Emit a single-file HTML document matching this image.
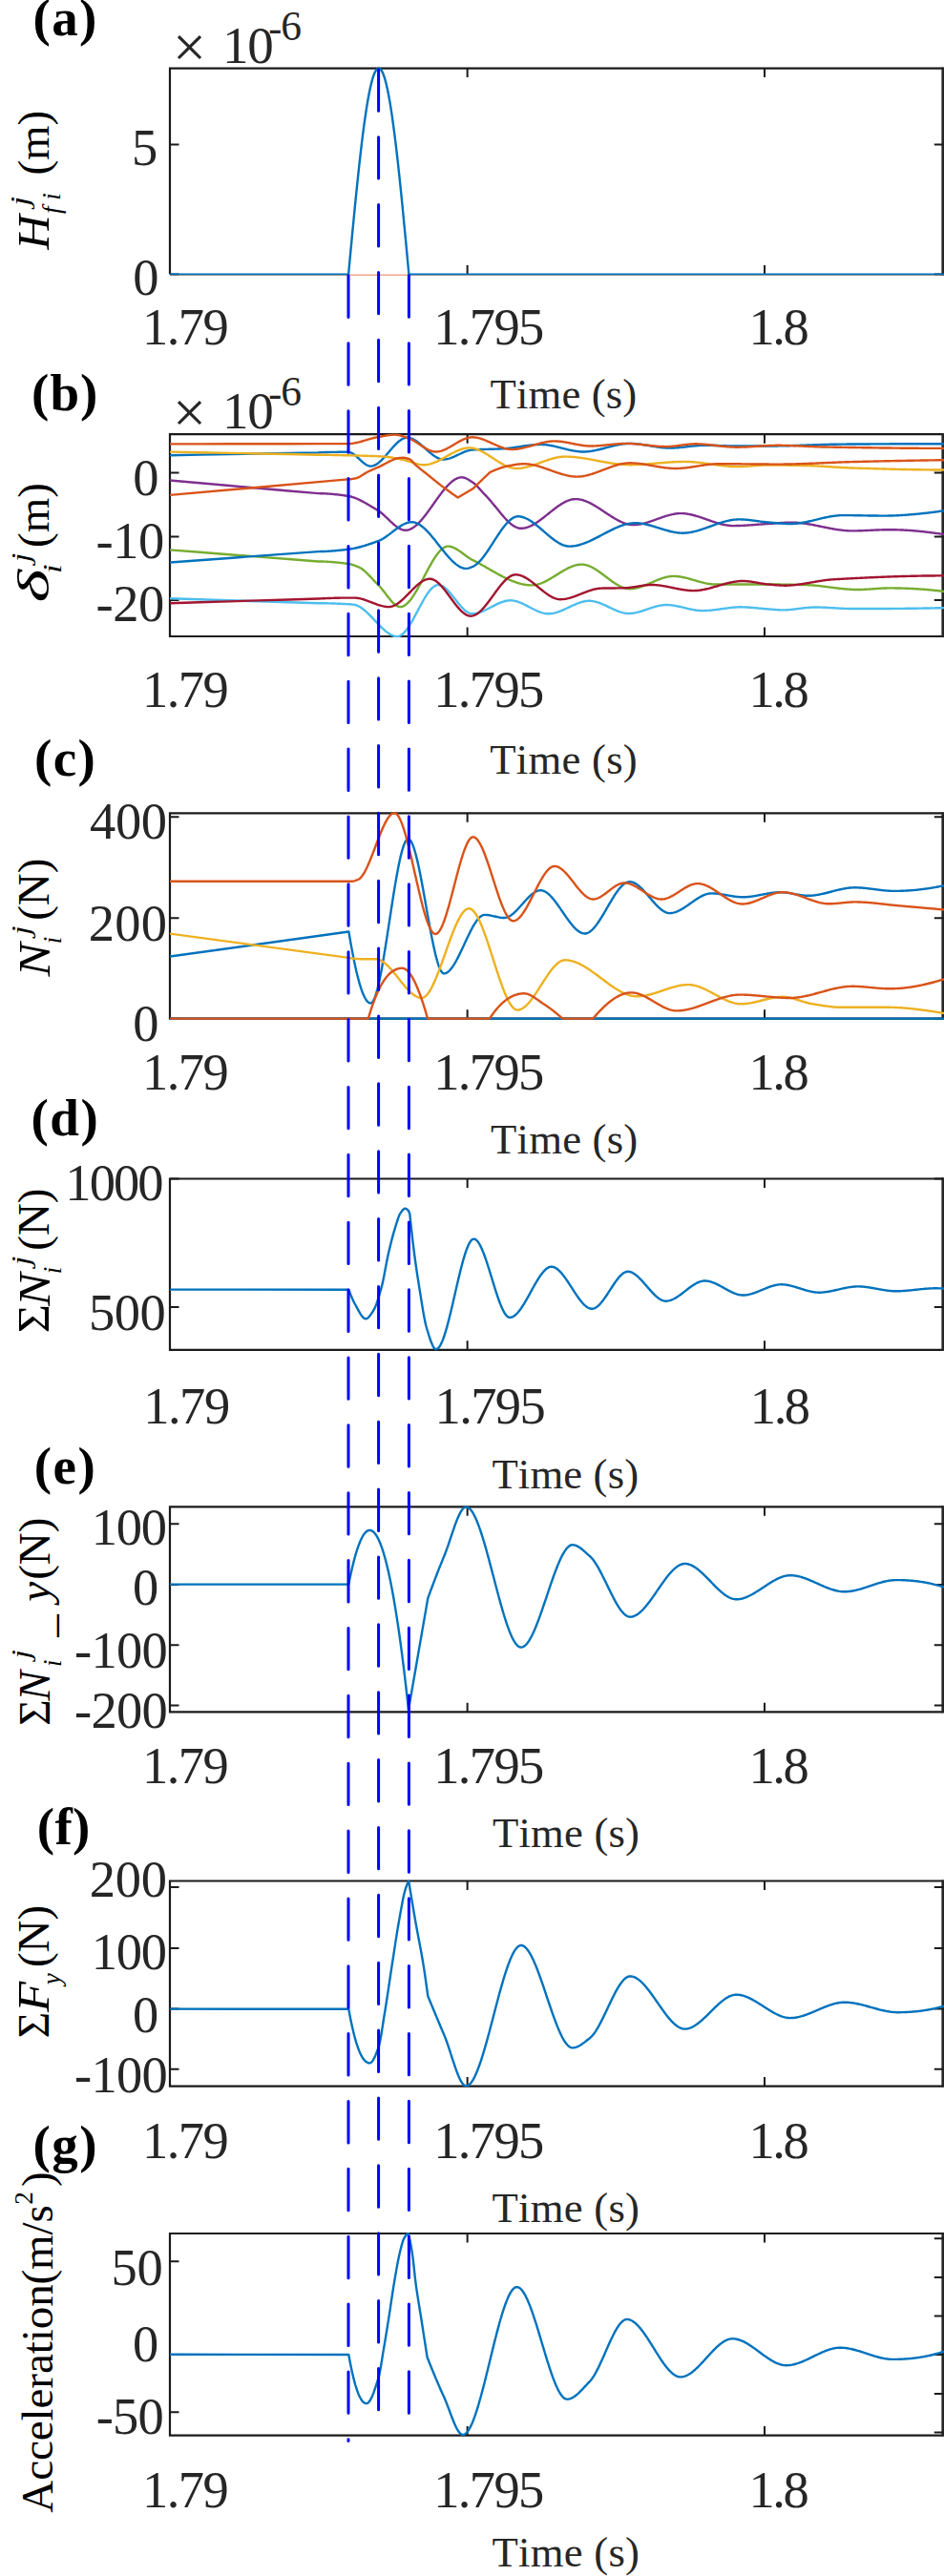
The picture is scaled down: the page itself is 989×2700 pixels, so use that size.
<!DOCTYPE html>
<html><head><meta charset="utf-8"><title>figure</title>
<style>html,body{margin:0;padding:0;background:#fff;}svg{display:block;font-variant-ligatures:none;font-kerning:none;}</style>
</head><body>
<svg width="989" height="2700" viewBox="0 0 989 2700" font-family='"Liberation Serif", "Times New Roman", serif'>
<rect width="989" height="2700" fill="#fff"/>
<defs>
<clipPath id="ca"><rect x="178" y="70.6" width="811.3" height="218"/></clipPath>
<clipPath id="cb"><rect x="178" y="454.2" width="811.3" height="213.8"/></clipPath>
<clipPath id="cc"><rect x="178" y="851.3" width="811.3" height="217.4"/></clipPath>
<clipPath id="cd"><rect x="178" y="1234.5" width="811.3" height="181.3"/></clipPath>
<clipPath id="ce"><rect x="178" y="1578.3" width="811.3" height="217"/></clipPath>
<clipPath id="cf"><rect x="178" y="1970.5" width="811.3" height="217.1"/></clipPath>
<clipPath id="cg"><rect x="178" y="2340" width="811.3" height="213.6"/></clipPath>
</defs>
<path d="M176.9 71.6H988.3M178 71.6V287.6" fill="none" stroke="#1a1a1a" stroke-width="2.2"/>
<path d="M987.8 70.5V288.7" fill="none" stroke="#262626" stroke-width="2.8"/>
<path d="M489.65 287.6V278.1M489.65 71.6V81.1M801 287.6V278.1M801 71.6V81.1M178 151.4H187.5M988.3 151.4H978.8M178 287.6H187.5M988.3 287.6H978.8" stroke="#1a1a1a" stroke-width="2" fill="none"/>
<g clip-path="url(#ca)" fill="none" stroke-linejoin="round" stroke-linecap="round">
<path d="M178 288.6 L988.3 288.6" stroke="#D95319" stroke-width="1.8"/>
<path d="M178 287.6 L365.1 287.6 L365.1 287.6 L365.9 279.01 L366.7 270.44 L367.5 261.89 L368.31 253.39 L369.11 244.93 L369.91 236.55 L370.71 228.25 L371.51 220.04 L372.31 211.93 L373.11 203.95 L373.91 196.1 L374.72 188.39 L375.52 180.84 L376.32 173.46 L377.12 166.26 L377.92 159.25 L378.72 152.45 L379.52 145.86 L380.32 139.49 L381.13 133.35 L381.93 127.46 L382.73 121.83 L383.53 116.45 L384.33 111.35 L385.13 106.53 L385.93 101.99 L386.73 97.74 L387.54 93.8 L388.34 90.16 L389.14 86.83 L389.94 83.82 L390.74 81.14 L391.54 78.78 L392.34 76.75 L393.14 75.05 L393.95 73.69 L394.75 72.67 L395.55 71.98 L396.35 71.64 L397.15 71.64 L397.95 71.98 L398.75 72.67 L399.55 73.69 L400.36 75.05 L401.16 76.75 L401.96 78.78 L402.76 81.14 L403.56 83.82 L404.36 86.83 L405.16 90.16 L405.96 93.8 L406.77 97.74 L407.57 101.99 L408.37 106.53 L409.17 111.35 L409.97 116.45 L410.77 121.83 L411.57 127.46 L412.37 133.35 L413.18 139.49 L413.98 145.86 L414.78 152.45 L415.58 159.25 L416.38 166.26 L417.18 173.46 L417.98 180.84 L418.78 188.39 L419.59 196.1 L420.39 203.95 L421.19 211.93 L421.99 220.04 L422.79 228.25 L423.59 236.55 L424.39 244.93 L425.19 253.39 L426 261.89 L426.8 270.44 L427.6 279.01 L428.4 287.6 L428.4 287.6 L988.3 287.6" stroke="#0072BD" stroke-width="2.4"/>
</g>
<path d="M176.9 455.2H988.3M176.9 667H988.3M178 455.2V667" fill="none" stroke="#1a1a1a" stroke-width="2.2"/>
<path d="M987.8 454.1V668.1" fill="none" stroke="#262626" stroke-width="2.8"/>
<path d="M489.65 667V657.5M489.65 455.2V464.7M801 667V657.5M801 455.2V464.7M178 495.5H187.5M988.3 495.5H978.8M178 562.5H187.5M988.3 562.5H978.8M178 629.1H187.5M988.3 629.1H978.8" stroke="#1a1a1a" stroke-width="2" fill="none"/>
<g clip-path="url(#cb)" fill="none" stroke-linejoin="round" stroke-linecap="round">
<path d="M178 477.2 L209.08 476.63 L240.17 476.07 L271.25 475.5 L302.33 474.93 L333.42 474.37 L334.42 474.31 L335.42 474.26 L336.42 474.22 L337.42 474.17 L338.42 474.13 L339.42 474.1 L340.42 474.06 L341.42 474.03 L342.42 474 L343.42 473.98 L344.42 473.95 L345.42 473.93 L346.42 473.91 L347.42 473.89 L348.42 473.88 L349.42 473.86 L350.42 473.85 L351.42 473.84 L352.42 473.83 L353.42 473.83 L354.42 473.82 L355.42 473.81 L356.42 473.81 L357.42 473.81 L358.42 473.8 L359.42 473.8 L360.42 473.8 L361.42 473.8 L362.42 473.8 L363.42 473.8 L364.42 473.8 L365.42 473.86 L366.42 474.07 L367.42 474.41 L368.42 474.86 L369.42 475.42 L370.42 476.07 L371.42 476.8 L372.42 477.6 L373.42 478.44 L374.42 479.33 L375.42 480.24 L376.42 481.17 L377.42 482.1 L378.42 483.01 L379.42 483.9 L380.42 484.75 L381.42 485.55 L382.42 486.28 L383.42 486.94 L384.42 487.5 L385.42 487.97 L386.42 488.31 L387.42 488.53 L388.42 488.6 L389.42 488.54 L390.42 488.36 L391.42 488.07 L392.42 487.67 L393.42 487.18 L394.42 486.6 L395.42 485.93 L396.42 485.19 L397.42 484.37 L398.42 483.49 L399.42 482.55 L400.42 481.55 L401.42 480.51 L402.42 479.44 L403.42 478.33 L404.42 477.19 L405.42 476.03 L406.42 474.87 L407.42 473.69 L408.42 472.51 L409.42 471.34 L410.42 470.19 L411.42 469.05 L412.42 467.94 L413.42 466.86 L414.42 465.81 L415.42 464.82 L416.42 463.87 L417.42 462.99 L418.42 462.17 L419.42 461.42 L420.42 460.74 L421.42 460.15 L422.42 459.66 L423.42 459.26 L424.42 458.96 L425.42 458.77 L426.42 458.7 L427.42 458.74 L428.42 458.87 L429.42 459.08 L430.42 459.37 L431.42 459.74 L432.42 460.18 L433.42 460.68 L434.42 461.24 L435.42 461.86 L436.42 462.53 L437.42 463.24 L438.42 464 L439.42 464.78 L440.42 465.6 L441.42 466.45 L442.42 467.31 L443.42 468.19 L444.42 469.08 L445.42 469.98 L446.42 470.88 L447.42 471.77 L448.42 472.65 L449.42 473.52 L450.42 474.37 L451.42 475.2 L452.42 476 L453.42 476.76 L454.42 477.48 L455.42 478.16 L456.42 478.8 L457.42 479.37 L458.42 479.89 L459.42 480.35 L460.42 480.74 L461.42 481.05 L462.42 481.28 L463.42 481.44 L464.42 481.5 L465.42 481.48 L466.42 481.4 L467.42 481.27 L468.42 481.1 L469.42 480.87 L470.42 480.6 L471.42 480.3 L472.42 479.96 L473.42 479.59 L474.42 479.19 L475.42 478.77 L476.42 478.33 L477.42 477.88 L478.42 477.41 L479.42 476.94 L480.42 476.46 L481.42 475.99 L482.42 475.52 L483.42 475.05 L484.42 474.6 L485.42 474.16 L486.42 473.74 L487.42 473.35 L488.42 472.98 L489.42 472.64 L490.42 472.34 L491.42 472.07 L492.42 471.85 L493.42 471.68 L494.42 471.55 L495.42 471.47 L496.42 471.41 L497.42 471.35 L498.42 471.29 L499.42 471.24 L500.42 471.2 L501.42 471.15 L502.42 471.11 L503.42 471.07 L504.42 471.04 L505.42 471 L506.42 470.97 L507.42 470.94 L508.42 470.91 L509.42 470.89 L510.42 470.86 L511.42 470.84 L512.42 470.81 L513.42 470.78 L514.42 470.76 L515.42 470.73 L516.42 470.71 L517.42 470.68 L518.42 470.65 L519.42 470.62 L520.42 470.58 L521.42 470.55 L522.42 470.51 L523.42 470.47 L524.42 470.42 L525.42 470.37 L526.42 470.32 L527.42 470.26 L528.42 470.2 L529.42 470.12 L530.42 470.03 L531.42 469.94 L532.42 469.83 L533.42 469.72 L534.42 469.6 L535.42 469.48 L536.42 469.35 L537.42 469.21 L538.42 469.07 L539.42 468.92 L540.42 468.78 L541.42 468.63 L542.42 468.48 L543.42 468.32 L544.42 468.17 L545.42 468.01 L546.42 467.86 L547.42 467.71 L548.42 467.56 L549.42 467.41 L550.42 467.27 L551.42 467.13 L552.42 466.99 L553.42 466.86 L554.42 466.73 L555.42 466.61 L556.42 466.5 L557.42 466.4 L558.42 466.3 L559.42 466.21 L560.42 466.13 L561.42 466.07 L562.42 466.01 L563.42 465.96 L564.42 465.93 L565.42 465.91 L566.42 465.9 L567.42 465.91 L568.42 465.94 L569.42 465.99 L570.42 466.07 L571.42 466.16 L572.42 466.27 L573.42 466.39 L574.42 466.54 L575.42 466.69 L576.42 466.86 L577.42 467.05 L578.42 467.24 L579.42 467.45 L580.42 467.66 L581.42 467.89 L582.42 468.12 L583.42 468.36 L584.42 468.6 L585.42 468.85 L586.42 469.1 L587.42 469.36 L588.42 469.61 L589.42 469.87 L590.42 470.13 L591.42 470.38 L592.42 470.63 L593.42 470.88 L594.42 471.12 L595.42 471.36 L596.42 471.59 L597.42 471.81 L598.42 472.02 L599.42 472.22 L600.42 472.41 L601.42 472.59 L602.42 472.76 L603.42 472.91 L604.42 473.05 L605.42 473.17 L606.42 473.27 L607.42 473.36 L608.42 473.43 L609.42 473.47 L610.42 473.5 L611.42 473.5 L612.42 473.48 L613.42 473.44 L614.42 473.38 L615.42 473.3 L616.42 473.21 L617.42 473.09 L618.42 472.96 L619.42 472.82 L620.42 472.66 L621.42 472.49 L622.42 472.31 L623.42 472.11 L624.42 471.91 L625.42 471.69 L626.42 471.47 L627.42 471.24 L628.42 471 L629.42 470.75 L630.42 470.5 L631.42 470.24 L632.42 469.98 L633.42 469.72 L634.42 469.46 L635.42 469.2 L636.42 468.93 L637.42 468.67 L638.42 468.41 L639.42 468.15 L640.42 467.89 L641.42 467.64 L642.42 467.4 L643.42 467.16 L644.42 466.92 L645.42 466.7 L646.42 466.49 L647.42 466.28 L648.42 466.09 L649.42 465.9 L650.42 465.73 L651.42 465.57 L652.42 465.43 L653.42 465.3 L654.42 465.19 L655.42 465.1 L656.42 465.02 L657.42 464.96 L658.42 464.92 L659.42 464.9 L660.42 464.9 L661.42 464.92 L662.42 464.95 L663.42 465 L664.42 465.06 L665.42 465.13 L666.42 465.21 L667.42 465.31 L668.42 465.41 L669.42 465.53 L670.42 465.65 L671.42 465.78 L672.42 465.92 L673.42 466.07 L674.42 466.22 L675.42 466.37 L676.42 466.53 L677.42 466.69 L678.42 466.86 L679.42 467.03 L680.42 467.19 L681.42 467.36 L682.42 467.53 L683.42 467.7 L684.42 467.86 L685.42 468.02 L686.42 468.18 L687.42 468.33 L688.42 468.48 L689.42 468.63 L690.42 468.76 L691.42 468.89 L692.42 469.01 L693.42 469.12 L694.42 469.22 L695.42 469.31 L696.42 469.39 L697.42 469.46 L698.42 469.52 L699.42 469.56 L700.42 469.59 L701.42 469.6 L702.42 469.6 L703.42 469.58 L704.42 469.56 L705.42 469.52 L706.42 469.47 L707.42 469.41 L708.42 469.35 L709.42 469.27 L710.42 469.19 L711.42 469.11 L712.42 469.01 L713.42 468.91 L714.42 468.81 L715.42 468.7 L716.42 468.59 L717.42 468.48 L718.42 468.37 L719.42 468.25 L720.42 468.13 L721.42 468.02 L722.42 467.91 L723.42 467.79 L724.42 467.68 L725.42 467.58 L726.42 467.47 L727.42 467.38 L728.42 467.28 L729.42 467.2 L730.42 467.12 L731.42 467.04 L732.42 466.98 L733.42 466.92 L734.42 466.88 L735.42 466.84 L736.42 466.82 L737.42 466.8 L738.42 466.8 L739.42 466.8 L740.42 466.81 L741.42 466.82 L742.42 466.83 L743.42 466.85 L744.42 466.86 L745.42 466.88 L746.42 466.91 L747.42 466.93 L748.42 466.95 L749.42 466.98 L750.42 467.01 L751.42 467.04 L752.42 467.07 L753.42 467.1 L754.42 467.13 L755.42 467.16 L756.42 467.19 L757.42 467.22 L758.42 467.25 L759.42 467.28 L760.42 467.31 L761.42 467.33 L762.42 467.36 L763.42 467.38 L764.42 467.41 L765.42 467.43 L766.42 467.45 L767.42 467.46 L768.42 467.48 L769.42 467.49 L770.42 467.49 L771.42 467.5 L772.42 467.5 L773.42 467.5 L774.42 467.5 L775.42 467.5 L776.42 467.5 L777.42 467.5 L778.42 467.5 L779.42 467.5 L780.42 467.5 L781.42 467.5 L782.42 467.5 L783.42 467.5 L784.42 467.5 L785.42 467.5 L786.42 467.5 L787.42 467.5 L788.42 467.5 L789.42 467.5 L790.42 467.5 L791.42 467.5 L792.42 467.5 L793.42 467.5 L794.42 467.5 L795.42 467.5 L796.42 467.5 L797.42 467.5 L798.42 467.5 L799.42 467.5 L800.42 467.5 L801.42 467.5 L802.42 467.5 L803.42 467.5 L804.42 467.5 L805.42 467.5 L806.42 467.5 L807.42 467.5 L808.42 467.49 L809.42 467.48 L810.42 467.48 L811.42 467.47 L812.42 467.46 L813.42 467.44 L814.42 467.43 L815.42 467.42 L816.42 467.4 L817.42 467.38 L818.42 467.36 L819.42 467.34 L820.42 467.32 L821.42 467.3 L822.42 467.28 L823.42 467.25 L824.42 467.23 L825.42 467.2 L826.42 467.18 L827.42 467.15 L828.42 467.12 L829.42 467.09 L830.42 467.06 L831.42 467.03 L832.42 467 L833.42 466.97 L834.42 466.94 L835.42 466.91 L836.42 466.88 L837.42 466.84 L838.42 466.81 L839.42 466.77 L840.42 466.74 L841.42 466.71 L842.42 466.67 L843.42 466.64 L844.42 466.6 L845.42 466.57 L846.42 466.53 L847.42 466.5 L848.42 466.46 L849.42 466.43 L850.42 466.39 L851.42 466.36 L852.42 466.32 L853.42 466.29 L854.42 466.26 L855.42 466.22 L856.42 466.19 L857.42 466.16 L858.42 466.13 L859.42 466.09 L860.42 466.06 L861.42 466.03 L862.42 466 L863.42 465.97 L864.42 465.95 L865.42 465.92 L866.42 465.89 L867.42 465.87 L868.42 465.84 L869.42 465.82 L870.42 465.79 L871.42 465.77 L872.42 465.75 L873.42 465.73 L874.42 465.71 L875.42 465.69 L876.42 465.68 L877.42 465.66 L878.42 465.65 L879.42 465.63 L880.42 465.62 L881.42 465.61 L882.42 465.6 L883.42 465.6 L884.42 465.59 L885.42 465.58 L886.42 465.58 L887.42 465.57 L888.42 465.56 L889.42 465.56 L890.42 465.55 L891.42 465.54 L892.42 465.54 L893.42 465.53 L894.42 465.53 L895.42 465.52 L896.42 465.51 L897.42 465.51 L898.42 465.5 L899.42 465.49 L900.42 465.49 L901.42 465.48 L902.42 465.48 L903.42 465.47 L904.42 465.46 L905.42 465.46 L906.42 465.45 L907.42 465.45 L908.42 465.44 L909.42 465.44 L910.42 465.43 L911.42 465.43 L912.42 465.42 L913.42 465.41 L914.42 465.41 L915.42 465.4 L916.42 465.4 L917.42 465.39 L918.42 465.39 L919.42 465.38 L920.42 465.38 L921.42 465.37 L922.42 465.37 L923.42 465.36 L924.42 465.36 L925.42 465.35 L926.42 465.35 L927.42 465.35 L928.42 465.34 L929.42 465.34 L930.42 465.33 L931.42 465.33 L932.42 465.32 L933.42 465.32 L934.42 465.32 L935.42 465.31 L936.42 465.31 L937.42 465.3 L938.42 465.3 L939.42 465.3 L940.42 465.29 L941.42 465.29 L942.42 465.28 L943.42 465.28 L944.42 465.28 L945.42 465.27 L946.42 465.27 L947.42 465.27 L948.42 465.26 L949.42 465.26 L950.42 465.26 L951.42 465.26 L952.42 465.25 L953.42 465.25 L954.42 465.25 L955.42 465.24 L956.42 465.24 L957.42 465.24 L958.42 465.24 L959.42 465.23 L960.42 465.23 L961.42 465.23 L962.42 465.23 L963.42 465.23 L964.42 465.22 L965.42 465.22 L966.42 465.22 L967.42 465.22 L968.42 465.22 L969.42 465.22 L970.42 465.21 L971.42 465.21 L972.42 465.21 L973.42 465.21 L974.42 465.21 L975.42 465.21 L976.42 465.21 L977.42 465.21 L978.42 465.2 L979.42 465.2 L980.42 465.2 L981.42 465.2 L982.42 465.2 L983.42 465.2 L984.42 465.2 L985.42 465.2 L986.42 465.2 L987.42 465.2 L988.3 465.2" stroke="#0072BD" stroke-width="2.4"/>
<path d="M178 465.4 L209.08 465.35 L240.17 465.3 L271.25 465.25 L302.33 465.2 L333.42 465.15 L334.42 465.15 L335.42 465.15 L336.42 465.15 L337.42 465.15 L338.42 465.15 L339.42 465.15 L340.42 465.15 L341.42 465.15 L342.42 465.15 L343.42 465.14 L344.42 465.14 L345.42 465.14 L346.42 465.14 L347.42 465.14 L348.42 465.14 L349.42 465.14 L350.42 465.13 L351.42 465.13 L352.42 465.13 L353.42 465.13 L354.42 465.13 L355.42 465.12 L356.42 465.12 L357.42 465.12 L358.42 465.12 L359.42 465.11 L360.42 465.11 L361.42 465.11 L362.42 465.11 L363.42 465.1 L364.42 465.1 L365.42 465.08 L366.42 465.04 L367.42 464.96 L368.42 464.86 L369.42 464.74 L370.42 464.59 L371.42 464.42 L372.42 464.23 L373.42 464.02 L374.42 463.8 L375.42 463.56 L376.42 463.31 L377.42 463.04 L378.42 462.77 L379.42 462.48 L380.42 462.19 L381.42 461.9 L382.42 461.6 L383.42 461.3 L384.42 461 L385.42 460.7 L386.42 460.4 L387.42 460.11 L388.42 459.83 L389.42 459.55 L390.42 459.29 L391.42 459.03 L392.42 458.79 L393.42 458.56 L394.42 458.35 L395.42 458.15 L396.42 457.98 L397.42 457.81 L398.42 457.63 L399.42 457.45 L400.42 457.26 L401.42 457.08 L402.42 456.9 L403.42 456.72 L404.42 456.54 L405.42 456.38 L406.42 456.22 L407.42 456.08 L408.42 455.95 L409.42 455.84 L410.42 455.75 L411.42 455.67 L412.42 455.63 L413.42 455.6 L414.42 455.61 L415.42 455.68 L416.42 455.81 L417.42 455.99 L418.42 456.21 L419.42 456.48 L420.42 456.77 L421.42 457.1 L422.42 457.44 L423.42 457.8 L424.42 458.17 L425.42 458.54 L426.42 458.91 L427.42 459.26 L428.42 459.61 L429.42 459.99 L430.42 460.43 L431.42 460.9 L432.42 461.42 L433.42 461.97 L434.42 462.55 L435.42 463.16 L436.42 463.78 L437.42 464.43 L438.42 465.08 L439.42 465.74 L440.42 466.41 L441.42 467.07 L442.42 467.72 L443.42 468.37 L444.42 468.99 L445.42 469.6 L446.42 470.18 L447.42 470.72 L448.42 471.24 L449.42 471.71 L450.42 472.14 L451.42 472.51 L452.42 472.84 L453.42 473.1 L454.42 473.3 L455.42 473.44 L456.42 473.5 L457.42 473.48 L458.42 473.41 L459.42 473.28 L460.42 473.09 L461.42 472.86 L462.42 472.58 L463.42 472.25 L464.42 471.88 L465.42 471.48 L466.42 471.04 L467.42 470.57 L468.42 470.07 L469.42 469.55 L470.42 469.01 L471.42 468.45 L472.42 467.87 L473.42 467.29 L474.42 466.7 L475.42 466.1 L476.42 465.5 L477.42 464.91 L478.42 464.31 L479.42 463.73 L480.42 463.16 L481.42 462.61 L482.42 462.07 L483.42 461.56 L484.42 461.07 L485.42 460.61 L486.42 460.18 L487.42 459.79 L488.42 459.44 L489.42 459.12 L490.42 458.86 L491.42 458.64 L492.42 458.47 L493.42 458.36 L494.42 458.3 L495.42 458.31 L496.42 458.36 L497.42 458.45 L498.42 458.57 L499.42 458.74 L500.42 458.93 L501.42 459.17 L502.42 459.43 L503.42 459.72 L504.42 460.03 L505.42 460.37 L506.42 460.73 L507.42 461.11 L508.42 461.5 L509.42 461.92 L510.42 462.34 L511.42 462.78 L512.42 463.22 L513.42 463.67 L514.42 464.13 L515.42 464.59 L516.42 465.05 L517.42 465.5 L518.42 465.96 L519.42 466.4 L520.42 466.84 L521.42 467.27 L522.42 467.69 L523.42 468.09 L524.42 468.47 L525.42 468.84 L526.42 469.18 L527.42 469.5 L528.42 469.8 L529.42 470.07 L530.42 470.31 L531.42 470.51 L532.42 470.69 L533.42 470.82 L534.42 470.92 L535.42 470.98 L536.42 471 L537.42 470.98 L538.42 470.94 L539.42 470.88 L540.42 470.79 L541.42 470.69 L542.42 470.56 L543.42 470.41 L544.42 470.25 L545.42 470.07 L546.42 469.87 L547.42 469.66 L548.42 469.43 L549.42 469.2 L550.42 468.95 L551.42 468.7 L552.42 468.43 L553.42 468.16 L554.42 467.88 L555.42 467.6 L556.42 467.32 L557.42 467.03 L558.42 466.74 L559.42 466.45 L560.42 466.16 L561.42 465.87 L562.42 465.59 L563.42 465.31 L564.42 465.04 L565.42 464.77 L566.42 464.51 L567.42 464.27 L568.42 464.03 L569.42 463.8 L570.42 463.59 L571.42 463.39 L572.42 463.2 L573.42 463.03 L574.42 462.88 L575.42 462.75 L576.42 462.63 L577.42 462.54 L578.42 462.47 L579.42 462.42 L580.42 462.4 L581.42 462.4 L582.42 462.43 L583.42 462.47 L584.42 462.53 L585.42 462.61 L586.42 462.7 L587.42 462.81 L588.42 462.93 L589.42 463.06 L590.42 463.21 L591.42 463.36 L592.42 463.53 L593.42 463.7 L594.42 463.88 L595.42 464.07 L596.42 464.26 L597.42 464.46 L598.42 464.65 L599.42 464.85 L600.42 465.05 L601.42 465.25 L602.42 465.45 L603.42 465.65 L604.42 465.84 L605.42 466.02 L606.42 466.2 L607.42 466.38 L608.42 466.54 L609.42 466.7 L610.42 466.84 L611.42 466.98 L612.42 467.1 L613.42 467.2 L614.42 467.3 L615.42 467.37 L616.42 467.43 L617.42 467.47 L618.42 467.5 L619.42 467.5 L620.42 467.49 L621.42 467.47 L622.42 467.44 L623.42 467.4 L624.42 467.35 L625.42 467.29 L626.42 467.23 L627.42 467.16 L628.42 467.08 L629.42 467 L630.42 466.91 L631.42 466.82 L632.42 466.72 L633.42 466.62 L634.42 466.52 L635.42 466.42 L636.42 466.31 L637.42 466.21 L638.42 466.1 L639.42 466 L640.42 465.9 L641.42 465.79 L642.42 465.69 L643.42 465.6 L644.42 465.5 L645.42 465.42 L646.42 465.33 L647.42 465.25 L648.42 465.18 L649.42 465.12 L650.42 465.06 L651.42 465.01 L652.42 464.97 L653.42 464.94 L654.42 464.91 L655.42 464.9 L656.42 464.9 L657.42 464.91 L658.42 464.93 L659.42 464.96 L660.42 465 L661.42 465.05 L662.42 465.1 L663.42 465.17 L664.42 465.24 L665.42 465.31 L666.42 465.39 L667.42 465.48 L668.42 465.58 L669.42 465.67 L670.42 465.78 L671.42 465.88 L672.42 465.99 L673.42 466.1 L674.42 466.21 L675.42 466.32 L676.42 466.44 L677.42 466.55 L678.42 466.67 L679.42 466.78 L680.42 466.89 L681.42 467 L682.42 467.11 L683.42 467.22 L684.42 467.32 L685.42 467.42 L686.42 467.51 L687.42 467.6 L688.42 467.68 L689.42 467.76 L690.42 467.83 L691.42 467.89 L692.42 467.95 L693.42 468 L694.42 468.04 L695.42 468.07 L696.42 468.09 L697.42 468.1 L698.42 468.1 L699.42 468.08 L700.42 468.05 L701.42 468 L702.42 467.93 L703.42 467.86 L704.42 467.77 L705.42 467.67 L706.42 467.57 L707.42 467.45 L708.42 467.33 L709.42 467.2 L710.42 467.07 L711.42 466.94 L712.42 466.8 L713.42 466.66 L714.42 466.53 L715.42 466.39 L716.42 466.26 L717.42 466.13 L718.42 466 L719.42 465.89 L720.42 465.78 L721.42 465.67 L722.42 465.58 L723.42 465.5 L724.42 465.43 L725.42 465.38 L726.42 465.33 L727.42 465.31 L728.42 465.3 L729.42 465.31 L730.42 465.32 L731.42 465.35 L732.42 465.38 L733.42 465.42 L734.42 465.47 L735.42 465.53 L736.42 465.6 L737.42 465.67 L738.42 465.75 L739.42 465.83 L740.42 465.92 L741.42 466.02 L742.42 466.12 L743.42 466.22 L744.42 466.33 L745.42 466.44 L746.42 466.55 L747.42 466.66 L748.42 466.78 L749.42 466.89 L750.42 467.01 L751.42 467.12 L752.42 467.24 L753.42 467.35 L754.42 467.47 L755.42 467.58 L756.42 467.69 L757.42 467.79 L758.42 467.89 L759.42 467.99 L760.42 468.09 L761.42 468.18 L762.42 468.26 L763.42 468.34 L764.42 468.41 L765.42 468.48 L766.42 468.53 L767.42 468.58 L768.42 468.62 L769.42 468.66 L770.42 468.68 L771.42 468.7 L772.42 468.7 L773.42 468.7 L774.42 468.69 L775.42 468.67 L776.42 468.65 L777.42 468.62 L778.42 468.59 L779.42 468.56 L780.42 468.52 L781.42 468.48 L782.42 468.43 L783.42 468.38 L784.42 468.33 L785.42 468.27 L786.42 468.21 L787.42 468.15 L788.42 468.09 L789.42 468.03 L790.42 467.96 L791.42 467.9 L792.42 467.83 L793.42 467.77 L794.42 467.7 L795.42 467.63 L796.42 467.57 L797.42 467.5 L798.42 467.44 L799.42 467.37 L800.42 467.31 L801.42 467.25 L802.42 467.2 L803.42 467.14 L804.42 467.09 L805.42 467.04 L806.42 467 L807.42 466.96 L808.42 466.92 L809.42 466.89 L810.42 466.86 L811.42 466.84 L812.42 466.82 L813.42 466.81 L814.42 466.8 L815.42 466.8 L816.42 466.8 L817.42 466.81 L818.42 466.82 L819.42 466.83 L820.42 466.85 L821.42 466.87 L822.42 466.89 L823.42 466.91 L824.42 466.94 L825.42 466.97 L826.42 467 L827.42 467.03 L828.42 467.07 L829.42 467.11 L830.42 467.14 L831.42 467.18 L832.42 467.23 L833.42 467.27 L834.42 467.31 L835.42 467.36 L836.42 467.4 L837.42 467.45 L838.42 467.5 L839.42 467.55 L840.42 467.59 L841.42 467.64 L842.42 467.69 L843.42 467.74 L844.42 467.79 L845.42 467.84 L846.42 467.88 L847.42 467.93 L848.42 467.98 L849.42 468.02 L850.42 468.07 L851.42 468.11 L852.42 468.15 L853.42 468.19 L854.42 468.23 L855.42 468.27 L856.42 468.31 L857.42 468.34 L858.42 468.37 L859.42 468.4 L860.42 468.43 L861.42 468.46 L862.42 468.48 L863.42 468.5 L864.42 468.52 L865.42 468.54 L866.42 468.55 L867.42 468.57 L868.42 468.59 L869.42 468.61 L870.42 468.63 L871.42 468.64 L872.42 468.66 L873.42 468.68 L874.42 468.7 L875.42 468.72 L876.42 468.73 L877.42 468.75 L878.42 468.77 L879.42 468.79 L880.42 468.8 L881.42 468.82 L882.42 468.84 L883.42 468.85 L884.42 468.87 L885.42 468.89 L886.42 468.91 L887.42 468.92 L888.42 468.94 L889.42 468.96 L890.42 468.97 L891.42 468.99 L892.42 469 L893.42 469.02 L894.42 469.04 L895.42 469.05 L896.42 469.07 L897.42 469.08 L898.42 469.1 L899.42 469.12 L900.42 469.13 L901.42 469.15 L902.42 469.16 L903.42 469.18 L904.42 469.19 L905.42 469.21 L906.42 469.22 L907.42 469.24 L908.42 469.25 L909.42 469.27 L910.42 469.28 L911.42 469.3 L912.42 469.31 L913.42 469.32 L914.42 469.34 L915.42 469.35 L916.42 469.36 L917.42 469.38 L918.42 469.39 L919.42 469.4 L920.42 469.42 L921.42 469.43 L922.42 469.44 L923.42 469.46 L924.42 469.47 L925.42 469.48 L926.42 469.49 L927.42 469.51 L928.42 469.52 L929.42 469.53 L930.42 469.54 L931.42 469.55 L932.42 469.56 L933.42 469.57 L934.42 469.59 L935.42 469.6 L936.42 469.61 L937.42 469.62 L938.42 469.63 L939.42 469.64 L940.42 469.65 L941.42 469.66 L942.42 469.67 L943.42 469.68 L944.42 469.69 L945.42 469.7 L946.42 469.7 L947.42 469.71 L948.42 469.72 L949.42 469.73 L950.42 469.74 L951.42 469.75 L952.42 469.75 L953.42 469.76 L954.42 469.77 L955.42 469.78 L956.42 469.78 L957.42 469.79 L958.42 469.8 L959.42 469.8 L960.42 469.81 L961.42 469.82 L962.42 469.82 L963.42 469.83 L964.42 469.83 L965.42 469.84 L966.42 469.84 L967.42 469.85 L968.42 469.85 L969.42 469.86 L970.42 469.86 L971.42 469.87 L972.42 469.87 L973.42 469.87 L974.42 469.88 L975.42 469.88 L976.42 469.88 L977.42 469.89 L978.42 469.89 L979.42 469.89 L980.42 469.89 L981.42 469.89 L982.42 469.9 L983.42 469.9 L984.42 469.9 L985.42 469.9 L986.42 469.9 L987.42 469.9 L988.3 469.9" stroke="#D95319" stroke-width="2.4"/>
<path d="M178 473.6 L209.08 474.22 L240.17 474.83 L271.25 475.45 L302.33 476.07 L333.42 476.68 L334.42 476.7 L335.42 476.71 L336.42 476.73 L337.42 476.74 L338.42 476.76 L339.42 476.77 L340.42 476.79 L341.42 476.81 L342.42 476.82 L343.42 476.84 L344.42 476.86 L345.42 476.88 L346.42 476.9 L347.42 476.92 L348.42 476.94 L349.42 476.96 L350.42 476.98 L351.42 477 L352.42 477.02 L353.42 477.04 L354.42 477.06 L355.42 477.09 L356.42 477.11 L357.42 477.13 L358.42 477.15 L359.42 477.18 L360.42 477.2 L361.42 477.22 L362.42 477.25 L363.42 477.27 L364.42 477.3 L365.42 477.32 L366.42 477.35 L367.42 477.37 L368.42 477.39 L369.42 477.42 L370.42 477.44 L371.42 477.46 L372.42 477.49 L373.42 477.51 L374.42 477.54 L375.42 477.56 L376.42 477.58 L377.42 477.61 L378.42 477.63 L379.42 477.66 L380.42 477.69 L381.42 477.71 L382.42 477.74 L383.42 477.77 L384.42 477.8 L385.42 477.83 L386.42 477.86 L387.42 477.9 L388.42 477.93 L389.42 477.97 L390.42 478 L391.42 478.04 L392.42 478.08 L393.42 478.12 L394.42 478.17 L395.42 478.21 L396.42 478.26 L397.42 478.31 L398.42 478.36 L399.42 478.41 L400.42 478.47 L401.42 478.52 L402.42 478.58 L403.42 478.65 L404.42 478.73 L405.42 478.83 L406.42 478.95 L407.42 479.08 L408.42 479.23 L409.42 479.38 L410.42 479.55 L411.42 479.73 L412.42 479.91 L413.42 480.11 L414.42 480.3 L415.42 480.51 L416.42 480.71 L417.42 480.92 L418.42 481.13 L419.42 481.34 L420.42 481.54 L421.42 481.74 L422.42 481.95 L423.42 482.18 L424.42 482.44 L425.42 482.72 L426.42 483.02 L427.42 483.33 L428.42 483.65 L429.42 483.98 L430.42 484.31 L431.42 484.64 L432.42 484.97 L433.42 485.29 L434.42 485.59 L435.42 485.89 L436.42 486.16 L437.42 486.42 L438.42 486.65 L439.42 486.85 L440.42 487.02 L441.42 487.15 L442.42 487.24 L443.42 487.29 L444.42 487.3 L445.42 487.25 L446.42 487.17 L447.42 487.04 L448.42 486.87 L449.42 486.66 L450.42 486.42 L451.42 486.14 L452.42 485.82 L453.42 485.48 L454.42 485.11 L455.42 484.71 L456.42 484.29 L457.42 483.85 L458.42 483.38 L459.42 482.9 L460.42 482.4 L461.42 481.88 L462.42 481.36 L463.42 480.82 L464.42 480.27 L465.42 479.71 L466.42 479.16 L467.42 478.59 L468.42 478.03 L469.42 477.47 L470.42 476.91 L471.42 476.36 L472.42 475.81 L473.42 475.27 L474.42 474.75 L475.42 474.23 L476.42 473.74 L477.42 473.25 L478.42 472.79 L479.42 472.35 L480.42 471.93 L481.42 471.54 L482.42 471.17 L483.42 470.83 L484.42 470.52 L485.42 470.25 L486.42 470.01 L487.42 469.81 L488.42 469.64 L489.42 469.52 L490.42 469.44 L491.42 469.4 L492.42 469.41 L493.42 469.48 L494.42 469.59 L495.42 469.75 L496.42 469.95 L497.42 470.2 L498.42 470.49 L499.42 470.82 L500.42 471.18 L501.42 471.58 L502.42 472.01 L503.42 472.47 L504.42 472.96 L505.42 473.47 L506.42 474.01 L507.42 474.57 L508.42 475.15 L509.42 475.74 L510.42 476.35 L511.42 476.98 L512.42 477.61 L513.42 478.25 L514.42 478.9 L515.42 479.56 L516.42 480.21 L517.42 480.87 L518.42 481.52 L519.42 482.17 L520.42 482.81 L521.42 483.45 L522.42 484.07 L523.42 484.68 L524.42 485.27 L525.42 485.85 L526.42 486.41 L527.42 486.95 L528.42 487.46 L529.42 487.95 L530.42 488.41 L531.42 488.84 L532.42 489.23 L533.42 489.59 L534.42 489.92 L535.42 490.21 L536.42 490.45 L537.42 490.66 L538.42 490.82 L539.42 490.93 L540.42 490.99 L541.42 491 L542.42 490.98 L543.42 490.92 L544.42 490.85 L545.42 490.75 L546.42 490.62 L547.42 490.47 L548.42 490.3 L549.42 490.11 L550.42 489.9 L551.42 489.67 L552.42 489.43 L553.42 489.17 L554.42 488.89 L555.42 488.6 L556.42 488.3 L557.42 487.98 L558.42 487.66 L559.42 487.33 L560.42 486.98 L561.42 486.64 L562.42 486.28 L563.42 485.92 L564.42 485.56 L565.42 485.2 L566.42 484.83 L567.42 484.46 L568.42 484.1 L569.42 483.74 L570.42 483.38 L571.42 483.02 L572.42 482.67 L573.42 482.33 L574.42 482 L575.42 481.67 L576.42 481.35 L577.42 481.05 L578.42 480.76 L579.42 480.48 L580.42 480.21 L581.42 479.97 L582.42 479.74 L583.42 479.52 L584.42 479.33 L585.42 479.15 L586.42 479 L587.42 478.87 L588.42 478.77 L589.42 478.69 L590.42 478.63 L591.42 478.6 L592.42 478.6 L593.42 478.61 L594.42 478.63 L595.42 478.67 L596.42 478.71 L597.42 478.76 L598.42 478.82 L599.42 478.89 L600.42 478.97 L601.42 479.06 L602.42 479.16 L603.42 479.26 L604.42 479.37 L605.42 479.49 L606.42 479.61 L607.42 479.74 L608.42 479.88 L609.42 480.02 L610.42 480.17 L611.42 480.32 L612.42 480.48 L613.42 480.64 L614.42 480.81 L615.42 480.98 L616.42 481.15 L617.42 481.33 L618.42 481.51 L619.42 481.69 L620.42 481.88 L621.42 482.06 L622.42 482.25 L623.42 482.44 L624.42 482.63 L625.42 482.82 L626.42 483.01 L627.42 483.2 L628.42 483.39 L629.42 483.58 L630.42 483.76 L631.42 483.95 L632.42 484.13 L633.42 484.31 L634.42 484.49 L635.42 484.67 L636.42 484.84 L637.42 485.01 L638.42 485.18 L639.42 485.34 L640.42 485.5 L641.42 485.65 L642.42 485.8 L643.42 485.94 L644.42 486.08 L645.42 486.21 L646.42 486.33 L647.42 486.45 L648.42 486.56 L649.42 486.66 L650.42 486.75 L651.42 486.84 L652.42 486.92 L653.42 486.99 L654.42 487.05 L655.42 487.1 L656.42 487.14 L657.42 487.17 L658.42 487.19 L659.42 487.2 L660.42 487.2 L661.42 487.19 L662.42 487.18 L663.42 487.16 L664.42 487.14 L665.42 487.11 L666.42 487.08 L667.42 487.04 L668.42 487 L669.42 486.95 L670.42 486.9 L671.42 486.85 L672.42 486.79 L673.42 486.73 L674.42 486.66 L675.42 486.6 L676.42 486.53 L677.42 486.45 L678.42 486.38 L679.42 486.3 L680.42 486.22 L681.42 486.14 L682.42 486.06 L683.42 485.98 L684.42 485.89 L685.42 485.81 L686.42 485.72 L687.42 485.64 L688.42 485.55 L689.42 485.46 L690.42 485.38 L691.42 485.29 L692.42 485.2 L693.42 485.12 L694.42 485.04 L695.42 484.95 L696.42 484.87 L697.42 484.8 L698.42 484.72 L699.42 484.64 L700.42 484.57 L701.42 484.5 L702.42 484.43 L703.42 484.37 L704.42 484.31 L705.42 484.25 L706.42 484.2 L707.42 484.15 L708.42 484.1 L709.42 484.06 L710.42 484.02 L711.42 483.99 L712.42 483.96 L713.42 483.94 L714.42 483.92 L715.42 483.91 L716.42 483.9 L717.42 483.9 L718.42 483.91 L719.42 483.93 L720.42 483.96 L721.42 483.99 L722.42 484.04 L723.42 484.09 L724.42 484.16 L725.42 484.22 L726.42 484.3 L727.42 484.38 L728.42 484.47 L729.42 484.57 L730.42 484.67 L731.42 484.78 L732.42 484.89 L733.42 485 L734.42 485.12 L735.42 485.25 L736.42 485.37 L737.42 485.5 L738.42 485.64 L739.42 485.77 L740.42 485.91 L741.42 486.05 L742.42 486.19 L743.42 486.33 L744.42 486.47 L745.42 486.61 L746.42 486.75 L747.42 486.89 L748.42 487.03 L749.42 487.17 L750.42 487.3 L751.42 487.44 L752.42 487.57 L753.42 487.7 L754.42 487.82 L755.42 487.94 L756.42 488.06 L757.42 488.17 L758.42 488.28 L759.42 488.38 L760.42 488.48 L761.42 488.58 L762.42 488.66 L763.42 488.74 L764.42 488.81 L765.42 488.88 L766.42 488.94 L767.42 488.99 L768.42 489.03 L769.42 489.06 L770.42 489.08 L771.42 489.1 L772.42 489.1 L773.42 489.09 L774.42 489.08 L775.42 489.06 L776.42 489.03 L777.42 488.99 L778.42 488.95 L779.42 488.91 L780.42 488.85 L781.42 488.8 L782.42 488.74 L783.42 488.67 L784.42 488.6 L785.42 488.53 L786.42 488.46 L787.42 488.39 L788.42 488.32 L789.42 488.24 L790.42 488.17 L791.42 488.1 L792.42 488.03 L793.42 487.96 L794.42 487.89 L795.42 487.83 L796.42 487.77 L797.42 487.72 L798.42 487.67 L799.42 487.62 L800.42 487.59 L801.42 487.55 L802.42 487.53 L803.42 487.51 L804.42 487.5 L805.42 487.5 L806.42 487.5 L807.42 487.5 L808.42 487.51 L809.42 487.51 L810.42 487.51 L811.42 487.52 L812.42 487.52 L813.42 487.53 L814.42 487.54 L815.42 487.55 L816.42 487.56 L817.42 487.57 L818.42 487.58 L819.42 487.59 L820.42 487.6 L821.42 487.61 L822.42 487.62 L823.42 487.64 L824.42 487.65 L825.42 487.67 L826.42 487.68 L827.42 487.7 L828.42 487.71 L829.42 487.73 L830.42 487.74 L831.42 487.76 L832.42 487.78 L833.42 487.8 L834.42 487.81 L835.42 487.83 L836.42 487.85 L837.42 487.87 L838.42 487.89 L839.42 487.91 L840.42 487.93 L841.42 487.95 L842.42 487.97 L843.42 487.99 L844.42 488.01 L845.42 488.03 L846.42 488.06 L847.42 488.09 L848.42 488.12 L849.42 488.16 L850.42 488.19 L851.42 488.23 L852.42 488.28 L853.42 488.32 L854.42 488.37 L855.42 488.42 L856.42 488.47 L857.42 488.52 L858.42 488.58 L859.42 488.63 L860.42 488.69 L861.42 488.75 L862.42 488.81 L863.42 488.87 L864.42 488.93 L865.42 489 L866.42 489.06 L867.42 489.12 L868.42 489.19 L869.42 489.25 L870.42 489.32 L871.42 489.38 L872.42 489.44 L873.42 489.51 L874.42 489.57 L875.42 489.63 L876.42 489.7 L877.42 489.76 L878.42 489.82 L879.42 489.88 L880.42 489.94 L881.42 489.99 L882.42 490.05 L883.42 490.1 L884.42 490.15 L885.42 490.2 L886.42 490.25 L887.42 490.3 L888.42 490.34 L889.42 490.38 L890.42 490.42 L891.42 490.46 L892.42 490.49 L893.42 490.52 L894.42 490.55 L895.42 490.58 L896.42 490.62 L897.42 490.65 L898.42 490.68 L899.42 490.71 L900.42 490.74 L901.42 490.77 L902.42 490.8 L903.42 490.83 L904.42 490.86 L905.42 490.89 L906.42 490.92 L907.42 490.95 L908.42 490.98 L909.42 491.01 L910.42 491.04 L911.42 491.07 L912.42 491.1 L913.42 491.13 L914.42 491.16 L915.42 491.19 L916.42 491.22 L917.42 491.25 L918.42 491.28 L919.42 491.31 L920.42 491.34 L921.42 491.37 L922.42 491.39 L923.42 491.42 L924.42 491.45 L925.42 491.48 L926.42 491.5 L927.42 491.53 L928.42 491.56 L929.42 491.59 L930.42 491.61 L931.42 491.64 L932.42 491.66 L933.42 491.69 L934.42 491.72 L935.42 491.74 L936.42 491.76 L937.42 491.79 L938.42 491.81 L939.42 491.84 L940.42 491.86 L941.42 491.88 L942.42 491.91 L943.42 491.93 L944.42 491.95 L945.42 491.97 L946.42 492 L947.42 492.02 L948.42 492.04 L949.42 492.06 L950.42 492.08 L951.42 492.1 L952.42 492.12 L953.42 492.14 L954.42 492.15 L955.42 492.17 L956.42 492.19 L957.42 492.21 L958.42 492.23 L959.42 492.24 L960.42 492.26 L961.42 492.27 L962.42 492.29 L963.42 492.3 L964.42 492.32 L965.42 492.33 L966.42 492.34 L967.42 492.36 L968.42 492.37 L969.42 492.38 L970.42 492.39 L971.42 492.4 L972.42 492.41 L973.42 492.42 L974.42 492.43 L975.42 492.44 L976.42 492.45 L977.42 492.46 L978.42 492.46 L979.42 492.47 L980.42 492.47 L981.42 492.48 L982.42 492.48 L983.42 492.49 L984.42 492.49 L985.42 492.5 L986.42 492.5 L987.42 492.5 L988.3 492.5" stroke="#EDB120" stroke-width="2.4"/>
<path d="M178 503.5 L209.08 506.23 L240.17 508.97 L271.25 511.7 L302.33 514.43 L333.42 517.17 L334.42 517.17 L335.42 517.18 L336.42 517.2 L337.42 517.22 L338.42 517.26 L339.42 517.29 L340.42 517.34 L341.42 517.39 L342.42 517.45 L343.42 517.51 L344.42 517.58 L345.42 517.65 L346.42 517.73 L347.42 517.81 L348.42 517.9 L349.42 518 L350.42 518.1 L351.42 518.2 L352.42 518.31 L353.42 518.42 L354.42 518.54 L355.42 518.66 L356.42 518.78 L357.42 518.91 L358.42 519.04 L359.42 519.18 L360.42 519.31 L361.42 519.45 L362.42 519.59 L363.42 519.74 L364.42 519.89 L365.42 520.05 L366.42 520.25 L367.42 520.48 L368.42 520.75 L369.42 521.04 L370.42 521.37 L371.42 521.72 L372.42 522.1 L373.42 522.51 L374.42 522.93 L375.42 523.38 L376.42 523.85 L377.42 524.34 L378.42 524.84 L379.42 525.36 L380.42 525.9 L381.42 526.45 L382.42 527.01 L383.42 527.57 L384.42 528.15 L385.42 528.73 L386.42 529.32 L387.42 529.91 L388.42 530.51 L389.42 531.1 L390.42 531.7 L391.42 532.29 L392.42 532.88 L393.42 533.46 L394.42 534.04 L395.42 534.63 L396.42 535.27 L397.42 535.97 L398.42 536.73 L399.42 537.53 L400.42 538.37 L401.42 539.24 L402.42 540.15 L403.42 541.07 L404.42 542.02 L405.42 542.97 L406.42 543.93 L407.42 544.89 L408.42 545.85 L409.42 546.79 L410.42 547.72 L411.42 548.63 L412.42 549.5 L413.42 550.35 L414.42 551.15 L415.42 551.91 L416.42 552.62 L417.42 553.27 L418.42 553.86 L419.42 554.39 L420.42 554.84 L421.42 555.21 L422.42 555.49 L423.42 555.69 L424.42 555.79 L425.42 555.79 L426.42 555.69 L427.42 555.5 L428.42 555.23 L429.42 554.87 L430.42 554.43 L431.42 553.91 L432.42 553.31 L433.42 552.64 L434.42 551.91 L435.42 551.11 L436.42 550.25 L437.42 549.33 L438.42 548.35 L439.42 547.32 L440.42 546.25 L441.42 545.12 L442.42 543.96 L443.42 542.75 L444.42 541.52 L445.42 540.24 L446.42 538.94 L447.42 537.62 L448.42 536.27 L449.42 534.9 L450.42 533.52 L451.42 532.12 L452.42 530.71 L453.42 529.3 L454.42 527.88 L455.42 526.47 L456.42 525.06 L457.42 523.65 L458.42 522.26 L459.42 520.88 L460.42 519.51 L461.42 518.17 L462.42 516.85 L463.42 515.56 L464.42 514.29 L465.42 513.06 L466.42 511.87 L467.42 510.71 L468.42 509.6 L469.42 508.53 L470.42 507.52 L471.42 506.55 L472.42 505.65 L473.42 504.8 L474.42 504.01 L475.42 503.29 L476.42 502.64 L477.42 502.07 L478.42 501.56 L479.42 501.14 L480.42 500.8 L481.42 500.54 L482.42 500.38 L483.42 500.3 L484.42 500.33 L485.42 500.48 L486.42 500.73 L487.42 501.08 L488.42 501.51 L489.42 502.01 L490.42 502.56 L491.42 503.15 L492.42 503.78 L493.42 504.42 L494.42 505.07 L495.42 505.71 L496.42 506.4 L497.42 507.21 L498.42 508.11 L499.42 509.09 L500.42 510.13 L501.42 511.23 L502.42 512.35 L503.42 513.49 L504.42 514.64 L505.42 515.76 L506.42 516.86 L507.42 517.92 L508.42 518.91 L509.42 519.93 L510.42 520.98 L511.42 522.07 L512.42 523.19 L513.42 524.34 L514.42 525.51 L515.42 526.7 L516.42 527.91 L517.42 529.14 L518.42 530.37 L519.42 531.61 L520.42 532.85 L521.42 534.1 L522.42 535.33 L523.42 536.56 L524.42 537.77 L525.42 538.97 L526.42 540.15 L527.42 541.3 L528.42 542.43 L529.42 543.52 L530.42 544.59 L531.42 545.61 L532.42 546.59 L533.42 547.52 L534.42 548.41 L535.42 549.24 L536.42 550.01 L537.42 550.72 L538.42 551.37 L539.42 551.95 L540.42 552.46 L541.42 552.89 L542.42 553.24 L543.42 553.51 L544.42 553.7 L545.42 553.79 L546.42 553.79 L547.42 553.74 L548.42 553.63 L549.42 553.47 L550.42 553.26 L551.42 553 L552.42 552.7 L553.42 552.35 L554.42 551.96 L555.42 551.53 L556.42 551.07 L557.42 550.57 L558.42 550.03 L559.42 549.47 L560.42 548.87 L561.42 548.25 L562.42 547.6 L563.42 546.93 L564.42 546.23 L565.42 545.52 L566.42 544.78 L567.42 544.04 L568.42 543.27 L569.42 542.5 L570.42 541.72 L571.42 540.92 L572.42 540.12 L573.42 539.32 L574.42 538.52 L575.42 537.71 L576.42 536.91 L577.42 536.11 L578.42 535.32 L579.42 534.53 L580.42 533.75 L581.42 532.99 L582.42 532.24 L583.42 531.5 L584.42 530.79 L585.42 530.09 L586.42 529.41 L587.42 528.76 L588.42 528.13 L589.42 527.53 L590.42 526.96 L591.42 526.42 L592.42 525.91 L593.42 525.44 L594.42 525.01 L595.42 524.61 L596.42 524.26 L597.42 523.95 L598.42 523.68 L599.42 523.47 L600.42 523.3 L601.42 523.18 L602.42 523.11 L603.42 523.1 L604.42 523.14 L605.42 523.22 L606.42 523.33 L607.42 523.49 L608.42 523.69 L609.42 523.92 L610.42 524.19 L611.42 524.49 L612.42 524.82 L613.42 525.19 L614.42 525.58 L615.42 526 L616.42 526.45 L617.42 526.92 L618.42 527.42 L619.42 527.93 L620.42 528.47 L621.42 529.03 L622.42 529.6 L623.42 530.19 L624.42 530.79 L625.42 531.41 L626.42 532.04 L627.42 532.68 L628.42 533.33 L629.42 533.98 L630.42 534.64 L631.42 535.31 L632.42 535.98 L633.42 536.64 L634.42 537.31 L635.42 537.98 L636.42 538.65 L637.42 539.31 L638.42 539.96 L639.42 540.61 L640.42 541.24 L641.42 541.87 L642.42 542.49 L643.42 543.09 L644.42 543.68 L645.42 544.25 L646.42 544.8 L647.42 545.34 L648.42 545.85 L649.42 546.34 L650.42 546.81 L651.42 547.26 L652.42 547.67 L653.42 548.06 L654.42 548.42 L655.42 548.75 L656.42 549.05 L657.42 549.31 L658.42 549.54 L659.42 549.73 L660.42 549.88 L661.42 550 L662.42 550.07 L663.42 550.1 L664.42 550.09 L665.42 550.05 L666.42 549.99 L667.42 549.9 L668.42 549.78 L669.42 549.64 L670.42 549.48 L671.42 549.3 L672.42 549.1 L673.42 548.88 L674.42 548.64 L675.42 548.38 L676.42 548.11 L677.42 547.83 L678.42 547.53 L679.42 547.22 L680.42 546.9 L681.42 546.57 L682.42 546.23 L683.42 545.88 L684.42 545.53 L685.42 545.18 L686.42 544.82 L687.42 544.46 L688.42 544.09 L689.42 543.73 L690.42 543.37 L691.42 543.01 L692.42 542.66 L693.42 542.3 L694.42 541.96 L695.42 541.62 L696.42 541.29 L697.42 540.97 L698.42 540.66 L699.42 540.36 L700.42 540.08 L701.42 539.81 L702.42 539.55 L703.42 539.32 L704.42 539.1 L705.42 538.89 L706.42 538.71 L707.42 538.55 L708.42 538.41 L709.42 538.3 L710.42 538.21 L711.42 538.15 L712.42 538.11 L713.42 538.1 L714.42 538.12 L715.42 538.16 L716.42 538.23 L717.42 538.32 L718.42 538.43 L719.42 538.56 L720.42 538.71 L721.42 538.88 L722.42 539.06 L723.42 539.27 L724.42 539.49 L725.42 539.72 L726.42 539.97 L727.42 540.24 L728.42 540.51 L729.42 540.8 L730.42 541.1 L731.42 541.4 L732.42 541.72 L733.42 542.04 L734.42 542.37 L735.42 542.71 L736.42 543.05 L737.42 543.4 L738.42 543.74 L739.42 544.1 L740.42 544.45 L741.42 544.8 L742.42 545.15 L743.42 545.5 L744.42 545.85 L745.42 546.2 L746.42 546.54 L747.42 546.87 L748.42 547.2 L749.42 547.52 L750.42 547.84 L751.42 548.14 L752.42 548.44 L753.42 548.73 L754.42 549 L755.42 549.26 L756.42 549.51 L757.42 549.74 L758.42 549.96 L759.42 550.16 L760.42 550.35 L761.42 550.51 L762.42 550.66 L763.42 550.79 L764.42 550.9 L765.42 550.98 L766.42 551.05 L767.42 551.09 L768.42 551.1 L769.42 551.1 L770.42 551.09 L771.42 551.07 L772.42 551.05 L773.42 551.03 L774.42 551 L775.42 550.96 L776.42 550.92 L777.42 550.88 L778.42 550.83 L779.42 550.78 L780.42 550.73 L781.42 550.67 L782.42 550.61 L783.42 550.54 L784.42 550.48 L785.42 550.41 L786.42 550.34 L787.42 550.27 L788.42 550.19 L789.42 550.12 L790.42 550.04 L791.42 549.97 L792.42 549.89 L793.42 549.81 L794.42 549.74 L795.42 549.66 L796.42 549.58 L797.42 549.51 L798.42 549.44 L799.42 549.36 L800.42 549.29 L801.42 549.23 L802.42 549.16 L803.42 549.1 L804.42 549.03 L805.42 548.98 L806.42 548.91 L807.42 548.85 L808.42 548.78 L809.42 548.7 L810.42 548.63 L811.42 548.55 L812.42 548.48 L813.42 548.4 L814.42 548.32 L815.42 548.24 L816.42 548.17 L817.42 548.1 L818.42 548.03 L819.42 547.96 L820.42 547.89 L821.42 547.84 L822.42 547.78 L823.42 547.73 L824.42 547.69 L825.42 547.66 L826.42 547.63 L827.42 547.61 L828.42 547.6 L829.42 547.6 L830.42 547.61 L831.42 547.64 L832.42 547.67 L833.42 547.72 L834.42 547.78 L835.42 547.85 L836.42 547.93 L837.42 548.02 L838.42 548.12 L839.42 548.23 L840.42 548.35 L841.42 548.47 L842.42 548.61 L843.42 548.75 L844.42 548.9 L845.42 549.05 L846.42 549.21 L847.42 549.38 L848.42 549.55 L849.42 549.73 L850.42 549.92 L851.42 550.1 L852.42 550.29 L853.42 550.49 L854.42 550.69 L855.42 550.89 L856.42 551.09 L857.42 551.29 L858.42 551.5 L859.42 551.7 L860.42 551.91 L861.42 552.12 L862.42 552.32 L863.42 552.53 L864.42 552.74 L865.42 552.94 L866.42 553.14 L867.42 553.34 L868.42 553.54 L869.42 553.73 L870.42 553.92 L871.42 554.11 L872.42 554.29 L873.42 554.47 L874.42 554.64 L875.42 554.81 L876.42 554.97 L877.42 555.12 L878.42 555.27 L879.42 555.41 L880.42 555.54 L881.42 555.67 L882.42 555.79 L883.42 555.89 L884.42 555.99 L885.42 556.08 L886.42 556.16 L887.42 556.23 L888.42 556.29 L889.42 556.33 L890.42 556.37 L891.42 556.39 L892.42 556.4 L893.42 556.4 L894.42 556.39 L895.42 556.38 L896.42 556.37 L897.42 556.35 L898.42 556.33 L899.42 556.31 L900.42 556.28 L901.42 556.25 L902.42 556.21 L903.42 556.18 L904.42 556.14 L905.42 556.1 L906.42 556.06 L907.42 556.02 L908.42 555.97 L909.42 555.93 L910.42 555.88 L911.42 555.84 L912.42 555.79 L913.42 555.74 L914.42 555.7 L915.42 555.65 L916.42 555.61 L917.42 555.56 L918.42 555.52 L919.42 555.48 L920.42 555.44 L921.42 555.41 L922.42 555.37 L923.42 555.34 L924.42 555.31 L925.42 555.28 L926.42 555.26 L927.42 555.24 L928.42 555.22 L929.42 555.21 L930.42 555.2 L931.42 555.2 L932.42 555.2 L933.42 555.21 L934.42 555.21 L935.42 555.22 L936.42 555.24 L937.42 555.26 L938.42 555.28 L939.42 555.3 L940.42 555.33 L941.42 555.36 L942.42 555.4 L943.42 555.44 L944.42 555.48 L945.42 555.52 L946.42 555.57 L947.42 555.62 L948.42 555.68 L949.42 555.73 L950.42 555.79 L951.42 555.86 L952.42 555.92 L953.42 555.99 L954.42 556.06 L955.42 556.14 L956.42 556.21 L957.42 556.3 L958.42 556.38 L959.42 556.46 L960.42 556.55 L961.42 556.64 L962.42 556.74 L963.42 556.84 L964.42 556.93 L965.42 557.04 L966.42 557.14 L967.42 557.25 L968.42 557.36 L969.42 557.47 L970.42 557.58 L971.42 557.7 L972.42 557.82 L973.42 557.94 L974.42 558.06 L975.42 558.19 L976.42 558.32 L977.42 558.45 L978.42 558.58 L979.42 558.71 L980.42 558.85 L981.42 558.99 L982.42 559.13 L983.42 559.27 L984.42 559.42 L985.42 559.57 L986.42 559.71 L987.42 559.87 L988.3 560" stroke="#7E2F8E" stroke-width="2.4"/>
<path d="M178 576.4 L209.08 578.82 L240.17 581.23 L271.25 583.65 L302.33 586.07 L333.42 588.48 L334.42 588.49 L335.42 588.5 L336.42 588.51 L337.42 588.53 L338.42 588.56 L339.42 588.59 L340.42 588.63 L341.42 588.67 L342.42 588.72 L343.42 588.77 L344.42 588.83 L345.42 588.9 L346.42 588.96 L347.42 589.04 L348.42 589.11 L349.42 589.2 L350.42 589.28 L351.42 589.37 L352.42 589.47 L353.42 589.57 L354.42 589.67 L355.42 589.78 L356.42 589.89 L357.42 590 L358.42 590.12 L359.42 590.24 L360.42 590.36 L361.42 590.49 L362.42 590.62 L363.42 590.75 L364.42 590.89 L365.42 591.04 L366.42 591.23 L367.42 591.45 L368.42 591.71 L369.42 592 L370.42 592.31 L371.42 592.65 L372.42 593.02 L373.42 593.41 L374.42 593.81 L375.42 594.24 L376.42 594.69 L377.42 595.22 L378.42 595.82 L379.42 596.5 L380.42 597.25 L381.42 598.06 L382.42 598.92 L383.42 599.83 L384.42 600.78 L385.42 601.77 L386.42 602.79 L387.42 603.83 L388.42 604.89 L389.42 605.96 L390.42 607.03 L391.42 608.1 L392.42 609.17 L393.42 610.21 L394.42 611.24 L395.42 612.24 L396.42 613.21 L397.42 614.22 L398.42 615.31 L399.42 616.47 L400.42 617.68 L401.42 618.94 L402.42 620.24 L403.42 621.55 L404.42 622.88 L405.42 624.2 L406.42 625.52 L407.42 626.81 L408.42 628.06 L409.42 629.26 L410.42 630.41 L411.42 631.48 L412.42 632.47 L413.42 633.37 L414.42 634.15 L415.42 634.83 L416.42 635.37 L417.42 635.77 L418.42 636.02 L419.42 636.1 L420.42 636.02 L421.42 635.8 L422.42 635.43 L423.42 634.94 L424.42 634.31 L425.42 633.56 L426.42 632.7 L427.42 631.73 L428.42 630.65 L429.42 629.48 L430.42 628.21 L431.42 626.86 L432.42 625.43 L433.42 623.93 L434.42 622.36 L435.42 620.73 L436.42 619.04 L437.42 617.31 L438.42 615.53 L439.42 613.72 L440.42 611.87 L441.42 610.01 L442.42 608.12 L443.42 606.22 L444.42 604.32 L445.42 602.41 L446.42 600.52 L447.42 598.63 L448.42 596.76 L449.42 594.92 L450.42 593.11 L451.42 591.33 L452.42 589.6 L453.42 587.92 L454.42 586.29 L455.42 584.72 L456.42 583.22 L457.42 581.79 L458.42 580.45 L459.42 579.18 L460.42 578.01 L461.42 576.94 L462.42 575.97 L463.42 575.11 L464.42 574.37 L465.42 573.74 L466.42 573.25 L467.42 572.89 L468.42 572.67 L469.42 572.6 L470.42 572.65 L471.42 572.78 L472.42 572.99 L473.42 573.28 L474.42 573.64 L475.42 574.06 L476.42 574.55 L477.42 575.08 L478.42 575.66 L479.42 576.28 L480.42 576.93 L481.42 577.62 L482.42 578.33 L483.42 579.05 L484.42 579.79 L485.42 580.54 L486.42 581.28 L487.42 582.03 L488.42 582.76 L489.42 583.47 L490.42 584.16 L491.42 584.83 L492.42 585.46 L493.42 586.06 L494.42 586.6 L495.42 587.11 L496.42 587.61 L497.42 588.12 L498.42 588.64 L499.42 589.16 L500.42 589.7 L501.42 590.24 L502.42 590.78 L503.42 591.33 L504.42 591.89 L505.42 592.45 L506.42 593.01 L507.42 593.58 L508.42 594.15 L509.42 594.72 L510.42 595.29 L511.42 595.87 L512.42 596.44 L513.42 597.02 L514.42 597.59 L515.42 598.16 L516.42 598.73 L517.42 599.3 L518.42 599.86 L519.42 600.42 L520.42 600.97 L521.42 601.53 L522.42 602.07 L523.42 602.61 L524.42 603.14 L525.42 603.67 L526.42 604.19 L527.42 604.7 L528.42 605.2 L529.42 605.69 L530.42 606.17 L531.42 606.65 L532.42 607.11 L533.42 607.56 L534.42 607.99 L535.42 608.42 L536.42 608.83 L537.42 609.23 L538.42 609.61 L539.42 609.98 L540.42 610.33 L541.42 610.67 L542.42 610.99 L543.42 611.29 L544.42 611.57 L545.42 611.84 L546.42 612.09 L547.42 612.31 L548.42 612.52 L549.42 612.71 L550.42 612.88 L551.42 613.02 L552.42 613.14 L553.42 613.24 L554.42 613.32 L555.42 613.37 L556.42 613.4 L557.42 613.4 L558.42 613.35 L559.42 613.27 L560.42 613.13 L561.42 612.96 L562.42 612.75 L563.42 612.5 L564.42 612.21 L565.42 611.89 L566.42 611.54 L567.42 611.16 L568.42 610.75 L569.42 610.31 L570.42 609.84 L571.42 609.36 L572.42 608.85 L573.42 608.32 L574.42 607.78 L575.42 607.21 L576.42 606.64 L577.42 606.05 L578.42 605.45 L579.42 604.84 L580.42 604.23 L581.42 603.61 L582.42 602.99 L583.42 602.36 L584.42 601.74 L585.42 601.12 L586.42 600.5 L587.42 599.89 L588.42 599.29 L589.42 598.69 L590.42 598.11 L591.42 597.54 L592.42 596.99 L593.42 596.45 L594.42 595.93 L595.42 595.43 L596.42 594.95 L597.42 594.5 L598.42 594.07 L599.42 593.67 L600.42 593.3 L601.42 592.96 L602.42 592.66 L603.42 592.39 L604.42 592.15 L605.42 591.96 L606.42 591.8 L607.42 591.69 L608.42 591.62 L609.42 591.6 L610.42 591.63 L611.42 591.72 L612.42 591.86 L613.42 592.06 L614.42 592.31 L615.42 592.61 L616.42 592.95 L617.42 593.34 L618.42 593.76 L619.42 594.23 L620.42 594.73 L621.42 595.27 L622.42 595.84 L623.42 596.44 L624.42 597.06 L625.42 597.71 L626.42 598.38 L627.42 599.08 L628.42 599.78 L629.42 600.51 L630.42 601.24 L631.42 601.99 L632.42 602.74 L633.42 603.5 L634.42 604.26 L635.42 605.02 L636.42 605.78 L637.42 606.54 L638.42 607.29 L639.42 608.03 L640.42 608.75 L641.42 609.47 L642.42 610.16 L643.42 610.84 L644.42 611.5 L645.42 612.14 L646.42 612.74 L647.42 613.32 L648.42 613.87 L649.42 614.39 L650.42 614.87 L651.42 615.31 L652.42 615.71 L653.42 616.07 L654.42 616.39 L655.42 616.65 L656.42 616.87 L657.42 617.03 L658.42 617.14 L659.42 617.2 L660.42 617.19 L661.42 617.15 L662.42 617.07 L663.42 616.96 L664.42 616.82 L665.42 616.65 L666.42 616.45 L667.42 616.22 L668.42 615.96 L669.42 615.69 L670.42 615.39 L671.42 615.07 L672.42 614.73 L673.42 614.37 L674.42 614 L675.42 613.62 L676.42 613.22 L677.42 612.81 L678.42 612.39 L679.42 611.97 L680.42 611.54 L681.42 611.11 L682.42 610.67 L683.42 610.24 L684.42 609.8 L685.42 609.37 L686.42 608.95 L687.42 608.52 L688.42 608.11 L689.42 607.71 L690.42 607.32 L691.42 606.94 L692.42 606.57 L693.42 606.22 L694.42 605.89 L695.42 605.58 L696.42 605.29 L697.42 605.02 L698.42 604.78 L699.42 604.56 L700.42 604.37 L701.42 604.21 L702.42 604.08 L703.42 603.99 L704.42 603.93 L705.42 603.9 L706.42 603.91 L707.42 603.94 L708.42 604 L709.42 604.08 L710.42 604.19 L711.42 604.31 L712.42 604.46 L713.42 604.62 L714.42 604.81 L715.42 605 L716.42 605.21 L717.42 605.44 L718.42 605.68 L719.42 605.93 L720.42 606.19 L721.42 606.45 L722.42 606.73 L723.42 607.01 L724.42 607.3 L725.42 607.59 L726.42 607.88 L727.42 608.18 L728.42 608.47 L729.42 608.76 L730.42 609.05 L731.42 609.34 L732.42 609.62 L733.42 609.9 L734.42 610.17 L735.42 610.43 L736.42 610.68 L737.42 610.92 L738.42 611.15 L739.42 611.36 L740.42 611.56 L741.42 611.75 L742.42 611.91 L743.42 612.06 L744.42 612.19 L745.42 612.3 L746.42 612.39 L747.42 612.45 L748.42 612.49 L749.42 612.5 L750.42 612.5 L751.42 612.5 L752.42 612.5 L753.42 612.5 L754.42 612.5 L755.42 612.5 L756.42 612.5 L757.42 612.5 L758.42 612.5 L759.42 612.5 L760.42 612.5 L761.42 612.5 L762.42 612.5 L763.42 612.5 L764.42 612.5 L765.42 612.5 L766.42 612.5 L767.42 612.5 L768.42 612.5 L769.42 612.5 L770.42 612.5 L771.42 612.5 L772.42 612.5 L773.42 612.5 L774.42 612.5 L775.42 612.5 L776.42 612.5 L777.42 612.5 L778.42 612.5 L779.42 612.5 L780.42 612.5 L781.42 612.5 L782.42 612.5 L783.42 612.5 L784.42 612.5 L785.42 612.5 L786.42 612.5 L787.42 612.5 L788.42 612.5 L789.42 612.5 L790.42 612.5 L791.42 612.5 L792.42 612.5 L793.42 612.5 L794.42 612.5 L795.42 612.5 L796.42 612.5 L797.42 612.5 L798.42 612.5 L799.42 612.5 L800.42 612.5 L801.42 612.5 L802.42 612.5 L803.42 612.5 L804.42 612.5 L805.42 612.5 L806.42 612.5 L807.42 612.5 L808.42 612.51 L809.42 612.51 L810.42 612.52 L811.42 612.52 L812.42 612.53 L813.42 612.54 L814.42 612.54 L815.42 612.55 L816.42 612.56 L817.42 612.58 L818.42 612.59 L819.42 612.6 L820.42 612.61 L821.42 612.63 L822.42 612.64 L823.42 612.66 L824.42 612.68 L825.42 612.69 L826.42 612.71 L827.42 612.73 L828.42 612.75 L829.42 612.77 L830.42 612.79 L831.42 612.81 L832.42 612.83 L833.42 612.85 L834.42 612.87 L835.42 612.89 L836.42 612.92 L837.42 612.94 L838.42 612.96 L839.42 612.99 L840.42 613.01 L841.42 613.04 L842.42 613.06 L843.42 613.09 L844.42 613.11 L845.42 613.14 L846.42 613.18 L847.42 613.23 L848.42 613.29 L849.42 613.35 L850.42 613.41 L851.42 613.49 L852.42 613.57 L853.42 613.65 L854.42 613.74 L855.42 613.83 L856.42 613.93 L857.42 614.04 L858.42 614.14 L859.42 614.25 L860.42 614.37 L861.42 614.48 L862.42 614.6 L863.42 614.72 L864.42 614.85 L865.42 614.97 L866.42 615.1 L867.42 615.22 L868.42 615.35 L869.42 615.48 L870.42 615.61 L871.42 615.74 L872.42 615.87 L873.42 615.99 L874.42 616.12 L875.42 616.24 L876.42 616.37 L877.42 616.49 L878.42 616.61 L879.42 616.72 L880.42 616.83 L881.42 616.94 L882.42 617.05 L883.42 617.15 L884.42 617.25 L885.42 617.34 L886.42 617.43 L887.42 617.51 L888.42 617.59 L889.42 617.66 L890.42 617.73 L891.42 617.79 L892.42 617.84 L893.42 617.89 L894.42 617.93 L895.42 617.96 L896.42 617.98 L897.42 617.99 L898.42 618 L899.42 618 L900.42 617.99 L901.42 617.97 L902.42 617.94 L903.42 617.91 L904.42 617.87 L905.42 617.82 L906.42 617.77 L907.42 617.72 L908.42 617.66 L909.42 617.6 L910.42 617.53 L911.42 617.47 L912.42 617.4 L913.42 617.33 L914.42 617.25 L915.42 617.18 L916.42 617.11 L917.42 617.04 L918.42 616.97 L919.42 616.9 L920.42 616.83 L921.42 616.77 L922.42 616.71 L923.42 616.65 L924.42 616.6 L925.42 616.55 L926.42 616.51 L927.42 616.47 L928.42 616.44 L929.42 616.42 L930.42 616.41 L931.42 616.4 L932.42 616.4 L933.42 616.4 L934.42 616.41 L935.42 616.41 L936.42 616.42 L937.42 616.43 L938.42 616.44 L939.42 616.46 L940.42 616.47 L941.42 616.49 L942.42 616.51 L943.42 616.54 L944.42 616.56 L945.42 616.59 L946.42 616.61 L947.42 616.65 L948.42 616.68 L949.42 616.71 L950.42 616.75 L951.42 616.79 L952.42 616.83 L953.42 616.88 L954.42 616.92 L955.42 616.97 L956.42 617.02 L957.42 617.07 L958.42 617.13 L959.42 617.19 L960.42 617.25 L961.42 617.31 L962.42 617.37 L963.42 617.44 L964.42 617.51 L965.42 617.58 L966.42 617.65 L967.42 617.73 L968.42 617.81 L969.42 617.89 L970.42 617.97 L971.42 618.06 L972.42 618.15 L973.42 618.24 L974.42 618.33 L975.42 618.43 L976.42 618.53 L977.42 618.63 L978.42 618.73 L979.42 618.84 L980.42 618.95 L981.42 619.06 L982.42 619.17 L983.42 619.29 L984.42 619.41 L985.42 619.53 L986.42 619.66 L987.42 619.79 L988.3 619.9" stroke="#77AC30" stroke-width="2.4"/>
<path d="M178 627.3 L209.08 628.28 L240.17 629.27 L271.25 630.25 L302.33 631.23 L333.42 632.22 L334.42 632.22 L335.42 632.22 L336.42 632.23 L337.42 632.24 L338.42 632.25 L339.42 632.26 L340.42 632.28 L341.42 632.3 L342.42 632.32 L343.42 632.34 L344.42 632.37 L345.42 632.39 L346.42 632.42 L347.42 632.45 L348.42 632.48 L349.42 632.52 L350.42 632.55 L351.42 632.59 L352.42 632.63 L353.42 632.67 L354.42 632.71 L355.42 632.76 L356.42 632.8 L357.42 632.85 L358.42 632.89 L359.42 632.94 L360.42 632.99 L361.42 633.04 L362.42 633.09 L363.42 633.14 L364.42 633.2 L365.42 633.25 L366.42 633.32 L367.42 633.41 L368.42 633.5 L369.42 633.61 L370.42 633.73 L371.42 633.88 L372.42 634.11 L373.42 634.41 L374.42 634.79 L375.42 635.24 L376.42 635.75 L377.42 636.33 L378.42 636.97 L379.42 637.67 L380.42 638.42 L381.42 639.21 L382.42 640.05 L383.42 640.93 L384.42 641.85 L385.42 642.8 L386.42 643.78 L387.42 644.78 L388.42 645.8 L389.42 646.84 L390.42 647.9 L391.42 648.96 L392.42 650.03 L393.42 651.1 L394.42 652.16 L395.42 653.22 L396.42 654.27 L397.42 655.31 L398.42 656.32 L399.42 657.32 L400.42 658.29 L401.42 659.23 L402.42 660.13 L403.42 661 L404.42 661.83 L405.42 662.61 L406.42 663.34 L407.42 664.02 L408.42 664.64 L409.42 665.2 L410.42 665.7 L411.42 666.13 L412.42 666.48 L413.42 666.76 L414.42 666.96 L415.42 667.07 L416.42 667.1 L417.42 666.97 L418.42 666.68 L419.42 666.23 L420.42 665.64 L421.42 664.9 L422.42 664.03 L423.42 663.03 L424.42 661.92 L425.42 660.69 L426.42 659.37 L427.42 657.96 L428.42 656.46 L429.42 654.88 L430.42 653.24 L431.42 651.54 L432.42 649.79 L433.42 647.99 L434.42 646.16 L435.42 644.3 L436.42 642.43 L437.42 640.54 L438.42 638.65 L439.42 636.77 L440.42 634.91 L441.42 633.06 L442.42 631.25 L443.42 629.47 L444.42 627.75 L445.42 626.08 L446.42 624.47 L447.42 622.93 L448.42 621.48 L449.42 620.11 L450.42 618.84 L451.42 617.68 L452.42 616.62 L453.42 615.69 L454.42 614.89 L455.42 614.23 L456.42 613.71 L457.42 613.34 L458.42 613.14 L459.42 613.11 L460.42 613.22 L461.42 613.47 L462.42 613.83 L463.42 614.32 L464.42 614.91 L465.42 615.6 L466.42 616.39 L467.42 617.25 L468.42 618.2 L469.42 619.21 L470.42 620.28 L471.42 621.4 L472.42 622.57 L473.42 623.78 L474.42 625.01 L475.42 626.26 L476.42 627.52 L477.42 628.79 L478.42 630.06 L479.42 631.31 L480.42 632.54 L481.42 633.75 L482.42 634.92 L483.42 636.05 L484.42 637.12 L485.42 638.14 L486.42 639.09 L487.42 639.96 L488.42 640.75 L489.42 641.45 L490.42 642.05 L491.42 642.54 L492.42 642.91 L493.42 643.17 L494.42 643.29 L495.42 643.29 L496.42 643.23 L497.42 643.13 L498.42 642.98 L499.42 642.78 L500.42 642.55 L501.42 642.27 L502.42 641.96 L503.42 641.62 L504.42 641.25 L505.42 640.85 L506.42 640.43 L507.42 639.99 L508.42 639.52 L509.42 639.04 L510.42 638.54 L511.42 638.04 L512.42 637.52 L513.42 637 L514.42 636.48 L515.42 635.95 L516.42 635.42 L517.42 634.9 L518.42 634.39 L519.42 633.89 L520.42 633.4 L521.42 632.92 L522.42 632.46 L523.42 632.03 L524.42 631.61 L525.42 631.22 L526.42 630.86 L527.42 630.53 L528.42 630.23 L529.42 629.97 L530.42 629.75 L531.42 629.57 L532.42 629.43 L533.42 629.34 L534.42 629.3 L535.42 629.31 L536.42 629.38 L537.42 629.49 L538.42 629.64 L539.42 629.84 L540.42 630.08 L541.42 630.36 L542.42 630.67 L543.42 631.02 L544.42 631.4 L545.42 631.8 L546.42 632.23 L547.42 632.67 L548.42 633.14 L549.42 633.63 L550.42 634.13 L551.42 634.63 L552.42 635.15 L553.42 635.68 L554.42 636.2 L555.42 636.73 L556.42 637.26 L557.42 637.78 L558.42 638.29 L559.42 638.79 L560.42 639.28 L561.42 639.76 L562.42 640.21 L563.42 640.65 L564.42 641.06 L565.42 641.45 L566.42 641.8 L567.42 642.13 L568.42 642.42 L569.42 642.67 L570.42 642.89 L571.42 643.06 L572.42 643.19 L573.42 643.27 L574.42 643.3 L575.42 643.28 L576.42 643.22 L577.42 643.12 L578.42 642.98 L579.42 642.81 L580.42 642.6 L581.42 642.36 L582.42 642.09 L583.42 641.79 L584.42 641.47 L585.42 641.12 L586.42 640.75 L587.42 640.37 L588.42 639.96 L589.42 639.54 L590.42 639.1 L591.42 638.66 L592.42 638.2 L593.42 637.74 L594.42 637.27 L595.42 636.8 L596.42 636.33 L597.42 635.86 L598.42 635.39 L599.42 634.93 L600.42 634.47 L601.42 634.03 L602.42 633.59 L603.42 633.17 L604.42 632.76 L605.42 632.37 L606.42 632 L607.42 631.65 L608.42 631.33 L609.42 631.03 L610.42 630.76 L611.42 630.51 L612.42 630.3 L613.42 630.13 L614.42 629.99 L615.42 629.88 L616.42 629.82 L617.42 629.8 L618.42 629.82 L619.42 629.89 L620.42 630 L621.42 630.15 L622.42 630.33 L623.42 630.56 L624.42 630.81 L625.42 631.09 L626.42 631.41 L627.42 631.74 L628.42 632.11 L629.42 632.49 L630.42 632.89 L631.42 633.31 L632.42 633.75 L633.42 634.2 L634.42 634.66 L635.42 635.12 L636.42 635.6 L637.42 636.07 L638.42 636.55 L639.42 637.03 L640.42 637.5 L641.42 637.97 L642.42 638.43 L643.42 638.89 L644.42 639.33 L645.42 639.75 L646.42 640.16 L647.42 640.55 L648.42 640.93 L649.42 641.27 L650.42 641.6 L651.42 641.89 L652.42 642.16 L653.42 642.39 L654.42 642.59 L655.42 642.75 L656.42 642.87 L657.42 642.96 L658.42 643 L659.42 642.99 L660.42 642.96 L661.42 642.88 L662.42 642.78 L663.42 642.65 L664.42 642.5 L665.42 642.31 L666.42 642.11 L667.42 641.88 L668.42 641.63 L669.42 641.37 L670.42 641.09 L671.42 640.79 L672.42 640.49 L673.42 640.17 L674.42 639.84 L675.42 639.51 L676.42 639.17 L677.42 638.82 L678.42 638.48 L679.42 638.13 L680.42 637.79 L681.42 637.45 L682.42 637.12 L683.42 636.79 L684.42 636.47 L685.42 636.17 L686.42 635.87 L687.42 635.59 L688.42 635.33 L689.42 635.09 L690.42 634.86 L691.42 634.66 L692.42 634.48 L693.42 634.33 L694.42 634.2 L695.42 634.1 L696.42 634.04 L697.42 634 L698.42 634 L699.42 634.03 L700.42 634.08 L701.42 634.15 L702.42 634.24 L703.42 634.34 L704.42 634.47 L705.42 634.62 L706.42 634.77 L707.42 634.95 L708.42 635.13 L709.42 635.33 L710.42 635.54 L711.42 635.75 L712.42 635.97 L713.42 636.2 L714.42 636.43 L715.42 636.67 L716.42 636.91 L717.42 637.15 L718.42 637.39 L719.42 637.63 L720.42 637.86 L721.42 638.09 L722.42 638.31 L723.42 638.53 L724.42 638.74 L725.42 638.94 L726.42 639.12 L727.42 639.3 L728.42 639.46 L729.42 639.61 L730.42 639.74 L731.42 639.85 L732.42 639.94 L733.42 640.01 L734.42 640.07 L735.42 640.09 L736.42 640.1 L737.42 640.09 L738.42 640.06 L739.42 640.03 L740.42 639.98 L741.42 639.92 L742.42 639.85 L743.42 639.77 L744.42 639.68 L745.42 639.58 L746.42 639.47 L747.42 639.36 L748.42 639.24 L749.42 639.12 L750.42 638.99 L751.42 638.86 L752.42 638.72 L753.42 638.58 L754.42 638.44 L755.42 638.3 L756.42 638.15 L757.42 638.01 L758.42 637.87 L759.42 637.73 L760.42 637.59 L761.42 637.46 L762.42 637.33 L763.42 637.2 L764.42 637.08 L765.42 636.97 L766.42 636.86 L767.42 636.76 L768.42 636.67 L769.42 636.58 L770.42 636.51 L771.42 636.44 L772.42 636.39 L773.42 636.35 L774.42 636.32 L775.42 636.3 L776.42 636.3 L777.42 636.31 L778.42 636.33 L779.42 636.35 L780.42 636.39 L781.42 636.43 L782.42 636.48 L783.42 636.54 L784.42 636.61 L785.42 636.68 L786.42 636.75 L787.42 636.83 L788.42 636.92 L789.42 637 L790.42 637.09 L791.42 637.19 L792.42 637.28 L793.42 637.38 L794.42 637.47 L795.42 637.57 L796.42 637.67 L797.42 637.76 L798.42 637.86 L799.42 637.95 L800.42 638.04 L801.42 638.13 L802.42 638.21 L803.42 638.29 L804.42 638.36 L805.42 638.43 L806.42 638.5 L807.42 638.58 L808.42 638.66 L809.42 638.75 L810.42 638.83 L811.42 638.92 L812.42 639 L813.42 639.08 L814.42 639.15 L815.42 639.22 L816.42 639.28 L817.42 639.33 L818.42 639.36 L819.42 639.39 L820.42 639.4 L821.42 639.39 L822.42 639.37 L823.42 639.34 L824.42 639.29 L825.42 639.23 L826.42 639.16 L827.42 639.08 L828.42 638.99 L829.42 638.89 L830.42 638.79 L831.42 638.67 L832.42 638.56 L833.42 638.43 L834.42 638.31 L835.42 638.18 L836.42 638.05 L837.42 637.91 L838.42 637.78 L839.42 637.65 L840.42 637.53 L841.42 637.4 L842.42 637.28 L843.42 637.17 L844.42 637.06 L845.42 636.95 L846.42 636.86 L847.42 636.77 L848.42 636.7 L849.42 636.63 L850.42 636.58 L851.42 636.54 L852.42 636.51 L853.42 636.5 L854.42 636.5 L855.42 636.51 L856.42 636.52 L857.42 636.54 L858.42 636.56 L859.42 636.59 L860.42 636.62 L861.42 636.65 L862.42 636.69 L863.42 636.73 L864.42 636.78 L865.42 636.82 L866.42 636.87 L867.42 636.93 L868.42 636.98 L869.42 637.03 L870.42 637.09 L871.42 637.15 L872.42 637.2 L873.42 637.26 L874.42 637.32 L875.42 637.38 L876.42 637.43 L877.42 637.49 L878.42 637.54 L879.42 637.6 L880.42 637.65 L881.42 637.7 L882.42 637.74 L883.42 637.79 L884.42 637.83 L885.42 637.86 L886.42 637.9 L887.42 637.92 L888.42 637.95 L889.42 637.97 L890.42 637.99 L891.42 638 L892.42 638 L893.42 638 L894.42 638 L895.42 638 L896.42 638 L897.42 638 L898.42 638 L899.42 638 L900.42 638 L901.42 638 L902.42 638 L903.42 638 L904.42 638 L905.42 638 L906.42 638 L907.42 638 L908.42 638 L909.42 638 L910.42 637.99 L911.42 637.99 L912.42 637.99 L913.42 637.99 L914.42 637.99 L915.42 637.99 L916.42 637.99 L917.42 637.98 L918.42 637.98 L919.42 637.98 L920.42 637.98 L921.42 637.98 L922.42 637.97 L923.42 637.97 L924.42 637.97 L925.42 637.96 L926.42 637.96 L927.42 637.96 L928.42 637.95 L929.42 637.95 L930.42 637.94 L931.42 637.94 L932.42 637.94 L933.42 637.93 L934.42 637.93 L935.42 637.92 L936.42 637.91 L937.42 637.91 L938.42 637.9 L939.42 637.89 L940.42 637.89 L941.42 637.88 L942.42 637.87 L943.42 637.87 L944.42 637.86 L945.42 637.85 L946.42 637.84 L947.42 637.83 L948.42 637.82 L949.42 637.81 L950.42 637.8 L951.42 637.79 L952.42 637.78 L953.42 637.77 L954.42 637.76 L955.42 637.75 L956.42 637.73 L957.42 637.72 L958.42 637.71 L959.42 637.69 L960.42 637.68 L961.42 637.67 L962.42 637.65 L963.42 637.64 L964.42 637.62 L965.42 637.6 L966.42 637.59 L967.42 637.57 L968.42 637.55 L969.42 637.53 L970.42 637.52 L971.42 637.5 L972.42 637.48 L973.42 637.46 L974.42 637.44 L975.42 637.42 L976.42 637.4 L977.42 637.37 L978.42 637.35 L979.42 637.33 L980.42 637.3 L981.42 637.28 L982.42 637.26 L983.42 637.23 L984.42 637.21 L985.42 637.18 L986.42 637.15 L987.42 637.12 L988.3 637.1" stroke="#4DBEEE" stroke-width="2.4"/>
<path d="M178 632.2 L209.08 631.27 L240.17 630.33 L271.25 629.4 L302.33 628.47 L333.42 627.53 L334.42 627.48 L335.42 627.43 L336.42 627.37 L337.42 627.32 L338.42 627.28 L339.42 627.23 L340.42 627.18 L341.42 627.14 L342.42 627.09 L343.42 627.05 L344.42 627.01 L345.42 626.97 L346.42 626.94 L347.42 626.9 L348.42 626.87 L349.42 626.84 L350.42 626.81 L351.42 626.78 L352.42 626.76 L353.42 626.73 L354.42 626.71 L355.42 626.69 L356.42 626.67 L357.42 626.65 L358.42 626.64 L359.42 626.63 L360.42 626.62 L361.42 626.61 L362.42 626.6 L363.42 626.6 L364.42 626.6 L365.42 626.6 L366.42 626.6 L367.42 626.6 L368.42 626.6 L369.42 626.6 L370.42 626.6 L371.42 626.61 L372.42 626.65 L373.42 626.73 L374.42 626.85 L375.42 627 L376.42 627.19 L377.42 627.4 L378.42 627.64 L379.42 627.91 L380.42 628.2 L381.42 628.51 L382.42 628.84 L383.42 629.19 L384.42 629.54 L385.42 629.91 L386.42 630.29 L387.42 630.68 L388.42 631.06 L389.42 631.45 L390.42 631.84 L391.42 632.23 L392.42 632.61 L393.42 632.99 L394.42 633.35 L395.42 633.7 L396.42 634.04 L397.42 634.36 L398.42 634.66 L399.42 634.94 L400.42 635.19 L401.42 635.42 L402.42 635.62 L403.42 635.79 L404.42 635.92 L405.42 636.02 L406.42 636.08 L407.42 636.1 L408.42 636.05 L409.42 635.91 L410.42 635.68 L411.42 635.38 L412.42 634.99 L413.42 634.53 L414.42 634 L415.42 633.4 L416.42 632.75 L417.42 632.04 L418.42 631.28 L419.42 630.47 L420.42 629.62 L421.42 628.74 L422.42 627.81 L423.42 626.87 L424.42 625.89 L425.42 624.9 L426.42 623.89 L427.42 622.87 L428.42 621.85 L429.42 620.82 L430.42 619.79 L431.42 618.77 L432.42 617.77 L433.42 616.78 L434.42 615.81 L435.42 614.86 L436.42 613.94 L437.42 613.06 L438.42 612.22 L439.42 611.42 L440.42 610.66 L441.42 609.96 L442.42 609.31 L443.42 608.73 L444.42 608.21 L445.42 607.76 L446.42 607.38 L447.42 607.08 L448.42 606.87 L449.42 606.74 L450.42 606.7 L451.42 606.78 L452.42 606.98 L453.42 607.29 L454.42 607.71 L455.42 608.23 L456.42 608.85 L457.42 609.56 L458.42 610.36 L459.42 611.24 L460.42 612.18 L461.42 613.2 L462.42 614.28 L463.42 615.41 L464.42 616.59 L465.42 617.81 L466.42 619.08 L467.42 620.37 L468.42 621.69 L469.42 623.03 L470.42 624.38 L471.42 625.75 L472.42 627.11 L473.42 628.47 L474.42 629.82 L475.42 631.15 L476.42 632.46 L477.42 633.75 L478.42 635 L479.42 636.21 L480.42 637.38 L481.42 638.49 L482.42 639.55 L483.42 640.54 L484.42 641.46 L485.42 642.31 L486.42 643.08 L487.42 643.76 L488.42 644.35 L489.42 644.84 L490.42 645.23 L491.42 645.5 L492.42 645.66 L493.42 645.7 L494.42 645.61 L495.42 645.42 L496.42 645.12 L497.42 644.72 L498.42 644.22 L499.42 643.63 L500.42 642.96 L501.42 642.2 L502.42 641.36 L503.42 640.46 L504.42 639.49 L505.42 638.46 L506.42 637.37 L507.42 636.22 L508.42 635.04 L509.42 633.81 L510.42 632.54 L511.42 631.25 L512.42 629.92 L513.42 628.58 L514.42 627.21 L515.42 625.84 L516.42 624.46 L517.42 623.08 L518.42 621.7 L519.42 620.33 L520.42 618.97 L521.42 617.63 L522.42 616.32 L523.42 615.03 L524.42 613.78 L525.42 612.56 L526.42 611.39 L527.42 610.27 L528.42 609.19 L529.42 608.18 L530.42 607.23 L531.42 606.35 L532.42 605.54 L533.42 604.81 L534.42 604.16 L535.42 603.6 L536.42 603.14 L537.42 602.77 L538.42 602.5 L539.42 602.35 L540.42 602.3 L541.42 602.34 L542.42 602.45 L543.42 602.63 L544.42 602.86 L545.42 603.16 L546.42 603.51 L547.42 603.91 L548.42 604.36 L549.42 604.86 L550.42 605.4 L551.42 605.98 L552.42 606.59 L553.42 607.24 L554.42 607.93 L555.42 608.64 L556.42 609.37 L557.42 610.13 L558.42 610.91 L559.42 611.7 L560.42 612.51 L561.42 613.32 L562.42 614.15 L563.42 614.97 L564.42 615.8 L565.42 616.63 L566.42 617.45 L567.42 618.26 L568.42 619.06 L569.42 619.85 L570.42 620.62 L571.42 621.37 L572.42 622.1 L573.42 622.8 L574.42 623.48 L575.42 624.12 L576.42 624.72 L577.42 625.29 L578.42 625.82 L579.42 626.3 L580.42 626.73 L581.42 627.12 L582.42 627.45 L583.42 627.72 L584.42 627.94 L585.42 628.09 L586.42 628.18 L587.42 628.2 L588.42 628.17 L589.42 628.11 L590.42 628.02 L591.42 627.89 L592.42 627.74 L593.42 627.56 L594.42 627.35 L595.42 627.11 L596.42 626.86 L597.42 626.58 L598.42 626.28 L599.42 625.97 L600.42 625.64 L601.42 625.29 L602.42 624.93 L603.42 624.56 L604.42 624.19 L605.42 623.8 L606.42 623.41 L607.42 623.01 L608.42 622.61 L609.42 622.21 L610.42 621.81 L611.42 621.42 L612.42 621.02 L613.42 620.64 L614.42 620.26 L615.42 619.89 L616.42 619.53 L617.42 619.18 L618.42 618.85 L619.42 618.53 L620.42 618.23 L621.42 617.96 L622.42 617.7 L623.42 617.46 L624.42 617.25 L625.42 617.07 L626.42 616.91 L627.42 616.78 L628.42 616.69 L629.42 616.62 L630.42 616.59 L631.42 616.57 L632.42 616.55 L633.42 616.54 L634.42 616.52 L635.42 616.51 L636.42 616.5 L637.42 616.49 L638.42 616.48 L639.42 616.47 L640.42 616.46 L641.42 616.45 L642.42 616.45 L643.42 616.44 L644.42 616.43 L645.42 616.42 L646.42 616.41 L647.42 616.4 L648.42 616.39 L649.42 616.38 L650.42 616.37 L651.42 616.35 L652.42 616.33 L653.42 616.31 L654.42 616.29 L655.42 616.25 L656.42 616.19 L657.42 616.11 L658.42 616.02 L659.42 615.91 L660.42 615.79 L661.42 615.66 L662.42 615.52 L663.42 615.37 L664.42 615.22 L665.42 615.06 L666.42 614.89 L667.42 614.73 L668.42 614.56 L669.42 614.39 L670.42 614.23 L671.42 614.07 L672.42 613.92 L673.42 613.77 L674.42 613.63 L675.42 613.5 L676.42 613.38 L677.42 613.28 L678.42 613.19 L679.42 613.11 L680.42 613.06 L681.42 613.02 L682.42 613 L683.42 613 L684.42 613.03 L685.42 613.07 L686.42 613.12 L687.42 613.2 L688.42 613.28 L689.42 613.39 L690.42 613.5 L691.42 613.63 L692.42 613.77 L693.42 613.92 L694.42 614.08 L695.42 614.24 L696.42 614.42 L697.42 614.6 L698.42 614.79 L699.42 614.99 L700.42 615.19 L701.42 615.39 L702.42 615.6 L703.42 615.8 L704.42 616.01 L705.42 616.22 L706.42 616.43 L707.42 616.64 L708.42 616.84 L709.42 617.04 L710.42 617.24 L711.42 617.43 L712.42 617.61 L713.42 617.79 L714.42 617.96 L715.42 618.13 L716.42 618.28 L717.42 618.42 L718.42 618.55 L719.42 618.67 L720.42 618.78 L721.42 618.87 L722.42 618.95 L723.42 619.01 L724.42 619.06 L725.42 619.09 L726.42 619.1 L727.42 619.09 L728.42 619.06 L729.42 619.01 L730.42 618.93 L731.42 618.84 L732.42 618.73 L733.42 618.6 L734.42 618.46 L735.42 618.3 L736.42 618.12 L737.42 617.93 L738.42 617.73 L739.42 617.51 L740.42 617.29 L741.42 617.05 L742.42 616.8 L743.42 616.55 L744.42 616.28 L745.42 616.01 L746.42 615.74 L747.42 615.46 L748.42 615.17 L749.42 614.88 L750.42 614.59 L751.42 614.3 L752.42 614 L753.42 613.71 L754.42 613.41 L755.42 613.12 L756.42 612.83 L757.42 612.55 L758.42 612.27 L759.42 612 L760.42 611.73 L761.42 611.47 L762.42 611.21 L763.42 610.97 L764.42 610.74 L765.42 610.51 L766.42 610.3 L767.42 610.1 L768.42 609.92 L769.42 609.75 L770.42 609.59 L771.42 609.45 L772.42 609.33 L773.42 609.23 L774.42 609.14 L775.42 609.07 L776.42 609.03 L777.42 609 L778.42 609 L779.42 609.02 L780.42 609.06 L781.42 609.12 L782.42 609.2 L783.42 609.29 L784.42 609.4 L785.42 609.52 L786.42 609.65 L787.42 609.79 L788.42 609.94 L789.42 610.1 L790.42 610.27 L791.42 610.44 L792.42 610.61 L793.42 610.79 L794.42 610.96 L795.42 611.14 L796.42 611.31 L797.42 611.48 L798.42 611.65 L799.42 611.8 L800.42 611.95 L801.42 612.09 L802.42 612.22 L803.42 612.34 L804.42 612.45 L805.42 612.54 L806.42 612.63 L807.42 612.72 L808.42 612.81 L809.42 612.91 L810.42 613 L811.42 613.09 L812.42 613.18 L813.42 613.26 L814.42 613.34 L815.42 613.42 L816.42 613.49 L817.42 613.55 L818.42 613.6 L819.42 613.64 L820.42 613.67 L821.42 613.69 L822.42 613.7 L823.42 613.69 L824.42 613.68 L825.42 613.65 L826.42 613.61 L827.42 613.56 L828.42 613.49 L829.42 613.42 L830.42 613.34 L831.42 613.25 L832.42 613.15 L833.42 613.04 L834.42 612.93 L835.42 612.81 L836.42 612.68 L837.42 612.54 L838.42 612.4 L839.42 612.26 L840.42 612.1 L841.42 611.95 L842.42 611.79 L843.42 611.62 L844.42 611.46 L845.42 611.29 L846.42 611.12 L847.42 610.94 L848.42 610.77 L849.42 610.59 L850.42 610.41 L851.42 610.24 L852.42 610.06 L853.42 609.89 L854.42 609.71 L855.42 609.54 L856.42 609.37 L857.42 609.21 L858.42 609.04 L859.42 608.88 L860.42 608.73 L861.42 608.58 L862.42 608.43 L863.42 608.29 L864.42 608.16 L865.42 608.03 L866.42 607.91 L867.42 607.79 L868.42 607.69 L869.42 607.59 L870.42 607.5 L871.42 607.42 L872.42 607.35 L873.42 607.29 L874.42 607.23 L875.42 607.17 L876.42 607.12 L877.42 607.06 L878.42 607 L879.42 606.95 L880.42 606.89 L881.42 606.83 L882.42 606.78 L883.42 606.72 L884.42 606.67 L885.42 606.61 L886.42 606.56 L887.42 606.51 L888.42 606.45 L889.42 606.4 L890.42 606.35 L891.42 606.29 L892.42 606.24 L893.42 606.19 L894.42 606.14 L895.42 606.08 L896.42 606.03 L897.42 605.98 L898.42 605.93 L899.42 605.88 L900.42 605.83 L901.42 605.78 L902.42 605.73 L903.42 605.69 L904.42 605.64 L905.42 605.59 L906.42 605.54 L907.42 605.5 L908.42 605.45 L909.42 605.4 L910.42 605.36 L911.42 605.31 L912.42 605.27 L913.42 605.22 L914.42 605.18 L915.42 605.13 L916.42 605.09 L917.42 605.05 L918.42 605 L919.42 604.96 L920.42 604.92 L921.42 604.88 L922.42 604.84 L923.42 604.8 L924.42 604.76 L925.42 604.72 L926.42 604.68 L927.42 604.64 L928.42 604.61 L929.42 604.57 L930.42 604.53 L931.42 604.5 L932.42 604.46 L933.42 604.42 L934.42 604.39 L935.42 604.36 L936.42 604.32 L937.42 604.29 L938.42 604.26 L939.42 604.22 L940.42 604.19 L941.42 604.16 L942.42 604.13 L943.42 604.1 L944.42 604.07 L945.42 604.04 L946.42 604.01 L947.42 603.99 L948.42 603.96 L949.42 603.93 L950.42 603.91 L951.42 603.88 L952.42 603.86 L953.42 603.83 L954.42 603.81 L955.42 603.79 L956.42 603.76 L957.42 603.74 L958.42 603.72 L959.42 603.7 L960.42 603.68 L961.42 603.66 L962.42 603.64 L963.42 603.62 L964.42 603.61 L965.42 603.59 L966.42 603.57 L967.42 603.56 L968.42 603.54 L969.42 603.53 L970.42 603.52 L971.42 603.51 L972.42 603.49 L973.42 603.48 L974.42 603.47 L975.42 603.46 L976.42 603.45 L977.42 603.44 L978.42 603.44 L979.42 603.43 L980.42 603.42 L981.42 603.42 L982.42 603.41 L983.42 603.41 L984.42 603.41 L985.42 603.4 L986.42 603.4 L987.42 603.4 L988.3 603.4" stroke="#A2142F" stroke-width="2.4"/>
<path d="M178 589.5 L209.08 587.22 L240.17 584.93 L271.25 582.65 L302.33 580.37 L333.42 578.08 L334.42 578.08 L335.42 578.07 L336.42 578.05 L337.42 578.03 L338.42 578 L339.42 577.97 L340.42 577.93 L341.42 577.88 L342.42 577.83 L343.42 577.78 L344.42 577.72 L345.42 577.65 L346.42 577.59 L347.42 577.51 L348.42 577.44 L349.42 577.35 L350.42 577.27 L351.42 577.18 L352.42 577.09 L353.42 577 L354.42 576.9 L355.42 576.8 L356.42 576.7 L357.42 576.59 L358.42 576.48 L359.42 576.38 L360.42 576.26 L361.42 576.15 L362.42 576.04 L363.42 575.93 L364.42 575.81 L365.42 575.69 L366.42 575.55 L367.42 575.4 L368.42 575.24 L369.42 575.06 L370.42 574.88 L371.42 574.68 L372.42 574.47 L373.42 574.24 L374.42 574.01 L375.42 573.77 L376.42 573.51 L377.42 573.25 L378.42 572.98 L379.42 572.69 L380.42 572.4 L381.42 572.11 L382.42 571.8 L383.42 571.49 L384.42 571.17 L385.42 570.84 L386.42 570.51 L387.42 570.17 L388.42 569.83 L389.42 569.49 L390.42 569.13 L391.42 568.78 L392.42 568.42 L393.42 568.06 L394.42 567.69 L395.42 567.33 L396.42 566.96 L397.42 566.55 L398.42 566.1 L399.42 565.6 L400.42 565.06 L401.42 564.48 L402.42 563.86 L403.42 563.21 L404.42 562.53 L405.42 561.83 L406.42 561.1 L407.42 560.36 L408.42 559.61 L409.42 558.85 L410.42 558.08 L411.42 557.31 L412.42 556.54 L413.42 555.77 L414.42 555.02 L415.42 554.28 L416.42 553.55 L417.42 552.85 L418.42 552.17 L419.42 551.51 L420.42 550.89 L421.42 550.3 L422.42 549.76 L423.42 549.25 L424.42 548.79 L425.42 548.39 L426.42 548.03 L427.42 547.74 L428.42 547.5 L429.42 547.33 L430.42 547.23 L431.42 547.2 L432.42 547.25 L433.42 547.4 L434.42 547.62 L435.42 547.92 L436.42 548.3 L437.42 548.75 L438.42 549.27 L439.42 549.86 L440.42 550.52 L441.42 551.23 L442.42 552 L443.42 552.83 L444.42 553.71 L445.42 554.63 L446.42 555.61 L447.42 556.62 L448.42 557.67 L449.42 558.76 L450.42 559.88 L451.42 561.03 L452.42 562.21 L453.42 563.41 L454.42 564.63 L455.42 565.87 L456.42 567.12 L457.42 568.39 L458.42 569.66 L459.42 570.93 L460.42 572.21 L461.42 573.49 L462.42 574.76 L463.42 576.02 L464.42 577.27 L465.42 578.51 L466.42 579.73 L467.42 580.93 L468.42 582.11 L469.42 583.26 L470.42 584.38 L471.42 585.46 L472.42 586.51 L473.42 587.53 L474.42 588.5 L475.42 589.42 L476.42 590.3 L477.42 591.12 L478.42 591.89 L479.42 592.61 L480.42 593.26 L481.42 593.84 L482.42 594.36 L483.42 594.81 L484.42 595.19 L485.42 595.49 L486.42 595.71 L487.42 595.85 L488.42 595.9 L489.42 595.84 L490.42 595.66 L491.42 595.39 L492.42 595.04 L493.42 594.65 L494.42 594.24 L495.42 593.82 L496.42 593.33 L497.42 592.73 L498.42 592.04 L499.42 591.26 L500.42 590.4 L501.42 589.46 L502.42 588.44 L503.42 587.36 L504.42 586.21 L505.42 584.99 L506.42 583.73 L507.42 582.41 L508.42 581.04 L509.42 579.64 L510.42 578.2 L511.42 576.72 L512.42 575.22 L513.42 573.7 L514.42 572.16 L515.42 570.61 L516.42 569.05 L517.42 567.48 L518.42 565.92 L519.42 564.37 L520.42 562.82 L521.42 561.29 L522.42 559.79 L523.42 558.3 L524.42 556.85 L525.42 555.43 L526.42 554.06 L527.42 552.72 L528.42 551.44 L529.42 550.21 L530.42 549.04 L531.42 547.93 L532.42 546.89 L533.42 545.93 L534.42 545.04 L535.42 544.23 L536.42 543.51 L537.42 542.89 L538.42 542.36 L539.42 541.93 L540.42 541.61 L541.42 541.4 L542.42 541.3 L543.42 541.32 L544.42 541.39 L545.42 541.53 L546.42 541.72 L547.42 541.97 L548.42 542.28 L549.42 542.63 L550.42 543.03 L551.42 543.48 L552.42 543.98 L553.42 544.51 L554.42 545.08 L555.42 545.69 L556.42 546.33 L557.42 547.01 L558.42 547.71 L559.42 548.44 L560.42 549.2 L561.42 549.97 L562.42 550.77 L563.42 551.59 L564.42 552.42 L565.42 553.26 L566.42 554.11 L567.42 554.97 L568.42 555.84 L569.42 556.7 L570.42 557.57 L571.42 558.44 L572.42 559.3 L573.42 560.16 L574.42 561.01 L575.42 561.85 L576.42 562.67 L577.42 563.48 L578.42 564.27 L579.42 565.03 L580.42 565.78 L581.42 566.5 L582.42 567.19 L583.42 567.85 L584.42 568.48 L585.42 569.07 L586.42 569.63 L587.42 570.14 L588.42 570.62 L589.42 571.05 L590.42 571.43 L591.42 571.76 L592.42 572.04 L593.42 572.27 L594.42 572.44 L595.42 572.55 L596.42 572.6 L597.42 572.59 L598.42 572.56 L599.42 572.49 L600.42 572.39 L601.42 572.27 L602.42 572.12 L603.42 571.95 L604.42 571.75 L605.42 571.52 L606.42 571.28 L607.42 571.01 L608.42 570.72 L609.42 570.41 L610.42 570.08 L611.42 569.73 L612.42 569.36 L613.42 568.98 L614.42 568.58 L615.42 568.17 L616.42 567.74 L617.42 567.3 L618.42 566.84 L619.42 566.38 L620.42 565.9 L621.42 565.42 L622.42 564.92 L623.42 564.42 L624.42 563.91 L625.42 563.4 L626.42 562.88 L627.42 562.35 L628.42 561.82 L629.42 561.29 L630.42 560.76 L631.42 560.23 L632.42 559.7 L633.42 559.17 L634.42 558.64 L635.42 558.12 L636.42 557.59 L637.42 557.08 L638.42 556.57 L639.42 556.06 L640.42 555.56 L641.42 555.08 L642.42 554.6 L643.42 554.13 L644.42 553.67 L645.42 553.22 L646.42 552.79 L647.42 552.37 L648.42 551.97 L649.42 551.58 L650.42 551.2 L651.42 550.85 L652.42 550.51 L653.42 550.19 L654.42 549.9 L655.42 549.62 L656.42 549.36 L657.42 549.13 L658.42 548.92 L659.42 548.74 L660.42 548.58 L661.42 548.45 L662.42 548.34 L663.42 548.27 L664.42 548.22 L665.42 548.2 L666.42 548.21 L667.42 548.25 L668.42 548.3 L669.42 548.39 L670.42 548.49 L671.42 548.61 L672.42 548.76 L673.42 548.92 L674.42 549.1 L675.42 549.29 L676.42 549.5 L677.42 549.73 L678.42 549.97 L679.42 550.22 L680.42 550.48 L681.42 550.75 L682.42 551.03 L683.42 551.32 L684.42 551.62 L685.42 551.92 L686.42 552.23 L687.42 552.54 L688.42 552.85 L689.42 553.17 L690.42 553.49 L691.42 553.8 L692.42 554.12 L693.42 554.43 L694.42 554.75 L695.42 555.05 L696.42 555.35 L697.42 555.65 L698.42 555.94 L699.42 556.21 L700.42 556.48 L701.42 556.74 L702.42 556.99 L703.42 557.23 L704.42 557.45 L705.42 557.66 L706.42 557.85 L707.42 558.02 L708.42 558.18 L709.42 558.32 L710.42 558.44 L711.42 558.53 L712.42 558.61 L713.42 558.66 L714.42 558.69 L715.42 558.7 L716.42 558.68 L717.42 558.64 L718.42 558.57 L719.42 558.48 L720.42 558.37 L721.42 558.24 L722.42 558.1 L723.42 557.93 L724.42 557.75 L725.42 557.54 L726.42 557.33 L727.42 557.1 L728.42 556.85 L729.42 556.59 L730.42 556.32 L731.42 556.03 L732.42 555.74 L733.42 555.43 L734.42 555.12 L735.42 554.79 L736.42 554.46 L737.42 554.12 L738.42 553.78 L739.42 553.43 L740.42 553.08 L741.42 552.72 L742.42 552.36 L743.42 552 L744.42 551.63 L745.42 551.27 L746.42 550.91 L747.42 550.55 L748.42 550.19 L749.42 549.83 L750.42 549.48 L751.42 549.14 L752.42 548.8 L753.42 548.46 L754.42 548.13 L755.42 547.82 L756.42 547.51 L757.42 547.2 L758.42 546.91 L759.42 546.64 L760.42 546.37 L761.42 546.12 L762.42 545.88 L763.42 545.65 L764.42 545.45 L765.42 545.25 L766.42 545.08 L767.42 544.92 L768.42 544.78 L769.42 544.67 L770.42 544.57 L771.42 544.49 L772.42 544.44 L773.42 544.41 L774.42 544.4 L775.42 544.41 L776.42 544.43 L777.42 544.47 L778.42 544.52 L779.42 544.58 L780.42 544.65 L781.42 544.73 L782.42 544.82 L783.42 544.92 L784.42 545.02 L785.42 545.13 L786.42 545.25 L787.42 545.37 L788.42 545.5 L789.42 545.63 L790.42 545.76 L791.42 545.89 L792.42 546.03 L793.42 546.16 L794.42 546.3 L795.42 546.43 L796.42 546.57 L797.42 546.69 L798.42 546.82 L799.42 546.94 L800.42 547.06 L801.42 547.17 L802.42 547.27 L803.42 547.37 L804.42 547.45 L805.42 547.53 L806.42 547.61 L807.42 547.7 L808.42 547.78 L809.42 547.87 L810.42 547.95 L811.42 548.04 L812.42 548.12 L813.42 548.21 L814.42 548.29 L815.42 548.38 L816.42 548.45 L817.42 548.53 L818.42 548.6 L819.42 548.67 L820.42 548.73 L821.42 548.79 L822.42 548.84 L823.42 548.89 L824.42 548.93 L825.42 548.96 L826.42 548.98 L827.42 549 L828.42 549 L829.42 548.99 L830.42 548.96 L831.42 548.92 L832.42 548.86 L833.42 548.79 L834.42 548.7 L835.42 548.6 L836.42 548.48 L837.42 548.35 L838.42 548.21 L839.42 548.06 L840.42 547.9 L841.42 547.72 L842.42 547.54 L843.42 547.35 L844.42 547.15 L845.42 546.95 L846.42 546.73 L847.42 546.51 L848.42 546.29 L849.42 546.06 L850.42 545.83 L851.42 545.59 L852.42 545.35 L853.42 545.11 L854.42 544.86 L855.42 544.62 L856.42 544.37 L857.42 544.13 L858.42 543.89 L859.42 543.65 L860.42 543.41 L861.42 543.17 L862.42 542.94 L863.42 542.71 L864.42 542.49 L865.42 542.27 L866.42 542.06 L867.42 541.86 L868.42 541.67 L869.42 541.48 L870.42 541.3 L871.42 541.13 L872.42 540.97 L873.42 540.83 L874.42 540.69 L875.42 540.57 L876.42 540.46 L877.42 540.36 L878.42 540.28 L879.42 540.21 L880.42 540.16 L881.42 540.12 L882.42 540.1 L883.42 540.1 L884.42 540.1 L885.42 540.1 L886.42 540.11 L887.42 540.11 L888.42 540.12 L889.42 540.13 L890.42 540.14 L891.42 540.15 L892.42 540.16 L893.42 540.17 L894.42 540.19 L895.42 540.2 L896.42 540.22 L897.42 540.23 L898.42 540.25 L899.42 540.26 L900.42 540.28 L901.42 540.3 L902.42 540.31 L903.42 540.33 L904.42 540.35 L905.42 540.37 L906.42 540.38 L907.42 540.4 L908.42 540.42 L909.42 540.44 L910.42 540.45 L911.42 540.47 L912.42 540.48 L913.42 540.5 L914.42 540.51 L915.42 540.53 L916.42 540.54 L917.42 540.55 L918.42 540.56 L919.42 540.57 L920.42 540.58 L921.42 540.58 L922.42 540.59 L923.42 540.6 L924.42 540.6 L925.42 540.6 L926.42 540.6 L927.42 540.6 L928.42 540.59 L929.42 540.58 L930.42 540.56 L931.42 540.55 L932.42 540.53 L933.42 540.5 L934.42 540.48 L935.42 540.45 L936.42 540.41 L937.42 540.38 L938.42 540.34 L939.42 540.29 L940.42 540.25 L941.42 540.2 L942.42 540.15 L943.42 540.09 L944.42 540.04 L945.42 539.98 L946.42 539.92 L947.42 539.85 L948.42 539.78 L949.42 539.71 L950.42 539.64 L951.42 539.56 L952.42 539.49 L953.42 539.41 L954.42 539.32 L955.42 539.24 L956.42 539.15 L957.42 539.06 L958.42 538.97 L959.42 538.87 L960.42 538.78 L961.42 538.68 L962.42 538.58 L963.42 538.48 L964.42 538.37 L965.42 538.27 L966.42 538.16 L967.42 538.05 L968.42 537.94 L969.42 537.82 L970.42 537.71 L971.42 537.59 L972.42 537.47 L973.42 537.35 L974.42 537.23 L975.42 537.11 L976.42 536.98 L977.42 536.86 L978.42 536.73 L979.42 536.6 L980.42 536.47 L981.42 536.34 L982.42 536.2 L983.42 536.07 L984.42 535.93 L985.42 535.8 L986.42 535.66 L987.42 535.52 L988.3 535.4" stroke="#0072BD" stroke-width="2.4"/>
<path d="M178 518.9 L364.5 502.4 L365.5 502.38 L366.5 502.31 L367.5 502.21 L368.5 502.08 L369.5 501.92 L370.5 501.74 L371.5 501.54 L372.5 501.34 L373.5 501.1 L374.5 500.76 L375.5 500.34 L376.5 499.84 L377.5 499.29 L378.5 498.69 L379.5 498.06 L380.5 497.42 L381.5 496.77 L382.5 496.14 L383.5 495.53 L384.5 494.96 L385.5 494.45 L386.5 493.97 L387.5 493.51 L388.5 493.05 L389.5 492.61 L390.5 492.17 L391.5 491.74 L392.5 491.3 L393.5 490.87 L394.5 490.43 L395.5 489.99 L396.5 489.54 L397.5 489.08 L398.5 488.61 L399.5 488.12 L400.5 487.61 L401.5 487.09 L402.5 486.56 L403.5 486.03 L404.5 485.5 L405.5 484.97 L406.5 484.45 L407.5 483.94 L408.5 483.45 L409.5 482.98 L410.5 482.53 L411.5 482.09 L412.5 481.63 L413.5 481.18 L414.5 480.79 L415.5 480.5 L416.5 480.32 L417.5 480.17 L418.5 480.04 L419.5 479.93 L420.5 479.85 L421.5 479.81 L422.5 479.81 L423.5 479.89 L424.5 480.03 L425.5 480.23 L426.5 480.48 L427.5 480.76 L428.5 481.07 L429.5 481.51 L430.5 482.21 L431.5 483.11 L432.5 484.14 L433.5 485.23 L434.5 486.33 L435.5 487.36 L436.5 488.27 L437.5 489.12 L438.5 489.95 L439.5 490.77 L440.5 491.57 L441.5 492.37 L442.5 493.17 L443.5 493.96 L444.5 494.74 L445.5 495.53 L446.5 496.31 L447.5 497.1 L448.5 497.9 L449.5 498.7 L450.5 499.51 L451.5 500.32 L452.5 501.14 L453.5 501.96 L454.5 502.77 L455.5 503.59 L456.5 504.4 L457.5 505.2 L458.5 506 L459.5 506.79 L460.5 507.58 L461.5 508.35 L462.5 509.11 L463.5 509.87 L464.5 510.62 L465.5 511.37 L466.5 512.12 L467.5 512.86 L468.5 513.59 L469.5 514.33 L470.5 515.05 L471.5 515.78 L472.5 516.49 L473.5 517.21 L474.5 517.91 L475.5 518.61 L476.5 519.31 L477.5 520 L478.5 520.69 L479.5 521.36 L479.7 521.5 L495.4 512.3 L513.2 495.1 L514.2 494.64 L515.2 494.18 L516.2 493.74 L517.2 493.3 L518.2 492.88 L519.2 492.46 L520.2 492.06 L521.2 491.67 L522.2 491.3 L523.2 490.93 L524.2 490.59 L525.2 490.25 L526.2 489.93 L527.2 489.63 L528.2 489.34 L529.2 489.07 L530.2 488.82 L531.2 488.59 L532.2 488.37 L533.2 488.17 L534.2 487.99 L535.2 487.81 L536.2 487.63 L537.2 487.46 L538.2 487.28 L539.2 487.12 L540.2 486.96 L541.2 486.81 L542.2 486.67 L543.2 486.55 L544.2 486.44 L545.2 486.35 L546.2 486.28 L547.2 486.23 L548.2 486.2 L549.2 486.2 L550.2 486.22 L551.2 486.27 L552.2 486.34 L553.2 486.44 L554.2 486.55 L555.2 486.69 L556.2 486.84 L557.2 487.02 L558.2 487.21 L559.2 487.42 L560.2 487.65 L561.2 487.89 L562.2 488.15 L563.2 488.42 L564.2 488.7 L565.2 488.99 L566.2 489.3 L567.2 489.61 L568.2 489.93 L569.2 490.26 L570.2 490.6 L571.2 490.94 L572.2 491.29 L573.2 491.65 L574.2 492 L575.2 492.36 L576.2 492.72 L577.2 493.08 L578.2 493.44 L579.2 493.8 L580.2 494.15 L581.2 494.51 L582.2 494.86 L583.2 495.2 L584.2 495.54 L585.2 495.87 L586.2 496.19 L587.2 496.5 L588.2 496.81 L589.2 497.1 L590.2 497.38 L591.2 497.65 L592.2 497.91 L593.2 498.15 L594.2 498.38 L595.2 498.59 L596.2 498.78 L597.2 498.96 L598.2 499.11 L599.2 499.25 L600.2 499.36 L601.2 499.46 L602.2 499.53 L603.2 499.58 L604.2 499.6 L605.2 499.59 L606.2 499.56 L607.2 499.51 L608.2 499.43 L609.2 499.32 L610.2 499.19 L611.2 499.04 L612.2 498.86 L613.2 498.67 L614.2 498.45 L615.2 498.22 L616.2 497.97 L617.2 497.7 L618.2 497.42 L619.2 497.13 L620.2 496.82 L621.2 496.5 L622.2 496.17 L623.2 495.82 L624.2 495.47 L625.2 495.11 L626.2 494.74 L627.2 494.37 L628.2 493.99 L629.2 493.61 L630.2 493.23 L631.2 492.84 L632.2 492.45 L633.2 492.06 L634.2 491.67 L635.2 491.29 L636.2 490.91 L637.2 490.53 L638.2 490.16 L639.2 489.79 L640.2 489.43 L641.2 489.08 L642.2 488.73 L643.2 488.4 L644.2 488.08 L645.2 487.77 L646.2 487.48 L647.2 487.2 L648.2 486.93 L649.2 486.68 L650.2 486.45 L651.2 486.23 L652.2 486.04 L653.2 485.86 L654.2 485.71 L655.2 485.58 L656.2 485.47 L657.2 485.39 L658.2 485.34 L659.2 485.31 L660.2 485.3 L661.2 485.31 L662.2 485.34 L663.2 485.38 L664.2 485.44 L665.2 485.5 L666.2 485.58 L667.2 485.67 L668.2 485.77 L669.2 485.88 L670.2 485.99 L671.2 486.12 L672.2 486.26 L673.2 486.4 L674.2 486.54 L675.2 486.7 L676.2 486.86 L677.2 487.02 L678.2 487.19 L679.2 487.36 L680.2 487.54 L681.2 487.71 L682.2 487.89 L683.2 488.07 L684.2 488.25 L685.2 488.43 L686.2 488.61 L687.2 488.78 L688.2 488.96 L689.2 489.13 L690.2 489.29 L691.2 489.46 L692.2 489.62 L693.2 489.77 L694.2 489.92 L695.2 490.06 L696.2 490.19 L697.2 490.32 L698.2 490.43 L699.2 490.54 L700.2 490.64 L701.2 490.73 L702.2 490.8 L703.2 490.87 L704.2 490.92 L705.2 490.96 L706.2 490.99 L707.2 491 L708.2 491 L709.2 490.98 L710.2 490.95 L711.2 490.91 L712.2 490.86 L713.2 490.79 L714.2 490.72 L715.2 490.64 L716.2 490.54 L717.2 490.44 L718.2 490.33 L719.2 490.22 L720.2 490.09 L721.2 489.96 L722.2 489.83 L723.2 489.69 L724.2 489.55 L725.2 489.4 L726.2 489.25 L727.2 489.09 L728.2 488.94 L729.2 488.78 L730.2 488.62 L731.2 488.47 L732.2 488.31 L733.2 488.15 L734.2 488 L735.2 487.85 L736.2 487.7 L737.2 487.55 L738.2 487.41 L739.2 487.28 L740.2 487.14 L741.2 487.02 L742.2 486.9 L743.2 486.79 L744.2 486.69 L745.2 486.59 L746.2 486.5 L747.2 486.43 L748.2 486.36 L749.2 486.3 L750.2 486.26 L751.2 486.23 L752.2 486.21 L753.2 486.2 L754.2 486.2 L755.2 486.2 L756.2 486.2 L757.2 486.2 L758.2 486.21 L759.2 486.21 L760.2 486.21 L761.2 486.22 L762.2 486.22 L763.2 486.23 L764.2 486.23 L765.2 486.24 L766.2 486.25 L767.2 486.25 L768.2 486.26 L769.2 486.27 L770.2 486.27 L771.2 486.28 L772.2 486.29 L773.2 486.3 L774.2 486.31 L775.2 486.32 L776.2 486.32 L777.2 486.33 L778.2 486.34 L779.2 486.35 L780.2 486.36 L781.2 486.37 L782.2 486.38 L783.2 486.39 L784.2 486.4 L785.2 486.41 L786.2 486.42 L787.2 486.43 L788.2 486.44 L789.2 486.45 L790.2 486.46 L791.2 486.47 L792.2 486.48 L793.2 486.49 L794.2 486.49 L795.2 486.5 L796.2 486.51 L797.2 486.52 L798.2 486.53 L799.2 486.53 L800.2 486.54 L801.2 486.55 L802.2 486.56 L803.2 486.56 L804.2 486.57 L805.2 486.57 L806.2 486.58 L807.2 486.58 L808.2 486.59 L809.2 486.59 L810.2 486.59 L811.2 486.6 L812.2 486.6 L813.2 486.6 L814.2 486.6 L815.2 486.6 L816.2 486.6 L817.2 486.6 L818.2 486.59 L819.2 486.58 L820.2 486.58 L821.2 486.57 L822.2 486.55 L823.2 486.54 L824.2 486.53 L825.2 486.51 L826.2 486.49 L827.2 486.47 L828.2 486.45 L829.2 486.43 L830.2 486.41 L831.2 486.39 L832.2 486.36 L833.2 486.33 L834.2 486.31 L835.2 486.28 L836.2 486.25 L837.2 486.22 L838.2 486.18 L839.2 486.15 L840.2 486.12 L841.2 486.08 L842.2 486.05 L843.2 486.01 L844.2 485.98 L845.2 485.94 L846.2 485.9 L847.2 485.86 L848.2 485.82 L849.2 485.78 L850.2 485.74 L851.2 485.7 L852.2 485.66 L853.2 485.62 L854.2 485.58 L855.2 485.53 L856.2 485.49 L857.2 485.45 L858.2 485.41 L859.2 485.36 L860.2 485.32 L861.2 485.28 L862.2 485.23 L863.2 485.19 L864.2 485.15 L865.2 485.1 L866.2 485.06 L867.2 485.02 L868.2 484.97 L869.2 484.93 L870.2 484.89 L871.2 484.85 L872.2 484.81 L873.2 484.76 L874.2 484.72 L875.2 484.68 L876.2 484.64 L877.2 484.6 L878.2 484.57 L879.2 484.53 L880.2 484.49 L881.2 484.45 L882.2 484.42 L883.2 484.38 L884.2 484.35 L885.2 484.32 L886.2 484.28 L887.2 484.25 L888.2 484.22 L889.2 484.19 L890.2 484.17 L891.2 484.14 L892.2 484.11 L893.2 484.09 L894.2 484.06 L895.2 484.04 L896.2 484.01 L897.2 483.99 L898.2 483.96 L899.2 483.94 L900.2 483.92 L901.2 483.89 L902.2 483.87 L903.2 483.84 L904.2 483.82 L905.2 483.8 L906.2 483.77 L907.2 483.75 L908.2 483.72 L909.2 483.7 L910.2 483.68 L911.2 483.65 L912.2 483.63 L913.2 483.61 L914.2 483.58 L915.2 483.56 L916.2 483.54 L917.2 483.52 L918.2 483.49 L919.2 483.47 L920.2 483.45 L921.2 483.42 L922.2 483.4 L923.2 483.38 L924.2 483.36 L925.2 483.34 L926.2 483.31 L927.2 483.29 L928.2 483.27 L929.2 483.25 L930.2 483.23 L931.2 483.2 L932.2 483.18 L933.2 483.16 L934.2 483.14 L935.2 483.12 L936.2 483.1 L937.2 483.08 L938.2 483.06 L939.2 483.04 L940.2 483.02 L941.2 483 L942.2 482.98 L943.2 482.96 L944.2 482.94 L945.2 482.92 L946.2 482.9 L947.2 482.88 L948.2 482.86 L949.2 482.84 L950.2 482.82 L951.2 482.8 L952.2 482.78 L953.2 482.76 L954.2 482.74 L955.2 482.73 L956.2 482.71 L957.2 482.69 L958.2 482.67 L959.2 482.65 L960.2 482.63 L961.2 482.62 L962.2 482.6 L963.2 482.58 L964.2 482.57 L965.2 482.55 L966.2 482.53 L967.2 482.51 L968.2 482.5 L969.2 482.48 L970.2 482.47 L971.2 482.45 L972.2 482.43 L973.2 482.42 L974.2 482.4 L975.2 482.39 L976.2 482.37 L977.2 482.36 L978.2 482.34 L979.2 482.33 L980.2 482.31 L981.2 482.3 L982.2 482.28 L983.2 482.27 L984.2 482.26 L985.2 482.24 L986.2 482.23 L987.2 482.21 L988.2 482.2 L988.3 482.2" stroke="#D95319" stroke-width="2.4"/>
</g>
<path d="M176.9 852.3H988.3M176.9 1067.7H988.3M178 852.3V1067.7" fill="none" stroke="#1a1a1a" stroke-width="2.2"/>
<path d="M987.8 851.2V1068.8" fill="none" stroke="#262626" stroke-width="2.8"/>
<path d="M489.65 1067.7V1058.2M489.65 852.3V861.8M801 1067.7V1058.2M801 852.3V861.8M178 856.3H187.5M988.3 856.3H978.8M178 962.3H187.5M988.3 962.3H978.8M178 1067.7H187.5M988.3 1067.7H978.8" stroke="#1a1a1a" stroke-width="2" fill="none"/>
<g clip-path="url(#cc)" fill="none" stroke-linejoin="round" stroke-linecap="round">
<path d="M178 1067.7 L988.3 1067.7" stroke="#0072BD" stroke-width="2.4"/>
<path d="M178 1002.5 L365.4 976.5 L366.4 982.48 L367.4 988.25 L368.4 993.81 L369.4 999.15 L370.4 1004.26 L371.4 1009.13 L372.4 1013.78 L373.4 1018.17 L374.4 1022.33 L375.4 1026.23 L376.4 1029.87 L377.4 1033.24 L378.4 1036.35 L379.4 1039.19 L380.4 1041.74 L381.4 1044.02 L382.4 1046 L383.4 1047.68 L384.4 1049.07 L385.4 1050.15 L386.4 1050.92 L387.4 1051.37 L388.4 1051.5 L389.4 1051.1 L390.4 1050.08 L391.4 1048.47 L392.4 1046.29 L393.4 1043.59 L394.4 1040.4 L395.4 1036.74 L396.4 1032.66 L397.4 1028.19 L398.4 1023.35 L399.4 1018.2 L400.4 1012.75 L401.4 1007.05 L402.4 1001.12 L403.4 995.01 L404.4 988.74 L405.4 982.35 L406.4 975.87 L407.4 969.33 L408.4 962.78 L409.4 956.24 L410.4 949.74 L411.4 943.33 L412.4 937.03 L413.4 930.89 L414.4 924.92 L415.4 919.17 L416.4 913.67 L417.4 908.45 L418.4 903.55 L419.4 899.01 L420.4 894.84 L421.4 891.1 L422.4 887.81 L423.4 885.01 L424.4 882.72 L425.4 880.99 L426.4 879.85 L427.4 879.33 L428.4 879.45 L429.4 880.15 L430.4 881.4 L431.4 883.17 L432.4 885.42 L433.4 888.13 L434.4 891.26 L435.4 894.78 L436.4 898.65 L437.4 902.85 L438.4 907.34 L439.4 912.09 L440.4 917.06 L441.4 922.23 L442.4 927.56 L443.4 933.02 L444.4 938.57 L445.4 944.2 L446.4 949.85 L447.4 955.5 L448.4 961.13 L449.4 966.68 L450.4 972.14 L451.4 977.47 L452.4 982.64 L453.4 987.61 L454.4 992.36 L455.4 996.85 L456.4 1001.05 L457.4 1004.92 L458.4 1008.44 L459.4 1011.57 L460.4 1014.28 L461.4 1016.53 L462.4 1018.3 L463.4 1019.55 L464.4 1020.25 L465.4 1020.39 L466.4 1020.23 L467.4 1019.88 L468.4 1019.35 L469.4 1018.65 L470.4 1017.79 L471.4 1016.78 L472.4 1015.62 L473.4 1014.33 L474.4 1012.92 L475.4 1011.39 L476.4 1009.76 L477.4 1008.03 L478.4 1006.22 L479.4 1004.33 L480.4 1002.37 L481.4 1000.36 L482.4 998.29 L483.4 996.19 L484.4 994.07 L485.4 991.92 L486.4 989.76 L487.4 987.6 L488.4 985.45 L489.4 983.32 L490.4 981.21 L491.4 979.15 L492.4 977.13 L493.4 975.17 L494.4 973.27 L495.4 971.45 L496.4 969.71 L497.4 968.07 L498.4 966.53 L499.4 965.1 L500.4 963.8 L501.4 962.63 L502.4 961.6 L503.4 960.72 L504.4 960.01 L505.4 959.46 L506.4 959.09 L507.4 958.92 L508.4 958.91 L509.4 958.95 L510.4 959.04 L511.4 959.16 L512.4 959.3 L513.4 959.47 L514.4 959.66 L515.4 959.87 L516.4 960.09 L517.4 960.31 L518.4 960.54 L519.4 960.77 L520.4 960.99 L521.4 961.2 L522.4 961.39 L523.4 961.57 L524.4 961.72 L525.4 961.84 L526.4 961.93 L527.4 961.99 L528.4 962 L529.4 961.92 L530.4 961.72 L531.4 961.42 L532.4 961.03 L533.4 960.54 L534.4 959.96 L535.4 959.3 L536.4 958.57 L537.4 957.77 L538.4 956.91 L539.4 956 L540.4 955.03 L541.4 954.02 L542.4 952.98 L543.4 951.91 L544.4 950.81 L545.4 949.69 L546.4 948.56 L547.4 947.43 L548.4 946.3 L549.4 945.17 L550.4 944.06 L551.4 942.97 L552.4 941.9 L553.4 940.87 L554.4 939.87 L555.4 938.92 L556.4 938.02 L557.4 937.18 L558.4 936.4 L559.4 935.69 L560.4 935.06 L561.4 934.51 L562.4 934.04 L563.4 933.68 L564.4 933.41 L565.4 933.25 L566.4 933.2 L567.4 933.28 L568.4 933.47 L569.4 933.78 L570.4 934.2 L571.4 934.73 L572.4 935.35 L573.4 936.07 L574.4 936.87 L575.4 937.76 L576.4 938.73 L577.4 939.76 L578.4 940.86 L579.4 942.03 L580.4 943.24 L581.4 944.51 L582.4 945.82 L583.4 947.17 L584.4 948.56 L585.4 949.97 L586.4 951.4 L587.4 952.85 L588.4 954.31 L589.4 955.78 L590.4 957.24 L591.4 958.71 L592.4 960.16 L593.4 961.59 L594.4 963 L595.4 964.39 L596.4 965.74 L597.4 967.06 L598.4 968.33 L599.4 969.55 L600.4 970.72 L601.4 971.83 L602.4 972.87 L603.4 973.85 L604.4 974.74 L605.4 975.55 L606.4 976.28 L607.4 976.91 L608.4 977.45 L609.4 977.88 L610.4 978.2 L611.4 978.41 L612.4 978.5 L613.4 978.45 L614.4 978.27 L615.4 977.95 L616.4 977.5 L617.4 976.92 L618.4 976.23 L619.4 975.43 L620.4 974.53 L621.4 973.52 L622.4 972.43 L623.4 971.24 L624.4 969.98 L625.4 968.65 L626.4 967.25 L627.4 965.79 L628.4 964.27 L629.4 962.7 L630.4 961.1 L631.4 959.45 L632.4 957.78 L633.4 956.08 L634.4 954.37 L635.4 952.65 L636.4 950.92 L637.4 949.19 L638.4 947.47 L639.4 945.77 L640.4 944.08 L641.4 942.42 L642.4 940.8 L643.4 939.21 L644.4 937.67 L645.4 936.18 L646.4 934.74 L647.4 933.38 L648.4 932.08 L649.4 930.85 L650.4 929.72 L651.4 928.66 L652.4 927.71 L653.4 926.85 L654.4 926.11 L655.4 925.48 L656.4 924.96 L657.4 924.58 L658.4 924.32 L659.4 924.21 L660.4 924.23 L661.4 924.36 L662.4 924.59 L663.4 924.92 L664.4 925.35 L665.4 925.86 L666.4 926.45 L667.4 927.12 L668.4 927.87 L669.4 928.67 L670.4 929.54 L671.4 930.46 L672.4 931.44 L673.4 932.45 L674.4 933.51 L675.4 934.6 L676.4 935.71 L677.4 936.85 L678.4 938.01 L679.4 939.18 L680.4 940.36 L681.4 941.53 L682.4 942.71 L683.4 943.87 L684.4 945.02 L685.4 946.15 L686.4 947.25 L687.4 948.33 L688.4 949.36 L689.4 950.36 L690.4 951.3 L691.4 952.2 L692.4 953.04 L693.4 953.81 L694.4 954.52 L695.4 955.15 L696.4 955.71 L697.4 956.17 L698.4 956.55 L699.4 956.84 L700.4 957.02 L701.4 957.1 L702.4 957.08 L703.4 957 L704.4 956.86 L705.4 956.66 L706.4 956.41 L707.4 956.11 L708.4 955.76 L709.4 955.36 L710.4 954.93 L711.4 954.45 L712.4 953.95 L713.4 953.4 L714.4 952.83 L715.4 952.23 L716.4 951.61 L717.4 950.96 L718.4 950.3 L719.4 949.62 L720.4 948.93 L721.4 948.23 L722.4 947.53 L723.4 946.82 L724.4 946.11 L725.4 945.41 L726.4 944.71 L727.4 944.01 L728.4 943.33 L729.4 942.67 L730.4 942.02 L731.4 941.39 L732.4 940.79 L733.4 940.21 L734.4 939.66 L735.4 939.14 L736.4 938.66 L737.4 938.22 L738.4 937.82 L739.4 937.46 L740.4 937.15 L741.4 936.89 L742.4 936.68 L743.4 936.53 L744.4 936.43 L745.4 936.4 L746.4 936.41 L747.4 936.44 L748.4 936.49 L749.4 936.56 L750.4 936.64 L751.4 936.74 L752.4 936.85 L753.4 936.98 L754.4 937.11 L755.4 937.26 L756.4 937.41 L757.4 937.57 L758.4 937.74 L759.4 937.91 L760.4 938.08 L761.4 938.26 L762.4 938.44 L763.4 938.62 L764.4 938.79 L765.4 938.96 L766.4 939.13 L767.4 939.29 L768.4 939.44 L769.4 939.59 L770.4 939.72 L771.4 939.85 L772.4 939.96 L773.4 940.06 L774.4 940.14 L775.4 940.21 L776.4 940.26 L777.4 940.29 L778.4 940.3 L779.4 940.29 L780.4 940.26 L781.4 940.21 L782.4 940.15 L783.4 940.07 L784.4 939.98 L785.4 939.87 L786.4 939.75 L787.4 939.61 L788.4 939.47 L789.4 939.32 L790.4 939.15 L791.4 938.98 L792.4 938.81 L793.4 938.62 L794.4 938.44 L795.4 938.25 L796.4 938.05 L797.4 937.86 L798.4 937.66 L799.4 937.47 L800.4 937.27 L801.4 937.08 L802.4 936.89 L803.4 936.71 L804.4 936.53 L805.4 936.36 L806.4 936.2 L807.4 936.05 L808.4 935.9 L809.4 935.77 L810.4 935.64 L811.4 935.53 L812.4 935.44 L813.4 935.36 L814.4 935.29 L815.4 935.24 L816.4 935.21 L817.4 935.2 L818.4 935.21 L819.4 935.24 L820.4 935.3 L821.4 935.38 L822.4 935.47 L823.4 935.58 L824.4 935.71 L825.4 935.85 L826.4 936 L827.4 936.16 L828.4 936.33 L829.4 936.51 L830.4 936.69 L831.4 936.87 L832.4 937.06 L833.4 937.24 L834.4 937.42 L835.4 937.6 L836.4 937.77 L837.4 937.94 L838.4 938.09 L839.4 938.24 L840.4 938.37 L841.4 938.49 L842.4 938.59 L843.4 938.67 L844.4 938.74 L845.4 938.78 L846.4 938.8 L847.4 938.79 L848.4 938.77 L849.4 938.72 L850.4 938.66 L851.4 938.58 L852.4 938.48 L853.4 938.36 L854.4 938.23 L855.4 938.09 L856.4 937.93 L857.4 937.75 L858.4 937.57 L859.4 937.37 L860.4 937.17 L861.4 936.95 L862.4 936.73 L863.4 936.5 L864.4 936.26 L865.4 936.01 L866.4 935.76 L867.4 935.51 L868.4 935.25 L869.4 934.99 L870.4 934.73 L871.4 934.47 L872.4 934.21 L873.4 933.95 L874.4 933.69 L875.4 933.44 L876.4 933.19 L877.4 932.94 L878.4 932.7 L879.4 932.47 L880.4 932.24 L881.4 932.02 L882.4 931.81 L883.4 931.61 L884.4 931.42 L885.4 931.24 L886.4 931.08 L887.4 930.92 L888.4 930.79 L889.4 930.67 L890.4 930.56 L891.4 930.47 L892.4 930.4 L893.4 930.35 L894.4 930.31 L895.4 930.3 L896.4 930.31 L897.4 930.32 L898.4 930.35 L899.4 930.39 L900.4 930.44 L901.4 930.5 L902.4 930.57 L903.4 930.64 L904.4 930.73 L905.4 930.82 L906.4 930.92 L907.4 931.02 L908.4 931.13 L909.4 931.24 L910.4 931.36 L911.4 931.49 L912.4 931.61 L913.4 931.74 L914.4 931.87 L915.4 932 L916.4 932.13 L917.4 932.26 L918.4 932.39 L919.4 932.51 L920.4 932.64 L921.4 932.76 L922.4 932.88 L923.4 933 L924.4 933.11 L925.4 933.22 L926.4 933.32 L927.4 933.42 L928.4 933.51 L929.4 933.59 L930.4 933.66 L931.4 933.73 L932.4 933.78 L933.4 933.83 L934.4 933.86 L935.4 933.89 L936.4 933.9 L937.4 933.9 L938.4 933.9 L939.4 933.89 L940.4 933.87 L941.4 933.86 L942.4 933.84 L943.4 933.81 L944.4 933.78 L945.4 933.75 L946.4 933.71 L947.4 933.67 L948.4 933.62 L949.4 933.57 L950.4 933.51 L951.4 933.45 L952.4 933.39 L953.4 933.32 L954.4 933.25 L955.4 933.17 L956.4 933.09 L957.4 933.01 L958.4 932.92 L959.4 932.82 L960.4 932.73 L961.4 932.62 L962.4 932.52 L963.4 932.41 L964.4 932.29 L965.4 932.18 L966.4 932.05 L967.4 931.92 L968.4 931.79 L969.4 931.66 L970.4 931.52 L971.4 931.37 L972.4 931.23 L973.4 931.07 L974.4 930.92 L975.4 930.75 L976.4 930.59 L977.4 930.42 L978.4 930.25 L979.4 930.07 L980.4 929.89 L981.4 929.7 L982.4 929.51 L983.4 929.32 L984.4 929.12 L985.4 928.91 L986.4 928.71 L987.4 928.49 L988.3 928.3" stroke="#0072BD" stroke-width="2.4"/>
<path d="M178 923.7 L368 923.8 L369 923.74 L370 923.59 L371 923.36 L372 923.07 L373 922.74 L374 922.38 L375 922 L376 921.49 L377 920.76 L378 919.8 L379 918.63 L380 917.27 L381 915.73 L382 914.02 L383 912.17 L384 910.17 L385 908.04 L386 905.81 L387 903.47 L388 901.05 L389 898.56 L390 896 L391 893.41 L392 890.78 L393 888.13 L394 885.48 L395 882.84 L396 880.22 L397 877.63 L398 875.09 L399 872.62 L400 870.22 L401 867.92 L402 865.71 L403 863.62 L404 861.66 L405 859.85 L406 858.19 L407 856.7 L408 855.4 L409 854.29 L410 853.39 L411 852.72 L412 852.29 L413 852.11 L414 852.23 L415 852.75 L416 853.64 L417 854.9 L418 856.49 L419 858.4 L420 860.62 L421 863.11 L422 865.87 L423 868.87 L424 872.09 L425 875.52 L426 879.14 L427 882.92 L428 886.85 L429 890.91 L430 895.08 L431 899.33 L432 903.66 L433 908.04 L434 912.45 L435 916.88 L436 921.3 L437 925.69 L438 930.04 L439 934.33 L440 938.54 L441 942.64 L442 946.62 L443 950.47 L444 954.15 L445 957.66 L446 960.97 L447 964.06 L448 966.92 L449 969.52 L450 971.85 L451 973.88 L452 975.6 L453 977 L454 978.04 L455 978.71 L456 978.99 L457 978.88 L458 978.38 L459 977.53 L460 976.34 L461 974.84 L462 973.04 L463 970.96 L464 968.62 L465 966.05 L466 963.25 L467 960.26 L468 957.1 L469 953.77 L470 950.31 L471 946.73 L472 943.05 L473 939.3 L474 935.48 L475 931.63 L476 927.76 L477 923.9 L478 920.05 L479 916.25 L480 912.5 L481 908.84 L482 905.29 L483 901.85 L484 898.56 L485 895.42 L486 892.47 L487 889.72 L488 887.19 L489 884.91 L490 882.88 L491 881.14 L492 879.69 L493 878.57 L494 877.79 L495 877.37 L496 877.32 L497 877.59 L498 878.13 L499 878.94 L500 880 L501 881.29 L502 882.81 L503 884.53 L504 886.45 L505 888.55 L506 890.82 L507 893.23 L508 895.78 L509 898.46 L510 901.24 L511 904.12 L512 907.07 L513 910.1 L514 913.17 L515 916.28 L516 919.41 L517 922.56 L518 925.69 L519 928.81 L520 931.89 L521 934.93 L522 937.9 L523 940.79 L524 943.59 L525 946.29 L526 948.87 L527 951.31 L528 953.61 L529 955.74 L530 957.7 L531 959.46 L532 961.02 L533 962.36 L534 963.47 L535 964.33 L536 964.93 L537 965.25 L538 965.29 L539 965.12 L540 964.79 L541 964.3 L542 963.65 L543 962.86 L544 961.92 L545 960.86 L546 959.68 L547 958.39 L548 956.99 L549 955.5 L550 953.92 L551 952.26 L552 950.54 L553 948.75 L554 946.91 L555 945.02 L556 943.1 L557 941.15 L558 939.18 L559 937.2 L560 935.21 L561 933.23 L562 931.27 L563 929.33 L564 927.42 L565 925.55 L566 923.73 L567 921.97 L568 920.27 L569 918.64 L570 917.09 L571 915.64 L572 914.28 L573 913.03 L574 911.9 L575 910.89 L576 910.01 L577 909.27 L578 908.68 L579 908.25 L580 907.99 L581 907.9 L582 907.96 L583 908.15 L584 908.45 L585 908.86 L586 909.37 L587 909.98 L588 910.68 L589 911.47 L590 912.33 L591 913.26 L592 914.25 L593 915.31 L594 916.41 L595 917.57 L596 918.76 L597 919.98 L598 921.23 L599 922.5 L600 923.78 L601 925.07 L602 926.36 L603 927.65 L604 928.92 L605 930.17 L606 931.4 L607 932.6 L608 933.76 L609 934.87 L610 935.94 L611 936.95 L612 937.89 L613 938.77 L614 939.57 L615 940.28 L616 940.91 L617 941.45 L618 941.88 L619 942.2 L620 942.41 L621 942.5 L622 942.47 L623 942.35 L624 942.15 L625 941.87 L626 941.51 L627 941.09 L628 940.61 L629 940.07 L630 939.48 L631 938.85 L632 938.18 L633 937.48 L634 936.75 L635 936 L636 935.23 L637 934.46 L638 933.68 L639 932.9 L640 932.13 L641 931.37 L642 930.64 L643 929.93 L644 929.25 L645 928.6 L646 928 L647 927.45 L648 926.95 L649 926.51 L650 926.13 L651 925.83 L652 925.6 L653 925.46 L654 925.4 L655 925.43 L656 925.52 L657 925.67 L658 925.88 L659 926.15 L660 926.46 L661 926.82 L662 927.23 L663 927.68 L664 928.16 L665 928.68 L666 929.22 L667 929.79 L668 930.39 L669 931 L670 931.64 L671 932.28 L672 932.93 L673 933.59 L674 934.25 L675 934.9 L676 935.56 L677 936.2 L678 936.83 L679 937.45 L680 938.05 L681 938.62 L682 939.17 L683 939.69 L684 940.18 L685 940.63 L686 941.04 L687 941.41 L688 941.73 L689 941.99 L690 942.21 L691 942.37 L692 942.47 L693 942.5 L694 942.47 L695 942.37 L696 942.21 L697 941.99 L698 941.72 L699 941.39 L700 941.02 L701 940.61 L702 940.15 L703 939.66 L704 939.14 L705 938.59 L706 938.01 L707 937.42 L708 936.8 L709 936.17 L710 935.53 L711 934.89 L712 934.23 L713 933.58 L714 932.94 L715 932.3 L716 931.67 L717 931.06 L718 930.47 L719 929.9 L720 929.35 L721 928.84 L722 928.35 L723 927.91 L724 927.5 L725 927.14 L726 926.83 L727 926.56 L728 926.36 L729 926.21 L730 926.12 L731 926.1 L732 926.14 L733 926.24 L734 926.38 L735 926.58 L736 926.83 L737 927.12 L738 927.45 L739 927.83 L740 928.24 L741 928.69 L742 929.17 L743 929.68 L744 930.22 L745 930.78 L746 931.37 L747 931.97 L748 932.6 L749 933.24 L750 933.9 L751 934.56 L752 935.23 L753 935.91 L754 936.6 L755 937.28 L756 937.96 L757 938.64 L758 939.31 L759 939.97 L760 940.62 L761 941.25 L762 941.87 L763 942.47 L764 943.05 L765 943.6 L766 944.13 L767 944.63 L768 945.1 L769 945.53 L770 945.93 L771 946.29 L772 946.6 L773 946.88 L774 947.1 L775 947.28 L776 947.41 L777 947.48 L778 947.5 L779 947.47 L780 947.4 L781 947.3 L782 947.16 L783 946.98 L784 946.78 L785 946.54 L786 946.28 L787 945.99 L788 945.68 L789 945.35 L790 945 L791 944.63 L792 944.25 L793 943.85 L794 943.44 L795 943.02 L796 942.59 L797 942.16 L798 941.72 L799 941.28 L800 940.85 L801 940.41 L802 939.98 L803 939.55 L804 939.14 L805 938.73 L806 938.34 L807 937.96 L808 937.59 L809 937.25 L810 936.92 L811 936.62 L812 936.34 L813 936.08 L814 935.86 L815 935.66 L816 935.5 L817 935.37 L818 935.27 L819 935.22 L820 935.2 L821 935.22 L822 935.27 L823 935.34 L824 935.44 L825 935.57 L826 935.72 L827 935.9 L828 936.09 L829 936.31 L830 936.55 L831 936.8 L832 937.07 L833 937.36 L834 937.66 L835 937.97 L836 938.29 L837 938.63 L838 938.97 L839 939.32 L840 939.68 L841 940.05 L842 940.41 L843 940.78 L844 941.16 L845 941.53 L846 941.9 L847 942.27 L848 942.64 L849 943 L850 943.35 L851 943.7 L852 944.04 L853 944.37 L854 944.69 L855 945 L856 945.29 L857 945.57 L858 945.83 L859 946.07 L860 946.3 L861 946.51 L862 946.69 L863 946.86 L864 947 L865 947.11 L866 947.2 L867 947.26 L868 947.29 L869 947.3 L870 947.29 L871 947.26 L872 947.22 L873 947.16 L874 947.1 L875 947.03 L876 946.95 L877 946.86 L878 946.77 L879 946.67 L880 946.57 L881 946.46 L882 946.36 L883 946.25 L884 946.14 L885 946.04 L886 945.94 L887 945.85 L888 945.76 L889 945.68 L890 945.61 L891 945.54 L892 945.49 L893 945.45 L894 945.42 L895 945.4 L896 945.4 L897 945.41 L898 945.42 L899 945.44 L900 945.47 L901 945.5 L902 945.54 L903 945.59 L904 945.64 L905 945.69 L906 945.75 L907 945.82 L908 945.89 L909 945.96 L910 946.04 L911 946.12 L912 946.21 L913 946.3 L914 946.39 L915 946.49 L916 946.59 L917 946.69 L918 946.79 L919 946.89 L920 947 L921 947.11 L922 947.22 L923 947.33 L924 947.44 L925 947.55 L926 947.67 L927 947.78 L928 947.89 L929 948 L930 948.11 L931 948.22 L932 948.33 L933 948.44 L934 948.55 L935 948.66 L936 948.76 L937 948.86 L938 948.96 L939 949.06 L940 949.15 L941 949.24 L942 949.33 L943 949.41 L944 949.5 L945 949.58 L946 949.67 L947 949.76 L948 949.84 L949 949.93 L950 950.02 L951 950.1 L952 950.19 L953 950.28 L954 950.37 L955 950.45 L956 950.54 L957 950.63 L958 950.71 L959 950.8 L960 950.89 L961 950.98 L962 951.07 L963 951.15 L964 951.24 L965 951.33 L966 951.42 L967 951.51 L968 951.59 L969 951.68 L970 951.77 L971 951.86 L972 951.95 L973 952.04 L974 952.12 L975 952.21 L976 952.3 L977 952.39 L978 952.48 L979 952.57 L980 952.66 L981 952.75 L982 952.84 L983 952.93 L984 953.01 L985 953.1 L986 953.19 L987 953.28 L988 953.37 L988.3 953.4" stroke="#D95319" stroke-width="2.4"/>
<path d="M178 978.6 L365.4 1003.9 L366.4 1004.05 L367.4 1004.2 L368.4 1004.34 L369.4 1004.48 L370.4 1004.62 L371.4 1004.74 L372.4 1004.86 L373.4 1004.96 L374.4 1005.05 L375.4 1005.12 L376.4 1005.17 L377.4 1005.19 L378.4 1005.2 L379.4 1005.2 L380.4 1005.2 L381.4 1005.2 L382.4 1005.2 L383.4 1005.2 L384.4 1005.2 L385.4 1005.2 L386.4 1005.2 L387.4 1005.2 L388.4 1005.2 L389.4 1005.2 L390.4 1005.2 L391.4 1005.2 L392.4 1005.2 L393.4 1005.2 L394.4 1005.25 L395.4 1005.4 L396.4 1005.65 L397.4 1005.99 L398.4 1006.42 L399.4 1006.93 L400.4 1007.52 L401.4 1008.18 L402.4 1008.91 L403.4 1009.71 L404.4 1010.57 L405.4 1011.49 L406.4 1012.46 L407.4 1013.48 L408.4 1014.54 L409.4 1015.64 L410.4 1016.78 L411.4 1017.94 L412.4 1019.14 L413.4 1020.36 L414.4 1021.59 L415.4 1022.84 L416.4 1024.1 L417.4 1025.36 L418.4 1026.62 L419.4 1027.88 L420.4 1029.14 L421.4 1030.38 L422.4 1031.6 L423.4 1032.8 L424.4 1033.98 L425.4 1035.12 L426.4 1036.24 L427.4 1037.31 L428.4 1038.34 L429.4 1039.33 L430.4 1040.26 L431.4 1041.14 L432.4 1041.95 L433.4 1042.71 L434.4 1043.39 L435.4 1044 L436.4 1044.54 L437.4 1044.99 L438.4 1045.36 L439.4 1045.63 L440.4 1045.81 L441.4 1045.9 L442.4 1045.84 L443.4 1045.58 L444.4 1045.1 L445.4 1044.42 L446.4 1043.54 L447.4 1042.48 L448.4 1041.24 L449.4 1039.83 L450.4 1038.27 L451.4 1036.56 L452.4 1034.71 L453.4 1032.73 L454.4 1030.63 L455.4 1028.42 L456.4 1026.11 L457.4 1023.7 L458.4 1021.21 L459.4 1018.65 L460.4 1016.02 L461.4 1013.33 L462.4 1010.6 L463.4 1007.83 L464.4 1005.03 L465.4 1002.21 L466.4 999.38 L467.4 996.55 L468.4 993.73 L469.4 990.93 L470.4 988.15 L471.4 985.41 L472.4 982.71 L473.4 980.07 L474.4 977.49 L475.4 974.99 L476.4 972.57 L477.4 970.23 L478.4 968 L479.4 965.88 L480.4 963.87 L481.4 962 L482.4 960.26 L483.4 958.67 L484.4 957.23 L485.4 955.96 L486.4 954.86 L487.4 953.95 L488.4 953.22 L489.4 952.7 L490.4 952.39 L491.4 952.3 L492.4 952.45 L493.4 952.83 L494.4 953.44 L495.4 954.27 L496.4 955.3 L497.4 956.53 L498.4 957.95 L499.4 959.55 L500.4 961.31 L501.4 963.23 L502.4 965.31 L503.4 967.52 L504.4 969.86 L505.4 972.32 L506.4 974.89 L507.4 977.56 L508.4 980.33 L509.4 983.17 L510.4 986.08 L511.4 989.06 L512.4 992.08 L513.4 995.15 L514.4 998.25 L515.4 1001.37 L516.4 1004.51 L517.4 1007.65 L518.4 1010.78 L519.4 1013.89 L520.4 1016.98 L521.4 1020.03 L522.4 1023.04 L523.4 1025.99 L524.4 1028.88 L525.4 1031.69 L526.4 1034.42 L527.4 1037.05 L528.4 1039.58 L529.4 1041.99 L530.4 1044.28 L531.4 1046.44 L532.4 1048.45 L533.4 1050.31 L534.4 1052.01 L535.4 1053.54 L536.4 1054.89 L537.4 1056.04 L538.4 1056.99 L539.4 1057.73 L540.4 1058.25 L541.4 1058.54 L542.4 1058.59 L543.4 1058.49 L544.4 1058.28 L545.4 1057.94 L546.4 1057.5 L547.4 1056.95 L548.4 1056.3 L549.4 1055.56 L550.4 1054.73 L551.4 1053.81 L552.4 1052.81 L553.4 1051.74 L554.4 1050.6 L555.4 1049.4 L556.4 1048.14 L557.4 1046.82 L558.4 1045.46 L559.4 1044.05 L560.4 1042.6 L561.4 1041.12 L562.4 1039.61 L563.4 1038.08 L564.4 1036.53 L565.4 1034.97 L566.4 1033.39 L567.4 1031.82 L568.4 1030.25 L569.4 1028.68 L570.4 1027.13 L571.4 1025.59 L572.4 1024.08 L573.4 1022.59 L574.4 1021.14 L575.4 1019.72 L576.4 1018.35 L577.4 1017.02 L578.4 1015.75 L579.4 1014.53 L580.4 1013.38 L581.4 1012.29 L582.4 1011.28 L583.4 1010.35 L584.4 1009.5 L585.4 1008.74 L586.4 1008.07 L587.4 1007.5 L588.4 1007.04 L589.4 1006.68 L590.4 1006.44 L591.4 1006.32 L592.4 1006.3 L593.4 1006.34 L594.4 1006.42 L595.4 1006.54 L596.4 1006.69 L597.4 1006.87 L598.4 1007.09 L599.4 1007.35 L600.4 1007.63 L601.4 1007.95 L602.4 1008.3 L603.4 1008.67 L604.4 1009.07 L605.4 1009.5 L606.4 1009.96 L607.4 1010.44 L608.4 1010.94 L609.4 1011.47 L610.4 1012.01 L611.4 1012.58 L612.4 1013.17 L613.4 1013.77 L614.4 1014.39 L615.4 1015.03 L616.4 1015.69 L617.4 1016.35 L618.4 1017.03 L619.4 1017.73 L620.4 1018.43 L621.4 1019.14 L622.4 1019.86 L623.4 1020.59 L624.4 1021.33 L625.4 1022.07 L626.4 1022.82 L627.4 1023.57 L628.4 1024.32 L629.4 1025.07 L630.4 1025.83 L631.4 1026.58 L632.4 1027.33 L633.4 1028.08 L634.4 1028.83 L635.4 1029.57 L636.4 1030.3 L637.4 1031.03 L638.4 1031.74 L639.4 1032.45 L640.4 1033.15 L641.4 1033.84 L642.4 1034.52 L643.4 1035.18 L644.4 1035.82 L645.4 1036.46 L646.4 1037.07 L647.4 1037.67 L648.4 1038.25 L649.4 1038.81 L650.4 1039.35 L651.4 1039.86 L652.4 1040.36 L653.4 1040.83 L654.4 1041.27 L655.4 1041.69 L656.4 1042.08 L657.4 1042.45 L658.4 1042.78 L659.4 1043.08 L660.4 1043.36 L661.4 1043.6 L662.4 1043.8 L663.4 1043.98 L664.4 1044.11 L665.4 1044.21 L666.4 1044.28 L667.4 1044.3 L668.4 1044.29 L669.4 1044.26 L670.4 1044.2 L671.4 1044.12 L672.4 1044.01 L673.4 1043.89 L674.4 1043.75 L675.4 1043.58 L676.4 1043.4 L677.4 1043.21 L678.4 1042.99 L679.4 1042.76 L680.4 1042.52 L681.4 1042.26 L682.4 1042 L683.4 1041.72 L684.4 1041.43 L685.4 1041.13 L686.4 1040.82 L687.4 1040.5 L688.4 1040.18 L689.4 1039.85 L690.4 1039.52 L691.4 1039.19 L692.4 1038.85 L693.4 1038.51 L694.4 1038.17 L695.4 1037.82 L696.4 1037.48 L697.4 1037.15 L698.4 1036.81 L699.4 1036.48 L700.4 1036.15 L701.4 1035.83 L702.4 1035.52 L703.4 1035.21 L704.4 1034.91 L705.4 1034.63 L706.4 1034.35 L707.4 1034.08 L708.4 1033.83 L709.4 1033.59 L710.4 1033.36 L711.4 1033.15 L712.4 1032.96 L713.4 1032.78 L714.4 1032.62 L715.4 1032.48 L716.4 1032.36 L717.4 1032.27 L718.4 1032.19 L719.4 1032.14 L720.4 1032.11 L721.4 1032.1 L722.4 1032.13 L723.4 1032.2 L724.4 1032.31 L725.4 1032.44 L726.4 1032.62 L727.4 1032.82 L728.4 1033.06 L729.4 1033.32 L730.4 1033.61 L731.4 1033.93 L732.4 1034.27 L733.4 1034.64 L734.4 1035.02 L735.4 1035.43 L736.4 1035.86 L737.4 1036.3 L738.4 1036.76 L739.4 1037.24 L740.4 1037.73 L741.4 1038.23 L742.4 1038.74 L743.4 1039.26 L744.4 1039.79 L745.4 1040.33 L746.4 1040.87 L747.4 1041.41 L748.4 1041.95 L749.4 1042.5 L750.4 1043.05 L751.4 1043.59 L752.4 1044.13 L753.4 1044.66 L754.4 1045.19 L755.4 1045.71 L756.4 1046.22 L757.4 1046.72 L758.4 1047.21 L759.4 1047.68 L760.4 1048.14 L761.4 1048.58 L762.4 1049.01 L763.4 1049.42 L764.4 1049.8 L765.4 1050.16 L766.4 1050.5 L767.4 1050.82 L768.4 1051.11 L769.4 1051.37 L770.4 1051.6 L771.4 1051.8 L772.4 1051.97 L773.4 1052.11 L774.4 1052.21 L775.4 1052.27 L776.4 1052.3 L777.4 1052.29 L778.4 1052.26 L779.4 1052.21 L780.4 1052.14 L781.4 1052.04 L782.4 1051.93 L783.4 1051.8 L784.4 1051.66 L785.4 1051.5 L786.4 1051.32 L787.4 1051.13 L788.4 1050.93 L789.4 1050.72 L790.4 1050.5 L791.4 1050.27 L792.4 1050.03 L793.4 1049.79 L794.4 1049.54 L795.4 1049.29 L796.4 1049.03 L797.4 1048.77 L798.4 1048.51 L799.4 1048.25 L800.4 1047.99 L801.4 1047.74 L802.4 1047.48 L803.4 1047.24 L804.4 1047 L805.4 1046.76 L806.4 1046.53 L807.4 1046.31 L808.4 1046.11 L809.4 1045.91 L810.4 1045.72 L811.4 1045.55 L812.4 1045.4 L813.4 1045.26 L814.4 1045.13 L815.4 1045.03 L816.4 1044.94 L817.4 1044.87 L818.4 1044.83 L819.4 1044.8 L820.4 1044.8 L821.4 1044.84 L822.4 1044.91 L823.4 1045.01 L824.4 1045.14 L825.4 1045.3 L826.4 1045.48 L827.4 1045.69 L828.4 1045.92 L829.4 1046.16 L830.4 1046.43 L831.4 1046.71 L832.4 1047 L833.4 1047.3 L834.4 1047.61 L835.4 1047.93 L836.4 1048.25 L837.4 1048.58 L838.4 1048.9 L839.4 1049.23 L840.4 1049.54 L841.4 1049.86 L842.4 1050.16 L843.4 1050.46 L844.4 1050.74 L845.4 1051.01 L846.4 1051.26 L847.4 1051.49 L848.4 1051.71 L849.4 1051.9 L850.4 1052.07 L851.4 1052.23 L852.4 1052.4 L853.4 1052.57 L854.4 1052.74 L855.4 1052.91 L856.4 1053.08 L857.4 1053.25 L858.4 1053.42 L859.4 1053.59 L860.4 1053.75 L861.4 1053.91 L862.4 1054.07 L863.4 1054.23 L864.4 1054.38 L865.4 1054.53 L866.4 1054.67 L867.4 1054.8 L868.4 1054.93 L869.4 1055.06 L870.4 1055.17 L871.4 1055.28 L872.4 1055.38 L873.4 1055.47 L874.4 1055.55 L875.4 1055.62 L876.4 1055.68 L877.4 1055.73 L878.4 1055.76 L879.4 1055.79 L880.4 1055.8 L881.4 1055.8 L882.4 1055.8 L883.4 1055.8 L884.4 1055.8 L885.4 1055.8 L886.4 1055.8 L887.4 1055.8 L888.4 1055.8 L889.4 1055.8 L890.4 1055.8 L891.4 1055.8 L892.4 1055.8 L893.4 1055.8 L894.4 1055.8 L895.4 1055.8 L896.4 1055.8 L897.4 1055.8 L898.4 1055.8 L899.4 1055.8 L900.4 1055.8 L901.4 1055.8 L902.4 1055.8 L903.4 1055.8 L904.4 1055.8 L905.4 1055.8 L906.4 1055.8 L907.4 1055.8 L908.4 1055.8 L909.4 1055.8 L910.4 1055.8 L911.4 1055.8 L912.4 1055.8 L913.4 1055.8 L914.4 1055.8 L915.4 1055.8 L916.4 1055.8 L917.4 1055.8 L918.4 1055.8 L919.4 1055.8 L920.4 1055.8 L921.4 1055.8 L922.4 1055.8 L923.4 1055.8 L924.4 1055.8 L925.4 1055.8 L926.4 1055.8 L927.4 1055.8 L928.4 1055.8 L929.4 1055.8 L930.4 1055.8 L931.4 1055.81 L932.4 1055.82 L933.4 1055.84 L934.4 1055.86 L935.4 1055.88 L936.4 1055.91 L937.4 1055.95 L938.4 1055.99 L939.4 1056.03 L940.4 1056.08 L941.4 1056.14 L942.4 1056.19 L943.4 1056.25 L944.4 1056.32 L945.4 1056.39 L946.4 1056.46 L947.4 1056.54 L948.4 1056.62 L949.4 1056.7 L950.4 1056.79 L951.4 1056.88 L952.4 1056.98 L953.4 1057.07 L954.4 1057.17 L955.4 1057.28 L956.4 1057.39 L957.4 1057.5 L958.4 1057.61 L959.4 1057.72 L960.4 1057.84 L961.4 1057.96 L962.4 1058.09 L963.4 1058.21 L964.4 1058.34 L965.4 1058.47 L966.4 1058.6 L967.4 1058.74 L968.4 1058.88 L969.4 1059.01 L970.4 1059.15 L971.4 1059.3 L972.4 1059.44 L973.4 1059.59 L974.4 1059.74 L975.4 1059.88 L976.4 1060.03 L977.4 1060.19 L978.4 1060.34 L979.4 1060.49 L980.4 1060.65 L981.4 1060.8 L982.4 1060.96 L983.4 1061.12 L984.4 1061.28 L985.4 1061.44 L986.4 1061.6 L987.4 1061.76 L988.3 1061.9" stroke="#EDB120" stroke-width="2.4"/>
<path d="M178 1067.7 L385.8 1067.7 L386.8 1064.3 L387.8 1061.04 L388.8 1057.91 L389.8 1054.92 L390.8 1052.05 L391.8 1049.32 L392.8 1046.7 L393.8 1044.21 L394.8 1041.84 L395.8 1039.59 L396.8 1037.46 L397.8 1035.44 L398.8 1033.52 L399.8 1031.72 L400.8 1030.03 L401.8 1028.43 L402.8 1026.94 L403.8 1025.55 L404.8 1024.26 L405.8 1023.06 L406.8 1021.95 L407.8 1020.93 L408.8 1020 L409.8 1019.15 L410.8 1018.39 L411.8 1017.71 L412.8 1017.11 L413.8 1016.58 L414.8 1016.12 L415.8 1015.74 L416.8 1015.43 L417.8 1015.18 L418.8 1014.99 L419.8 1014.87 L420.8 1014.81 L421.8 1014.81 L422.8 1014.98 L423.8 1015.32 L424.8 1015.84 L425.8 1016.54 L426.8 1017.4 L427.8 1018.42 L428.8 1019.6 L429.8 1020.93 L430.8 1022.42 L431.8 1024.05 L432.8 1025.83 L433.8 1027.74 L434.8 1029.78 L435.8 1031.96 L436.8 1034.26 L437.8 1036.68 L438.8 1039.22 L439.8 1041.88 L440.8 1044.64 L441.8 1047.5 L442.8 1050.47 L443.8 1053.53 L444.8 1056.69 L445.8 1059.93 L446.8 1063.26 L447.8 1066.66 L448.1 1067.7 L512.9 1067.7 L513.9 1066.19 L514.9 1064.73 L515.9 1063.31 L516.9 1061.95 L517.9 1060.63 L518.9 1059.36 L519.9 1058.13 L520.9 1056.95 L521.9 1055.82 L522.9 1054.73 L523.9 1053.68 L524.9 1052.68 L525.9 1051.73 L526.9 1050.82 L527.9 1049.95 L528.9 1049.13 L529.9 1048.35 L530.9 1047.61 L531.9 1046.92 L532.9 1046.27 L533.9 1045.66 L534.9 1045.09 L535.9 1044.56 L536.9 1044.07 L537.9 1043.63 L538.9 1043.22 L539.9 1042.86 L540.9 1042.53 L541.9 1042.24 L542.9 1041.99 L543.9 1041.78 L544.9 1041.61 L545.9 1041.48 L546.9 1041.38 L547.9 1041.32 L548.9 1041.3 L549.9 1041.34 L550.9 1041.46 L551.9 1041.67 L552.9 1041.95 L553.9 1042.3 L554.9 1042.72 L555.9 1043.19 L556.9 1043.71 L557.9 1044.29 L558.9 1044.9 L559.9 1045.54 L560.9 1046.21 L561.9 1046.91 L562.9 1047.62 L563.9 1048.34 L564.9 1049.06 L565.9 1049.79 L566.9 1050.5 L567.9 1051.2 L568.9 1051.88 L569.9 1052.54 L570.9 1053.18 L571.9 1053.84 L572.9 1054.51 L573.9 1055.2 L574.9 1055.91 L575.9 1056.63 L576.9 1057.37 L577.9 1058.12 L578.9 1058.88 L579.9 1059.65 L580.9 1060.44 L581.9 1061.24 L582.9 1062.06 L583.9 1062.88 L584.9 1063.72 L585.9 1064.57 L586.9 1065.42 L587.9 1066.29 L588.9 1067.17 L589.5 1067.7 L621.2 1067.7 L622.2 1066.53 L623.2 1065.38 L624.2 1064.25 L625.2 1063.14 L626.2 1062.04 L627.2 1060.96 L628.2 1059.9 L629.2 1058.86 L630.2 1057.84 L631.2 1056.85 L632.2 1055.87 L633.2 1054.92 L634.2 1054 L635.2 1053.09 L636.2 1052.22 L637.2 1051.36 L638.2 1050.54 L639.2 1049.74 L640.2 1048.97 L641.2 1048.22 L642.2 1047.51 L643.2 1046.83 L644.2 1046.17 L645.2 1045.55 L646.2 1044.96 L647.2 1044.4 L648.2 1043.88 L649.2 1043.39 L650.2 1042.93 L651.2 1042.51 L652.2 1042.13 L653.2 1041.78 L654.2 1041.47 L655.2 1041.2 L656.2 1040.96 L657.2 1040.77 L658.2 1040.62 L659.2 1040.5 L660.2 1040.43 L661.2 1040.4 L662.2 1040.42 L663.2 1040.48 L664.2 1040.59 L665.2 1040.75 L666.2 1040.94 L667.2 1041.18 L668.2 1041.46 L669.2 1041.77 L670.2 1042.11 L671.2 1042.49 L672.2 1042.9 L673.2 1043.34 L674.2 1043.8 L675.2 1044.28 L676.2 1044.78 L677.2 1045.31 L678.2 1045.85 L679.2 1046.4 L680.2 1046.97 L681.2 1047.55 L682.2 1048.14 L683.2 1048.73 L684.2 1049.33 L685.2 1049.93 L686.2 1050.53 L687.2 1051.13 L688.2 1051.72 L689.2 1052.31 L690.2 1052.88 L691.2 1053.45 L692.2 1054.01 L693.2 1054.55 L694.2 1055.07 L695.2 1055.57 L696.2 1056.05 L697.2 1056.51 L698.2 1056.94 L699.2 1057.35 L700.2 1057.72 L701.2 1058.06 L702.2 1058.37 L703.2 1058.64 L704.2 1058.88 L705.2 1059.07 L706.2 1059.22 L707.2 1059.33 L708.2 1059.39 L709.2 1059.4 L710.2 1059.38 L711.2 1059.34 L712.2 1059.28 L713.2 1059.2 L714.2 1059.1 L715.2 1058.98 L716.2 1058.84 L717.2 1058.68 L718.2 1058.51 L719.2 1058.32 L720.2 1058.11 L721.2 1057.89 L722.2 1057.65 L723.2 1057.4 L724.2 1057.14 L725.2 1056.87 L726.2 1056.58 L727.2 1056.28 L728.2 1055.98 L729.2 1055.66 L730.2 1055.33 L731.2 1055 L732.2 1054.66 L733.2 1054.31 L734.2 1053.96 L735.2 1053.6 L736.2 1053.23 L737.2 1052.86 L738.2 1052.49 L739.2 1052.11 L740.2 1051.74 L741.2 1051.36 L742.2 1050.98 L743.2 1050.6 L744.2 1050.22 L745.2 1049.85 L746.2 1049.47 L747.2 1049.1 L748.2 1048.73 L749.2 1048.37 L750.2 1048.01 L751.2 1047.66 L752.2 1047.31 L753.2 1046.97 L754.2 1046.63 L755.2 1046.31 L756.2 1045.99 L757.2 1045.69 L758.2 1045.39 L759.2 1045.11 L760.2 1044.83 L761.2 1044.57 L762.2 1044.32 L763.2 1044.09 L764.2 1043.87 L765.2 1043.66 L766.2 1043.48 L767.2 1043.3 L768.2 1043.15 L769.2 1043.01 L770.2 1042.89 L771.2 1042.79 L772.2 1042.71 L773.2 1042.65 L774.2 1042.62 L775.2 1042.6 L776.2 1042.6 L777.2 1042.61 L778.2 1042.63 L779.2 1042.65 L780.2 1042.68 L781.2 1042.72 L782.2 1042.76 L783.2 1042.81 L784.2 1042.86 L785.2 1042.92 L786.2 1042.98 L787.2 1043.05 L788.2 1043.12 L789.2 1043.2 L790.2 1043.27 L791.2 1043.36 L792.2 1043.44 L793.2 1043.53 L794.2 1043.62 L795.2 1043.71 L796.2 1043.8 L797.2 1043.9 L798.2 1044 L799.2 1044.09 L800.2 1044.19 L801.2 1044.29 L802.2 1044.39 L803.2 1044.49 L804.2 1044.58 L805.2 1044.68 L806.2 1044.78 L807.2 1044.87 L808.2 1044.96 L809.2 1045.05 L810.2 1045.14 L811.2 1045.23 L812.2 1045.31 L813.2 1045.39 L814.2 1045.47 L815.2 1045.54 L816.2 1045.61 L817.2 1045.67 L818.2 1045.73 L819.2 1045.78 L820.2 1045.83 L821.2 1045.87 L822.2 1045.91 L823.2 1045.94 L824.2 1045.97 L825.2 1045.99 L826.2 1046 L827.2 1046 L828.2 1045.99 L829.2 1045.97 L830.2 1045.93 L831.2 1045.87 L832.2 1045.8 L833.2 1045.71 L834.2 1045.62 L835.2 1045.5 L836.2 1045.38 L837.2 1045.24 L838.2 1045.09 L839.2 1044.93 L840.2 1044.76 L841.2 1044.58 L842.2 1044.39 L843.2 1044.19 L844.2 1043.98 L845.2 1043.76 L846.2 1043.54 L847.2 1043.3 L848.2 1043.07 L849.2 1042.82 L850.2 1042.57 L851.2 1042.31 L852.2 1042.05 L853.2 1041.79 L854.2 1041.52 L855.2 1041.25 L856.2 1040.98 L857.2 1040.7 L858.2 1040.43 L859.2 1040.15 L860.2 1039.87 L861.2 1039.59 L862.2 1039.32 L863.2 1039.04 L864.2 1038.77 L865.2 1038.49 L866.2 1038.22 L867.2 1037.96 L868.2 1037.69 L869.2 1037.43 L870.2 1037.18 L871.2 1036.93 L872.2 1036.69 L873.2 1036.45 L874.2 1036.22 L875.2 1036 L876.2 1035.78 L877.2 1035.57 L878.2 1035.37 L879.2 1035.18 L880.2 1035.01 L881.2 1034.84 L882.2 1034.68 L883.2 1034.53 L884.2 1034.4 L885.2 1034.27 L886.2 1034.16 L887.2 1034.07 L888.2 1033.99 L889.2 1033.92 L890.2 1033.86 L891.2 1033.83 L892.2 1033.81 L893.2 1033.8 L894.2 1033.81 L895.2 1033.82 L896.2 1033.85 L897.2 1033.88 L898.2 1033.92 L899.2 1033.97 L900.2 1034.02 L901.2 1034.09 L902.2 1034.15 L903.2 1034.22 L904.2 1034.3 L905.2 1034.38 L906.2 1034.47 L907.2 1034.55 L908.2 1034.64 L909.2 1034.74 L910.2 1034.83 L911.2 1034.93 L912.2 1035.02 L913.2 1035.12 L914.2 1035.21 L915.2 1035.31 L916.2 1035.4 L917.2 1035.49 L918.2 1035.58 L919.2 1035.67 L920.2 1035.75 L921.2 1035.83 L922.2 1035.91 L923.2 1035.98 L924.2 1036.04 L925.2 1036.1 L926.2 1036.15 L927.2 1036.2 L928.2 1036.23 L929.2 1036.26 L930.2 1036.28 L931.2 1036.3 L932.2 1036.3 L933.2 1036.29 L934.2 1036.28 L935.2 1036.26 L936.2 1036.24 L937.2 1036.2 L938.2 1036.16 L939.2 1036.11 L940.2 1036.06 L941.2 1036 L942.2 1035.93 L943.2 1035.85 L944.2 1035.77 L945.2 1035.68 L946.2 1035.59 L947.2 1035.49 L948.2 1035.38 L949.2 1035.26 L950.2 1035.14 L951.2 1035.02 L952.2 1034.88 L953.2 1034.74 L954.2 1034.6 L955.2 1034.45 L956.2 1034.29 L957.2 1034.13 L958.2 1033.96 L959.2 1033.79 L960.2 1033.61 L961.2 1033.42 L962.2 1033.23 L963.2 1033.03 L964.2 1032.83 L965.2 1032.62 L966.2 1032.41 L967.2 1032.19 L968.2 1031.97 L969.2 1031.74 L970.2 1031.51 L971.2 1031.27 L972.2 1031.03 L973.2 1030.78 L974.2 1030.53 L975.2 1030.27 L976.2 1030.01 L977.2 1029.74 L978.2 1029.47 L979.2 1029.2 L980.2 1028.92 L981.2 1028.63 L982.2 1028.35 L983.2 1028.05 L984.2 1027.76 L985.2 1027.46 L986.2 1027.15 L987.2 1026.84 L988.2 1026.53 L988.3 1026.5" stroke="#D95319" stroke-width="2.4"/>
</g>
<path d="M176.9 1235.5H988.3M176.9 1414.8H988.3M178 1235.5V1414.8" fill="none" stroke="#1a1a1a" stroke-width="2.2"/>
<path d="M987.8 1234.4V1415.9" fill="none" stroke="#262626" stroke-width="2.8"/>
<path d="M489.65 1414.8V1405.3M489.65 1235.5V1245M801 1414.8V1405.3M801 1235.5V1245M178 1235.5H187.5M988.3 1235.5H978.8M178 1370H187.5M988.3 1370H978.8" stroke="#1a1a1a" stroke-width="2" fill="none"/>
<g clip-path="url(#cd)" fill="none" stroke-linejoin="round" stroke-linecap="round">
<path d="M178 1351.6 L365.3 1351.7 L366.3 1354.3 L367.3 1356.83 L368.3 1359.26 L369.3 1361.57 L370.3 1363.74 L371.3 1365.73 L372.3 1367.53 L373.3 1369.34 L374.3 1371.21 L375.3 1373.07 L376.3 1374.88 L377.3 1376.6 L378.3 1378.18 L379.3 1379.57 L380.3 1380.73 L381.3 1381.6 L382.3 1382.14 L383.3 1382.3 L384.3 1382.06 L385.3 1381.45 L386.3 1380.55 L387.3 1379.4 L388.3 1378.07 L389.3 1376.61 L390.3 1375.08 L391.3 1373.52 L392.3 1371.66 L393.3 1369.43 L394.3 1366.87 L395.3 1364.03 L396.3 1360.94 L397.3 1357.66 L398.3 1354.23 L399.3 1350.68 L400.3 1346.88 L401.3 1342.42 L402.3 1337.47 L403.3 1332.23 L404.3 1326.89 L405.3 1321.67 L406.3 1316.75 L407.3 1312.32 L408.3 1308.09 L409.3 1303.98 L410.3 1299.98 L411.3 1296.15 L412.3 1292.5 L413.3 1289.05 L414.3 1285.81 L415.3 1282.56 L416.3 1279.36 L417.3 1276.4 L418.3 1273.82 L419.3 1271.81 L420.3 1270.37 L421.3 1269.05 L422.3 1267.92 L423.3 1267.09 L424.3 1266.71 L425.3 1266.86 L426.3 1267.44 L427.3 1268.3 L428.3 1269.72 L429.3 1272.2 L430.3 1281.78 L431.3 1290.99 L432.3 1299.77 L433.3 1308.09 L434.3 1315.89 L435.3 1323.26 L436.3 1330.26 L437.3 1336.96 L438.3 1343.39 L439.3 1349.6 L440.3 1355.83 L441.3 1362.15 L442.3 1368.41 L443.3 1374.43 L444.3 1380.06 L445.3 1385.13 L446.3 1389.48 L447.3 1392.98 L448.3 1396.26 L449.3 1399.49 L450.3 1402.6 L451.3 1405.49 L452.3 1408.1 L453.3 1410.35 L454.3 1412.15 L455.3 1413.43 L456.3 1414.11 L457.3 1414.15 L458.3 1413.71 L459.3 1412.88 L460.3 1411.65 L461.3 1410.06 L462.3 1408.13 L463.3 1405.88 L464.3 1403.33 L465.3 1400.51 L466.3 1397.43 L467.3 1394.13 L468.3 1390.62 L469.3 1386.92 L470.3 1383.06 L471.3 1379.05 L472.3 1374.93 L473.3 1370.72 L474.3 1366.43 L475.3 1362.08 L476.3 1357.71 L477.3 1353.34 L478.3 1348.97 L479.3 1344.65 L480.3 1340.39 L481.3 1336.21 L482.3 1332.13 L483.3 1328.18 L484.3 1324.38 L485.3 1320.76 L486.3 1317.32 L487.3 1314.11 L488.3 1311.13 L489.3 1308.42 L490.3 1305.98 L491.3 1303.86 L492.3 1302.06 L493.3 1300.61 L494.3 1299.54 L495.3 1298.86 L496.3 1298.6 L497.3 1298.74 L498.3 1299.21 L499.3 1299.99 L500.3 1301.06 L501.3 1302.41 L502.3 1304.02 L503.3 1305.86 L504.3 1307.93 L505.3 1310.19 L506.3 1312.65 L507.3 1315.26 L508.3 1318.02 L509.3 1320.91 L510.3 1323.91 L511.3 1327 L512.3 1330.17 L513.3 1333.39 L514.3 1336.64 L515.3 1339.91 L516.3 1343.18 L517.3 1346.44 L518.3 1349.65 L519.3 1352.81 L520.3 1355.89 L521.3 1358.88 L522.3 1361.76 L523.3 1364.51 L524.3 1367.11 L525.3 1369.54 L526.3 1371.79 L527.3 1373.83 L528.3 1375.66 L529.3 1377.24 L530.3 1378.56 L531.3 1379.61 L532.3 1380.36 L533.3 1380.79 L534.3 1380.9 L535.3 1380.78 L536.3 1380.51 L537.3 1380.09 L538.3 1379.52 L539.3 1378.82 L540.3 1377.99 L541.3 1377.04 L542.3 1375.98 L543.3 1374.82 L544.3 1373.56 L545.3 1372.21 L546.3 1370.78 L547.3 1369.27 L548.3 1367.7 L549.3 1366.07 L550.3 1364.39 L551.3 1362.66 L552.3 1360.9 L553.3 1359.12 L554.3 1357.31 L555.3 1355.49 L556.3 1353.66 L557.3 1351.84 L558.3 1350.03 L559.3 1348.23 L560.3 1346.46 L561.3 1344.73 L562.3 1343.03 L563.3 1341.38 L564.3 1339.79 L565.3 1338.27 L566.3 1336.81 L567.3 1335.44 L568.3 1334.15 L569.3 1332.96 L570.3 1331.86 L571.3 1330.88 L572.3 1330.02 L573.3 1329.28 L574.3 1328.67 L575.3 1328.2 L576.3 1327.88 L577.3 1327.72 L578.3 1327.72 L579.3 1327.86 L580.3 1328.14 L581.3 1328.55 L582.3 1329.08 L583.3 1329.73 L584.3 1330.49 L585.3 1331.35 L586.3 1332.31 L587.3 1333.35 L588.3 1334.47 L589.3 1335.67 L590.3 1336.94 L591.3 1338.27 L592.3 1339.65 L593.3 1341.07 L594.3 1342.54 L595.3 1344.04 L596.3 1345.56 L597.3 1347.1 L598.3 1348.66 L599.3 1350.22 L600.3 1351.78 L601.3 1353.32 L602.3 1354.86 L603.3 1356.37 L604.3 1357.85 L605.3 1359.29 L606.3 1360.69 L607.3 1362.04 L608.3 1363.33 L609.3 1364.56 L610.3 1365.71 L611.3 1366.79 L612.3 1367.78 L613.3 1368.68 L614.3 1369.48 L615.3 1370.17 L616.3 1370.75 L617.3 1371.21 L618.3 1371.54 L619.3 1371.74 L620.3 1371.8 L621.3 1371.7 L622.3 1371.45 L623.3 1371.05 L624.3 1370.51 L625.3 1369.84 L626.3 1369.05 L627.3 1368.15 L628.3 1367.15 L629.3 1366.05 L630.3 1364.87 L631.3 1363.61 L632.3 1362.28 L633.3 1360.9 L634.3 1359.46 L635.3 1357.98 L636.3 1356.47 L637.3 1354.94 L638.3 1353.39 L639.3 1351.83 L640.3 1350.28 L641.3 1348.74 L642.3 1347.22 L643.3 1345.73 L644.3 1344.27 L645.3 1342.87 L646.3 1341.51 L647.3 1340.23 L648.3 1339.01 L649.3 1337.88 L650.3 1336.84 L651.3 1335.89 L652.3 1335.06 L653.3 1334.34 L654.3 1333.75 L655.3 1333.29 L656.3 1332.98 L657.3 1332.82 L658.3 1332.81 L659.3 1332.93 L660.3 1333.15 L661.3 1333.47 L662.3 1333.9 L663.3 1334.41 L664.3 1335 L665.3 1335.68 L666.3 1336.43 L667.3 1337.24 L668.3 1338.12 L669.3 1339.05 L670.3 1340.03 L671.3 1341.05 L672.3 1342.12 L673.3 1343.21 L674.3 1344.33 L675.3 1345.47 L676.3 1346.62 L677.3 1347.78 L678.3 1348.95 L679.3 1350.11 L680.3 1351.26 L681.3 1352.4 L682.3 1353.51 L683.3 1354.6 L684.3 1355.65 L685.3 1356.67 L686.3 1357.64 L687.3 1358.56 L688.3 1359.43 L689.3 1360.23 L690.3 1360.96 L691.3 1361.62 L692.3 1362.2 L693.3 1362.7 L694.3 1363.1 L695.3 1363.4 L696.3 1363.6 L697.3 1363.69 L698.3 1363.68 L699.3 1363.59 L700.3 1363.43 L701.3 1363.21 L702.3 1362.92 L703.3 1362.57 L704.3 1362.17 L705.3 1361.72 L706.3 1361.22 L707.3 1360.67 L708.3 1360.09 L709.3 1359.47 L710.3 1358.82 L711.3 1358.13 L712.3 1357.43 L713.3 1356.7 L714.3 1355.95 L715.3 1355.19 L716.3 1354.42 L717.3 1353.65 L718.3 1352.87 L719.3 1352.09 L720.3 1351.31 L721.3 1350.55 L722.3 1349.8 L723.3 1349.06 L724.3 1348.35 L725.3 1347.65 L726.3 1346.99 L727.3 1346.35 L728.3 1345.75 L729.3 1345.19 L730.3 1344.67 L731.3 1344.2 L732.3 1343.78 L733.3 1343.41 L734.3 1343.1 L735.3 1342.85 L736.3 1342.66 L737.3 1342.55 L738.3 1342.5 L739.3 1342.52 L740.3 1342.6 L741.3 1342.72 L742.3 1342.9 L743.3 1343.12 L744.3 1343.38 L745.3 1343.68 L746.3 1344.02 L747.3 1344.39 L748.3 1344.79 L749.3 1345.22 L750.3 1345.68 L751.3 1346.16 L752.3 1346.66 L753.3 1347.17 L754.3 1347.7 L755.3 1348.25 L756.3 1348.8 L757.3 1349.36 L758.3 1349.92 L759.3 1350.48 L760.3 1351.04 L761.3 1351.59 L762.3 1352.13 L763.3 1352.67 L764.3 1353.19 L765.3 1353.69 L766.3 1354.18 L767.3 1354.64 L768.3 1355.08 L769.3 1355.49 L770.3 1355.87 L771.3 1356.22 L772.3 1356.54 L773.3 1356.81 L774.3 1357.04 L775.3 1357.23 L776.3 1357.37 L777.3 1357.46 L778.3 1357.5 L779.3 1357.49 L780.3 1357.43 L781.3 1357.34 L782.3 1357.22 L783.3 1357.06 L784.3 1356.86 L785.3 1356.64 L786.3 1356.39 L787.3 1356.12 L788.3 1355.82 L789.3 1355.5 L790.3 1355.16 L791.3 1354.81 L792.3 1354.43 L793.3 1354.05 L794.3 1353.65 L795.3 1353.25 L796.3 1352.84 L797.3 1352.42 L798.3 1352 L799.3 1351.59 L800.3 1351.17 L801.3 1350.76 L802.3 1350.35 L803.3 1349.95 L804.3 1349.56 L805.3 1349.18 L806.3 1348.81 L807.3 1348.47 L808.3 1348.14 L809.3 1347.83 L810.3 1347.54 L811.3 1347.28 L812.3 1347.04 L813.3 1346.84 L814.3 1346.66 L815.3 1346.52 L816.3 1346.41 L817.3 1346.33 L818.3 1346.3 L819.3 1346.31 L820.3 1346.35 L821.3 1346.41 L822.3 1346.51 L823.3 1346.63 L824.3 1346.78 L825.3 1346.95 L826.3 1347.14 L827.3 1347.35 L828.3 1347.58 L829.3 1347.82 L830.3 1348.08 L831.3 1348.36 L832.3 1348.64 L833.3 1348.94 L834.3 1349.24 L835.3 1349.55 L836.3 1349.86 L837.3 1350.18 L838.3 1350.5 L839.3 1350.82 L840.3 1351.14 L841.3 1351.45 L842.3 1351.76 L843.3 1352.06 L844.3 1352.36 L845.3 1352.64 L846.3 1352.92 L847.3 1353.18 L848.3 1353.42 L849.3 1353.65 L850.3 1353.86 L851.3 1354.05 L852.3 1354.22 L853.3 1354.37 L854.3 1354.49 L855.3 1354.59 L856.3 1354.65 L857.3 1354.69 L858.3 1354.7 L859.3 1354.68 L860.3 1354.64 L861.3 1354.58 L862.3 1354.5 L863.3 1354.41 L864.3 1354.3 L865.3 1354.17 L866.3 1354.02 L867.3 1353.87 L868.3 1353.7 L869.3 1353.52 L870.3 1353.33 L871.3 1353.13 L872.3 1352.92 L873.3 1352.71 L874.3 1352.49 L875.3 1352.26 L876.3 1352.03 L877.3 1351.8 L878.3 1351.57 L879.3 1351.34 L880.3 1351.11 L881.3 1350.88 L882.3 1350.66 L883.3 1350.44 L884.3 1350.22 L885.3 1350.01 L886.3 1349.81 L887.3 1349.62 L888.3 1349.44 L889.3 1349.27 L890.3 1349.11 L891.3 1348.96 L892.3 1348.83 L893.3 1348.71 L894.3 1348.61 L895.3 1348.53 L896.3 1348.47 L897.3 1348.42 L898.3 1348.4 L899.3 1348.4 L900.3 1348.42 L901.3 1348.46 L902.3 1348.51 L903.3 1348.57 L904.3 1348.65 L905.3 1348.75 L906.3 1348.85 L907.3 1348.97 L908.3 1349.1 L909.3 1349.24 L910.3 1349.38 L911.3 1349.54 L912.3 1349.7 L913.3 1349.86 L914.3 1350.04 L915.3 1350.21 L916.3 1350.39 L917.3 1350.57 L918.3 1350.76 L919.3 1350.94 L920.3 1351.13 L921.3 1351.31 L922.3 1351.49 L923.3 1351.66 L924.3 1351.84 L925.3 1352 L926.3 1352.16 L927.3 1352.32 L928.3 1352.46 L929.3 1352.6 L930.3 1352.73 L931.3 1352.85 L932.3 1352.95 L933.3 1353.05 L934.3 1353.13 L935.3 1353.19 L936.3 1353.24 L937.3 1353.28 L938.3 1353.3 L939.3 1353.3 L940.3 1353.29 L941.3 1353.27 L942.3 1353.24 L943.3 1353.2 L944.3 1353.15 L945.3 1353.1 L946.3 1353.04 L947.3 1352.97 L948.3 1352.9 L949.3 1352.81 L950.3 1352.73 L951.3 1352.64 L952.3 1352.54 L953.3 1352.45 L954.3 1352.35 L955.3 1352.24 L956.3 1352.14 L957.3 1352.03 L958.3 1351.92 L959.3 1351.81 L960.3 1351.7 L961.3 1351.59 L962.3 1351.49 L963.3 1351.38 L964.3 1351.27 L965.3 1351.17 L966.3 1351.07 L967.3 1350.98 L968.3 1350.89 L969.3 1350.8 L970.3 1350.72 L971.3 1350.64 L972.3 1350.58 L973.3 1350.51 L974.3 1350.46 L975.3 1350.41 L976.3 1350.37 L977.3 1350.34 L978.3 1350.31 L979.3 1350.3 L980.3 1350.3 L981.3 1350.31 L982.3 1350.32 L983.3 1350.34 L984.3 1350.36 L985.3 1350.39 L986.3 1350.42 L987.3 1350.46 L988.3 1350.5" stroke="#0072BD" stroke-width="2.4"/>
</g>
<path d="M176.9 1579.3H988.3M176.9 1794.3H988.3M178 1579.3V1794.3" fill="none" stroke="#1a1a1a" stroke-width="2.2"/>
<path d="M987.8 1578.2V1795.4" fill="none" stroke="#262626" stroke-width="2.8"/>
<path d="M489.65 1794.3V1784.8M489.65 1579.3V1588.8M801 1794.3V1784.8M801 1579.3V1588.8M178 1597.3H187.5M988.3 1597.3H978.8M178 1660.9H187.5M988.3 1660.9H978.8M178 1724.2H187.5M988.3 1724.2H978.8M178 1787.6H187.5M988.3 1787.6H978.8" stroke="#1a1a1a" stroke-width="2" fill="none"/>
<g clip-path="url(#ce)" fill="none" stroke-linejoin="round" stroke-linecap="round">
<path d="M178 1660.6 L365.3 1660.6 L366.3 1655.61 L367.3 1650.84 L368.3 1646.31 L369.3 1641.99 L370.3 1637.91 L371.3 1634.05 L372.3 1630.43 L373.3 1627.03 L374.3 1623.86 L375.3 1620.92 L376.3 1618.22 L377.3 1615.74 L378.3 1613.5 L379.3 1611.49 L380.3 1609.72 L381.3 1608.18 L382.3 1606.87 L383.3 1605.8 L384.3 1604.97 L385.3 1604.38 L386.3 1604.02 L387.3 1603.9 L388.3 1604.01 L389.3 1604.35 L390.3 1604.91 L391.3 1605.7 L392.3 1606.71 L393.3 1607.95 L394.3 1609.41 L395.3 1611.1 L396.3 1613.02 L397.3 1615.16 L398.3 1617.53 L399.3 1620.12 L400.3 1622.95 L401.3 1625.99 L402.3 1629.27 L403.3 1632.77 L404.3 1636.5 L405.3 1640.46 L406.3 1644.65 L407.3 1649.06 L408.3 1653.71 L409.3 1658.58 L410.3 1663.68 L411.3 1669.01 L412.3 1674.57 L413.3 1680.35 L414.3 1686.37 L415.3 1692.62 L416.3 1699.09 L417.3 1705.8 L418.3 1712.74 L419.3 1719.9 L420.3 1727.3 L421.3 1734.93 L422.3 1742.79 L423.3 1750.88 L424.3 1759.2 L425.3 1767.75 L426.3 1776.53 L427.3 1785.55 L428 1792 L429 1786.24 L430 1780.48 L431 1774.72 L432 1768.97 L433 1763.21 L434 1757.45 L435 1751.69 L436 1745.93 L437 1740.17 L438 1734.41 L439 1728.66 L440 1722.9 L441 1717.14 L442 1711.38 L443 1705.62 L444 1699.86 L445 1694.1 L446 1688.34 L447 1682.59 L448 1676.83 L448.3 1675.1 L449.3 1672.36 L450.3 1669.64 L451.3 1666.93 L452.3 1664.24 L453.3 1661.56 L454.3 1658.91 L455.3 1656.27 L456.3 1653.65 L457.3 1651.04 L458.3 1648.46 L459.3 1645.9 L460.3 1643.36 L461.3 1640.84 L462.3 1638.35 L463.3 1635.87 L464.3 1633.42 L465.3 1631 L466.3 1628.51 L467.3 1625.88 L468.3 1623.13 L469.3 1620.28 L470.3 1617.37 L471.3 1614.41 L472.3 1611.42 L473.3 1608.43 L474.3 1605.47 L475.3 1602.55 L476.3 1599.7 L477.3 1596.95 L478.3 1594.31 L479.3 1591.81 L480.3 1589.48 L481.3 1587.33 L482.3 1585.39 L483.3 1583.69 L484.3 1582.24 L485.3 1581.08 L486.3 1580.22 L487.3 1579.68 L488.3 1579.5 L489.3 1579.63 L490.3 1580.02 L491.3 1580.66 L492.3 1581.53 L493.3 1582.63 L494.3 1583.96 L495.3 1585.49 L496.3 1587.22 L497.3 1589.15 L498.3 1591.26 L499.3 1593.55 L500.3 1595.99 L501.3 1598.6 L502.3 1601.35 L503.3 1604.23 L504.3 1607.25 L505.3 1610.38 L506.3 1613.62 L507.3 1616.96 L508.3 1620.39 L509.3 1623.9 L510.3 1627.49 L511.3 1631.13 L512.3 1634.83 L513.3 1638.58 L514.3 1642.36 L515.3 1646.16 L516.3 1649.99 L517.3 1653.82 L518.3 1657.64 L519.3 1661.46 L520.3 1665.26 L521.3 1669.03 L522.3 1672.75 L523.3 1676.43 L524.3 1680.06 L525.3 1683.61 L526.3 1687.09 L527.3 1690.49 L528.3 1693.79 L529.3 1696.99 L530.3 1700.07 L531.3 1703.04 L532.3 1705.87 L533.3 1708.56 L534.3 1711.1 L535.3 1713.49 L536.3 1715.7 L537.3 1717.74 L538.3 1719.59 L539.3 1721.25 L540.3 1722.7 L541.3 1723.94 L542.3 1724.95 L543.3 1725.73 L544.3 1726.27 L545.3 1726.55 L546.3 1726.58 L547.3 1726.39 L548.3 1725.98 L549.3 1725.37 L550.3 1724.57 L551.3 1723.58 L552.3 1722.42 L553.3 1721.08 L554.3 1719.59 L555.3 1717.94 L556.3 1716.15 L557.3 1714.22 L558.3 1712.16 L559.3 1709.99 L560.3 1707.7 L561.3 1705.31 L562.3 1702.82 L563.3 1700.25 L564.3 1697.6 L565.3 1694.88 L566.3 1692.09 L567.3 1689.25 L568.3 1686.37 L569.3 1683.45 L570.3 1680.5 L571.3 1677.53 L572.3 1674.54 L573.3 1671.56 L574.3 1668.57 L575.3 1665.6 L576.3 1662.64 L577.3 1659.72 L578.3 1656.83 L579.3 1653.99 L580.3 1651.2 L581.3 1648.47 L582.3 1645.81 L583.3 1643.23 L584.3 1640.74 L585.3 1638.34 L586.3 1636.04 L587.3 1633.85 L588.3 1631.78 L589.3 1629.84 L590.3 1628.03 L591.3 1626.37 L592.3 1624.86 L593.3 1623.51 L594.3 1622.33 L595.3 1621.32 L596.3 1620.5 L597.3 1619.87 L598.3 1619.44 L599.3 1619.23 L600.3 1619.22 L601.3 1619.33 L602.3 1619.56 L603.3 1619.89 L604.3 1620.31 L605.3 1620.82 L606.3 1621.4 L607.3 1622.06 L608.3 1622.77 L609.3 1623.54 L610.3 1624.35 L611.3 1625.19 L612.3 1626.07 L613.3 1626.96 L614.3 1627.87 L615.3 1628.77 L616.3 1629.68 L617.3 1630.56 L618.3 1631.45 L619.3 1632.44 L620.3 1633.56 L621.3 1634.78 L622.3 1636.12 L623.3 1637.55 L624.3 1639.07 L625.3 1640.68 L626.3 1642.36 L627.3 1644.12 L628.3 1645.94 L629.3 1647.81 L630.3 1649.73 L631.3 1651.7 L632.3 1653.7 L633.3 1655.72 L634.3 1657.77 L635.3 1659.83 L636.3 1661.89 L637.3 1663.96 L638.3 1666.01 L639.3 1668.06 L640.3 1670.07 L641.3 1672.06 L642.3 1674.01 L643.3 1675.92 L644.3 1677.78 L645.3 1679.57 L646.3 1681.31 L647.3 1682.97 L648.3 1684.55 L649.3 1686.04 L650.3 1687.44 L651.3 1688.74 L652.3 1689.93 L653.3 1691 L654.3 1691.96 L655.3 1692.78 L656.3 1693.46 L657.3 1694.01 L658.3 1694.4 L659.3 1694.63 L660.3 1694.7 L661.3 1694.64 L662.3 1694.48 L663.3 1694.23 L664.3 1693.89 L665.3 1693.45 L666.3 1692.94 L667.3 1692.35 L668.3 1691.68 L669.3 1690.93 L670.3 1690.12 L671.3 1689.24 L672.3 1688.3 L673.3 1687.3 L674.3 1686.24 L675.3 1685.13 L676.3 1683.98 L677.3 1682.78 L678.3 1681.54 L679.3 1680.26 L680.3 1678.95 L681.3 1677.6 L682.3 1676.23 L683.3 1674.84 L684.3 1673.43 L685.3 1672 L686.3 1670.56 L687.3 1669.11 L688.3 1667.65 L689.3 1666.19 L690.3 1664.74 L691.3 1663.29 L692.3 1661.84 L693.3 1660.41 L694.3 1659 L695.3 1657.6 L696.3 1656.23 L697.3 1654.89 L698.3 1653.57 L699.3 1652.29 L700.3 1651.04 L701.3 1649.84 L702.3 1648.68 L703.3 1647.57 L704.3 1646.51 L705.3 1645.5 L706.3 1644.55 L707.3 1643.67 L708.3 1642.85 L709.3 1642.1 L710.3 1641.42 L711.3 1640.82 L712.3 1640.29 L713.3 1639.85 L714.3 1639.5 L715.3 1639.24 L716.3 1639.07 L717.3 1639 L718.3 1639.02 L719.3 1639.12 L720.3 1639.29 L721.3 1639.53 L722.3 1639.83 L723.3 1640.2 L724.3 1640.63 L725.3 1641.11 L726.3 1641.65 L727.3 1642.24 L728.3 1642.88 L729.3 1643.56 L730.3 1644.29 L731.3 1645.06 L732.3 1645.87 L733.3 1646.71 L734.3 1647.58 L735.3 1648.49 L736.3 1649.42 L737.3 1650.37 L738.3 1651.34 L739.3 1652.33 L740.3 1653.33 L741.3 1654.35 L742.3 1655.38 L743.3 1656.41 L744.3 1657.44 L745.3 1658.48 L746.3 1659.51 L747.3 1660.54 L748.3 1661.56 L749.3 1662.57 L750.3 1663.57 L751.3 1664.55 L752.3 1665.51 L753.3 1666.44 L754.3 1667.36 L755.3 1668.24 L756.3 1669.1 L757.3 1669.92 L758.3 1670.7 L759.3 1671.45 L760.3 1672.15 L761.3 1672.81 L762.3 1673.42 L763.3 1673.98 L764.3 1674.49 L765.3 1674.94 L766.3 1675.33 L767.3 1675.66 L768.3 1675.92 L769.3 1676.12 L770.3 1676.25 L771.3 1676.3 L772.3 1676.29 L773.3 1676.23 L774.3 1676.12 L775.3 1675.97 L776.3 1675.79 L777.3 1675.56 L778.3 1675.3 L779.3 1675 L780.3 1674.66 L781.3 1674.3 L782.3 1673.9 L783.3 1673.47 L784.3 1673.02 L785.3 1672.54 L786.3 1672.04 L787.3 1671.51 L788.3 1670.96 L789.3 1670.4 L790.3 1669.81 L791.3 1669.21 L792.3 1668.6 L793.3 1667.97 L794.3 1667.34 L795.3 1666.69 L796.3 1666.04 L797.3 1665.38 L798.3 1664.72 L799.3 1664.05 L800.3 1663.38 L801.3 1662.72 L802.3 1662.06 L803.3 1661.4 L804.3 1660.74 L805.3 1660.1 L806.3 1659.46 L807.3 1658.84 L808.3 1658.23 L809.3 1657.63 L810.3 1657.05 L811.3 1656.48 L812.3 1655.94 L813.3 1655.41 L814.3 1654.91 L815.3 1654.43 L816.3 1653.98 L817.3 1653.56 L818.3 1653.17 L819.3 1652.8 L820.3 1652.47 L821.3 1652.18 L822.3 1651.91 L823.3 1651.69 L824.3 1651.51 L825.3 1651.37 L826.3 1651.27 L827.3 1651.21 L828.3 1651.2 L829.3 1651.23 L830.3 1651.28 L831.3 1651.37 L832.3 1651.48 L833.3 1651.62 L834.3 1651.78 L835.3 1651.97 L836.3 1652.19 L837.3 1652.43 L838.3 1652.68 L839.3 1652.96 L840.3 1653.26 L841.3 1653.57 L842.3 1653.91 L843.3 1654.25 L844.3 1654.62 L845.3 1654.99 L846.3 1655.38 L847.3 1655.78 L848.3 1656.19 L849.3 1656.61 L850.3 1657.04 L851.3 1657.47 L852.3 1657.91 L853.3 1658.36 L854.3 1658.8 L855.3 1659.25 L856.3 1659.7 L857.3 1660.16 L858.3 1660.61 L859.3 1661.06 L860.3 1661.5 L861.3 1661.94 L862.3 1662.38 L863.3 1662.8 L864.3 1663.23 L865.3 1663.64 L866.3 1664.04 L867.3 1664.43 L868.3 1664.81 L869.3 1665.17 L870.3 1665.53 L871.3 1665.86 L872.3 1666.18 L873.3 1666.48 L874.3 1666.76 L875.3 1667.02 L876.3 1667.27 L877.3 1667.48 L878.3 1667.68 L879.3 1667.85 L880.3 1668 L881.3 1668.11 L882.3 1668.2 L883.3 1668.26 L884.3 1668.3 L885.3 1668.3 L886.3 1668.27 L887.3 1668.22 L888.3 1668.15 L889.3 1668.06 L890.3 1667.95 L891.3 1667.81 L892.3 1667.66 L893.3 1667.49 L894.3 1667.3 L895.3 1667.1 L896.3 1666.88 L897.3 1666.64 L898.3 1666.39 L899.3 1666.13 L900.3 1665.86 L901.3 1665.58 L902.3 1665.29 L903.3 1664.99 L904.3 1664.68 L905.3 1664.36 L906.3 1664.04 L907.3 1663.71 L908.3 1663.38 L909.3 1663.04 L910.3 1662.71 L911.3 1662.37 L912.3 1662.03 L913.3 1661.69 L914.3 1661.36 L915.3 1661.02 L916.3 1660.69 L917.3 1660.36 L918.3 1660.04 L919.3 1659.72 L920.3 1659.41 L921.3 1659.11 L922.3 1658.82 L923.3 1658.54 L924.3 1658.27 L925.3 1658.01 L926.3 1657.76 L927.3 1657.52 L928.3 1657.3 L929.3 1657.1 L930.3 1656.91 L931.3 1656.74 L932.3 1656.59 L933.3 1656.45 L934.3 1656.34 L935.3 1656.25 L936.3 1656.18 L937.3 1656.13 L938.3 1656.1 L939.3 1656.1 L940.3 1656.11 L941.3 1656.11 L942.3 1656.13 L943.3 1656.15 L944.3 1656.17 L945.3 1656.2 L946.3 1656.24 L947.3 1656.28 L948.3 1656.32 L949.3 1656.37 L950.3 1656.43 L951.3 1656.49 L952.3 1656.56 L953.3 1656.63 L954.3 1656.71 L955.3 1656.8 L956.3 1656.89 L957.3 1656.98 L958.3 1657.09 L959.3 1657.2 L960.3 1657.31 L961.3 1657.43 L962.3 1657.56 L963.3 1657.7 L964.3 1657.84 L965.3 1657.99 L966.3 1658.14 L967.3 1658.3 L968.3 1658.47 L969.3 1658.65 L970.3 1658.83 L971.3 1659.02 L972.3 1659.22 L973.3 1659.42 L974.3 1659.63 L975.3 1659.85 L976.3 1660.08 L977.3 1660.31 L978.3 1660.55 L979.3 1660.8 L980.3 1661.06 L981.3 1661.32 L982.3 1661.59 L983.3 1661.87 L984.3 1662.16 L985.3 1662.46 L986.3 1662.76 L987.3 1663.08 L988.3 1663.4" stroke="#0072BD" stroke-width="2.4"/>
</g>
<path d="M176.9 1971.5H988.3M176.9 2186.6H988.3M178 1971.5V2186.6" fill="none" stroke="#1a1a1a" stroke-width="2.2"/>
<path d="M987.8 1970.4V2187.7" fill="none" stroke="#262626" stroke-width="2.8"/>
<path d="M489.65 2186.6V2177.1M489.65 1971.5V1981M801 2186.6V2177.1M801 1971.5V1981M178 1978H187.5M988.3 1978H978.8M178 2042H187.5M988.3 2042H978.8M178 2105.5H187.5M988.3 2105.5H978.8M178 2168.8H187.5M988.3 2168.8H978.8" stroke="#1a1a1a" stroke-width="2" fill="none"/>
<g clip-path="url(#cf)" fill="none" stroke-linejoin="round" stroke-linecap="round">
<path d="M178 2105.6 L365.3 2105.8 L366.3 2111.28 L367.3 2116.43 L368.3 2121.28 L369.3 2125.83 L370.3 2130.07 L371.3 2134.02 L372.3 2137.69 L373.3 2141.07 L374.3 2144.18 L375.3 2147.02 L376.3 2149.6 L377.3 2151.92 L378.3 2154 L379.3 2155.82 L380.3 2157.42 L381.3 2158.77 L382.3 2159.91 L383.3 2160.82 L384.3 2161.52 L385.3 2162.01 L386.3 2162.3 L387.3 2162.4 L388.3 2162.13 L389.3 2161.36 L390.3 2160.15 L391.3 2158.55 L392.3 2156.61 L393.3 2154.4 L394.3 2151.97 L395.3 2149.38 L396.3 2146.67 L397.3 2143.35 L398.3 2138.77 L399.3 2133.26 L400.3 2127.13 L401.3 2120.71 L402.3 2114.3 L403.3 2108.19 L404.3 2101.98 L405.3 2095.53 L406.3 2088.91 L407.3 2082.2 L408.3 2075.46 L409.3 2068.76 L410.3 2062.18 L411.3 2055.73 L412.3 2049.21 L413.3 2042.66 L414.3 2036.15 L415.3 2029.75 L416.3 2023.53 L417.3 2017.56 L418.3 2011.88 L419.3 2006.24 L420.3 2000.61 L421.3 1995.17 L422.3 1990.09 L423.3 1985.53 L424.3 1981.67 L425.3 1978.48 L426.3 1975.67 L427.3 1973.3 L428.2 1971.6 L429.2 1977.8 L430.2 1983.94 L431.2 1990.02 L432.2 1996.02 L433.2 2001.95 L434.2 2007.8 L435.2 2013.57 L436.2 2019.16 L437.2 2024.54 L438.2 2029.8 L439.2 2035.03 L440.2 2040.3 L441.2 2045.69 L442.2 2051.28 L443.2 2057.15 L444.2 2063.39 L445.2 2070 L446.2 2076.92 L447.2 2084.09 L448.2 2091.46 L448.3 2092.2 L449.3 2094.62 L450.3 2097.04 L451.3 2099.46 L452.3 2101.87 L453.3 2104.28 L454.3 2106.68 L455.3 2109.08 L456.3 2111.48 L457.3 2113.88 L458.3 2116.27 L459.3 2118.66 L460.3 2121.04 L461.3 2123.42 L462.3 2125.8 L463.3 2128.17 L464.3 2130.54 L465.3 2132.9 L466.3 2135.36 L467.3 2137.98 L468.3 2140.75 L469.3 2143.64 L470.3 2146.62 L471.3 2149.66 L472.3 2152.75 L473.3 2155.85 L474.3 2158.94 L475.3 2161.99 L476.3 2164.98 L477.3 2167.87 L478.3 2170.66 L479.3 2173.3 L480.3 2175.77 L481.3 2178.05 L482.3 2180.11 L483.3 2181.92 L484.3 2183.47 L485.3 2184.71 L486.3 2185.63 L487.3 2186.2 L488.3 2186.4 L489.3 2186.27 L490.3 2185.88 L491.3 2185.24 L492.3 2184.37 L493.3 2183.26 L494.3 2181.94 L495.3 2180.4 L496.3 2178.66 L497.3 2176.73 L498.3 2174.61 L499.3 2172.33 L500.3 2169.87 L501.3 2167.26 L502.3 2164.51 L503.3 2161.62 L504.3 2158.6 L505.3 2155.46 L506.3 2152.21 L507.3 2148.87 L508.3 2145.43 L509.3 2141.91 L510.3 2138.32 L511.3 2134.66 L512.3 2130.95 L513.3 2127.2 L514.3 2123.41 L515.3 2119.6 L516.3 2115.77 L517.3 2111.93 L518.3 2108.1 L519.3 2104.27 L520.3 2100.47 L521.3 2096.69 L522.3 2092.96 L523.3 2089.27 L524.3 2085.64 L525.3 2082.07 L526.3 2078.59 L527.3 2075.18 L528.3 2071.88 L529.3 2068.67 L530.3 2065.58 L531.3 2062.61 L532.3 2059.77 L533.3 2057.07 L534.3 2054.53 L535.3 2052.14 L536.3 2049.92 L537.3 2047.88 L538.3 2046.02 L539.3 2044.36 L540.3 2042.91 L541.3 2041.67 L542.3 2040.66 L543.3 2039.87 L544.3 2039.33 L545.3 2039.05 L546.3 2039.02 L547.3 2039.21 L548.3 2039.62 L549.3 2040.23 L550.3 2041.03 L551.3 2042.02 L552.3 2043.18 L553.3 2044.52 L554.3 2046.01 L555.3 2047.66 L556.3 2049.45 L557.3 2051.38 L558.3 2053.44 L559.3 2055.61 L560.3 2057.9 L561.3 2060.29 L562.3 2062.78 L563.3 2065.35 L564.3 2068 L565.3 2070.72 L566.3 2073.51 L567.3 2076.35 L568.3 2079.23 L569.3 2082.15 L570.3 2085.1 L571.3 2088.07 L572.3 2091.06 L573.3 2094.04 L574.3 2097.03 L575.3 2100 L576.3 2102.96 L577.3 2105.88 L578.3 2108.77 L579.3 2111.61 L580.3 2114.4 L581.3 2117.13 L582.3 2119.79 L583.3 2122.37 L584.3 2124.86 L585.3 2127.26 L586.3 2129.56 L587.3 2131.75 L588.3 2133.82 L589.3 2135.76 L590.3 2137.57 L591.3 2139.23 L592.3 2140.74 L593.3 2142.09 L594.3 2143.27 L595.3 2144.28 L596.3 2145.1 L597.3 2145.73 L598.3 2146.16 L599.3 2146.37 L600.3 2146.39 L601.3 2146.29 L602.3 2146.1 L603.3 2145.83 L604.3 2145.47 L605.3 2145.05 L606.3 2144.56 L607.3 2144.01 L608.3 2143.41 L609.3 2142.76 L610.3 2142.07 L611.3 2141.35 L612.3 2140.6 L613.3 2139.83 L614.3 2139.05 L615.3 2138.26 L616.3 2137.47 L617.3 2136.69 L618.3 2135.9 L619.3 2134.98 L620.3 2133.94 L621.3 2132.77 L622.3 2131.48 L623.3 2130.09 L624.3 2128.59 L625.3 2127 L626.3 2125.32 L627.3 2123.56 L628.3 2121.74 L629.3 2119.85 L630.3 2117.9 L631.3 2115.9 L632.3 2113.87 L633.3 2111.8 L634.3 2109.71 L635.3 2107.59 L636.3 2105.47 L637.3 2103.35 L638.3 2101.23 L639.3 2099.12 L640.3 2097.04 L641.3 2094.98 L642.3 2092.96 L643.3 2090.98 L644.3 2089.05 L645.3 2087.19 L646.3 2085.38 L647.3 2083.66 L648.3 2082.01 L649.3 2080.45 L650.3 2078.99 L651.3 2077.64 L652.3 2076.39 L653.3 2075.27 L654.3 2074.27 L655.3 2073.41 L656.3 2072.69 L657.3 2072.13 L658.3 2071.72 L659.3 2071.47 L660.3 2071.4 L661.3 2071.46 L662.3 2071.62 L663.3 2071.87 L664.3 2072.21 L665.3 2072.63 L666.3 2073.14 L667.3 2073.73 L668.3 2074.4 L669.3 2075.13 L670.3 2075.94 L671.3 2076.81 L672.3 2077.74 L673.3 2078.74 L674.3 2079.78 L675.3 2080.88 L676.3 2082.02 L677.3 2083.21 L678.3 2084.44 L679.3 2085.71 L680.3 2087.01 L681.3 2088.34 L682.3 2089.7 L683.3 2091.08 L684.3 2092.48 L685.3 2093.9 L686.3 2095.32 L687.3 2096.76 L688.3 2098.21 L689.3 2099.65 L690.3 2101.09 L691.3 2102.53 L692.3 2103.96 L693.3 2105.38 L694.3 2106.78 L695.3 2108.16 L696.3 2109.52 L697.3 2110.86 L698.3 2112.16 L699.3 2113.43 L700.3 2114.66 L701.3 2115.86 L702.3 2117.01 L703.3 2118.11 L704.3 2119.16 L705.3 2120.16 L706.3 2121.1 L707.3 2121.98 L708.3 2122.79 L709.3 2123.53 L710.3 2124.2 L711.3 2124.8 L712.3 2125.32 L713.3 2125.75 L714.3 2126.1 L715.3 2126.36 L716.3 2126.53 L717.3 2126.6 L718.3 2126.58 L719.3 2126.48 L720.3 2126.32 L721.3 2126.09 L722.3 2125.8 L723.3 2125.45 L724.3 2125.04 L725.3 2124.57 L726.3 2124.05 L727.3 2123.48 L728.3 2122.87 L729.3 2122.21 L730.3 2121.5 L731.3 2120.76 L732.3 2119.99 L733.3 2119.18 L734.3 2118.34 L735.3 2117.47 L736.3 2116.58 L737.3 2115.66 L738.3 2114.72 L739.3 2113.77 L740.3 2112.8 L741.3 2111.83 L742.3 2110.84 L743.3 2109.85 L744.3 2108.85 L745.3 2107.85 L746.3 2106.86 L747.3 2105.87 L748.3 2104.89 L749.3 2103.91 L750.3 2102.96 L751.3 2102.01 L752.3 2101.09 L753.3 2100.19 L754.3 2099.31 L755.3 2098.45 L756.3 2097.63 L757.3 2096.84 L758.3 2096.09 L759.3 2095.37 L760.3 2094.69 L761.3 2094.06 L762.3 2093.47 L763.3 2092.93 L764.3 2092.44 L765.3 2092.01 L766.3 2091.63 L767.3 2091.32 L768.3 2091.06 L769.3 2090.87 L770.3 2090.75 L771.3 2090.7 L772.3 2090.71 L773.3 2090.77 L774.3 2090.87 L775.3 2091.02 L776.3 2091.2 L777.3 2091.42 L778.3 2091.68 L779.3 2091.97 L780.3 2092.29 L781.3 2092.65 L782.3 2093.03 L783.3 2093.45 L784.3 2093.89 L785.3 2094.36 L786.3 2094.85 L787.3 2095.36 L788.3 2095.89 L789.3 2096.44 L790.3 2097.01 L791.3 2097.59 L792.3 2098.19 L793.3 2098.79 L794.3 2099.41 L795.3 2100.04 L796.3 2100.68 L797.3 2101.32 L798.3 2101.96 L799.3 2102.61 L800.3 2103.26 L801.3 2103.9 L802.3 2104.55 L803.3 2105.19 L804.3 2105.82 L805.3 2106.45 L806.3 2107.07 L807.3 2107.67 L808.3 2108.27 L809.3 2108.85 L810.3 2109.42 L811.3 2109.97 L812.3 2110.49 L813.3 2111 L814.3 2111.49 L815.3 2111.96 L816.3 2112.39 L817.3 2112.81 L818.3 2113.19 L819.3 2113.54 L820.3 2113.86 L821.3 2114.15 L822.3 2114.41 L823.3 2114.62 L824.3 2114.8 L825.3 2114.94 L826.3 2115.04 L827.3 2115.09 L828.3 2115.1 L829.3 2115.07 L830.3 2115.02 L831.3 2114.94 L832.3 2114.83 L833.3 2114.7 L834.3 2114.54 L835.3 2114.36 L836.3 2114.15 L837.3 2113.93 L838.3 2113.68 L839.3 2113.41 L840.3 2113.13 L841.3 2112.82 L842.3 2112.5 L843.3 2112.17 L844.3 2111.82 L845.3 2111.46 L846.3 2111.09 L847.3 2110.71 L848.3 2110.31 L849.3 2109.91 L850.3 2109.5 L851.3 2109.09 L852.3 2108.66 L853.3 2108.24 L854.3 2107.81 L855.3 2107.38 L856.3 2106.94 L857.3 2106.51 L858.3 2106.08 L859.3 2105.65 L860.3 2105.22 L861.3 2104.8 L862.3 2104.38 L863.3 2103.97 L864.3 2103.57 L865.3 2103.17 L866.3 2102.79 L867.3 2102.41 L868.3 2102.05 L869.3 2101.7 L870.3 2101.36 L871.3 2101.04 L872.3 2100.73 L873.3 2100.44 L874.3 2100.17 L875.3 2099.92 L876.3 2099.69 L877.3 2099.48 L878.3 2099.3 L879.3 2099.13 L880.3 2098.99 L881.3 2098.88 L882.3 2098.79 L883.3 2098.73 L884.3 2098.7 L885.3 2098.7 L886.3 2098.72 L887.3 2098.76 L888.3 2098.82 L889.3 2098.89 L890.3 2098.99 L891.3 2099.09 L892.3 2099.22 L893.3 2099.36 L894.3 2099.51 L895.3 2099.68 L896.3 2099.85 L897.3 2100.04 L898.3 2100.25 L899.3 2100.46 L900.3 2100.68 L901.3 2100.91 L902.3 2101.15 L903.3 2101.4 L904.3 2101.65 L905.3 2101.91 L906.3 2102.18 L907.3 2102.44 L908.3 2102.72 L909.3 2103 L910.3 2103.27 L911.3 2103.56 L912.3 2103.84 L913.3 2104.12 L914.3 2104.4 L915.3 2104.68 L916.3 2104.96 L917.3 2105.24 L918.3 2105.51 L919.3 2105.78 L920.3 2106.04 L921.3 2106.3 L922.3 2106.55 L923.3 2106.8 L924.3 2107.04 L925.3 2107.26 L926.3 2107.48 L927.3 2107.69 L928.3 2107.89 L929.3 2108.08 L930.3 2108.26 L931.3 2108.42 L932.3 2108.57 L933.3 2108.71 L934.3 2108.83 L935.3 2108.93 L936.3 2109.02 L937.3 2109.09 L938.3 2109.15 L939.3 2109.18 L940.3 2109.2 L941.3 2109.2 L942.3 2109.19 L943.3 2109.18 L944.3 2109.17 L945.3 2109.15 L946.3 2109.12 L947.3 2109.09 L948.3 2109.05 L949.3 2109.01 L950.3 2108.96 L951.3 2108.91 L952.3 2108.85 L953.3 2108.79 L954.3 2108.72 L955.3 2108.65 L956.3 2108.57 L957.3 2108.49 L958.3 2108.4 L959.3 2108.3 L960.3 2108.2 L961.3 2108.09 L962.3 2107.98 L963.3 2107.86 L964.3 2107.74 L965.3 2107.61 L966.3 2107.47 L967.3 2107.33 L968.3 2107.18 L969.3 2107.03 L970.3 2106.87 L971.3 2106.7 L972.3 2106.53 L973.3 2106.35 L974.3 2106.16 L975.3 2105.97 L976.3 2105.78 L977.3 2105.57 L978.3 2105.36 L979.3 2105.15 L980.3 2104.92 L981.3 2104.69 L982.3 2104.46 L983.3 2104.21 L984.3 2103.96 L985.3 2103.71 L986.3 2103.45 L987.3 2103.18 L988.3 2102.9" stroke="#0072BD" stroke-width="2.4"/>
</g>
<path d="M176.9 2341H988.3M176.9 2552.6H988.3M178 2341V2552.6" fill="none" stroke="#1a1a1a" stroke-width="2.2"/>
<path d="M987.8 2339.9V2553.7" fill="none" stroke="#262626" stroke-width="2.8"/>
<path d="M489.65 2552.6V2543.1M489.65 2341V2350.5M801 2552.6V2543.1M801 2341V2350.5M178 2370.2H187.5M178 2528.3H187.5M988.3 2346.3H978.8M988.3 2386.9H978.8M988.3 2427.6H978.8M988.3 2468H978.8M988.3 2508.9H978.8M988.3 2549.6H978.8" stroke="#1a1a1a" stroke-width="2" fill="none"/>
<g clip-path="url(#cg)" fill="none" stroke-linejoin="round" stroke-linecap="round">
<path d="M178 2467.8 L365.3 2468 L366.3 2473.5 L367.3 2478.68 L368.3 2483.53 L369.3 2488.05 L370.3 2492.26 L371.3 2496.15 L372.3 2499.73 L373.3 2502.99 L374.3 2505.95 L375.3 2508.6 L376.3 2510.95 L377.3 2513 L378.3 2514.75 L379.3 2516.21 L380.3 2517.37 L381.3 2518.25 L382.3 2518.84 L383.3 2519.15 L384.3 2519.16 L385.3 2518.73 L386.3 2517.85 L387.3 2516.57 L388.3 2514.91 L389.3 2512.93 L390.3 2510.65 L391.3 2508.12 L392.3 2505.38 L393.3 2502.46 L394.3 2499.4 L395.3 2496.24 L396.3 2493.02 L397.3 2489.22 L398.3 2484.27 L399.3 2478.53 L400.3 2472.37 L401.3 2466.17 L402.3 2460.26 L403.3 2454.35 L404.3 2448.3 L405.3 2442.14 L406.3 2435.9 L407.3 2429.6 L408.3 2423.11 L409.3 2416.4 L410.3 2409.64 L411.3 2402.99 L412.3 2396.62 L413.3 2390.63 L414.3 2384.71 L415.3 2378.91 L416.3 2373.36 L417.3 2368.18 L418.3 2363.5 L419.3 2359.32 L420.3 2355.25 L421.3 2351.5 L422.3 2348.35 L423.3 2346.07 L424.3 2344.45 L425.3 2342.99 L426.3 2341.87 L427.3 2341.26 L427.7 2341.2 L428.7 2344.72 L429.7 2349.25 L430.7 2354.59 L431.7 2360.55 L432.7 2367.7 L433.7 2376.7 L434.7 2386.08 L435.7 2394.34 L436.7 2401.38 L437.7 2407.92 L438.7 2414.15 L439.7 2420.25 L440.7 2426.43 L441.7 2432.81 L442.7 2439.24 L443.7 2445.66 L444.7 2452.08 L445.7 2458.5 L446.7 2464.92 L447.6 2470.7 L448.6 2473.23 L449.6 2475.75 L450.6 2478.25 L451.6 2480.73 L452.6 2483.2 L453.6 2485.64 L454.6 2488.06 L455.6 2490.47 L456.6 2492.85 L457.6 2495.21 L458.6 2497.55 L459.6 2499.87 L460.6 2502.17 L461.6 2504.44 L462.6 2506.7 L463.6 2508.92 L464.6 2511.13 L465.6 2513.34 L466.6 2515.68 L467.6 2518.16 L468.6 2520.72 L469.6 2523.35 L470.6 2526.03 L471.6 2528.71 L472.6 2531.38 L473.6 2534 L474.6 2536.55 L475.6 2539.01 L476.6 2541.33 L477.6 2543.5 L478.6 2545.48 L479.6 2547.26 L480.6 2548.79 L481.6 2550.06 L482.6 2551.03 L483.6 2551.68 L484.6 2551.98 L485.6 2551.93 L486.6 2551.59 L487.6 2550.98 L488.6 2550.1 L489.6 2548.97 L490.6 2547.6 L491.6 2546 L492.6 2544.18 L493.6 2542.15 L494.6 2539.91 L495.6 2537.49 L496.6 2534.88 L497.6 2532.1 L498.6 2529.17 L499.6 2526.08 L500.6 2522.86 L501.6 2519.5 L502.6 2516.03 L503.6 2512.45 L504.6 2508.77 L505.6 2505 L506.6 2501.15 L507.6 2497.24 L508.6 2493.27 L509.6 2489.25 L510.6 2485.19 L511.6 2481.11 L512.6 2477.01 L513.6 2472.91 L514.6 2468.81 L515.6 2464.72 L516.6 2460.66 L517.6 2456.63 L518.6 2452.65 L519.6 2448.73 L520.6 2444.86 L521.6 2441.08 L522.6 2437.38 L523.6 2433.78 L524.6 2430.28 L525.6 2426.9 L526.6 2423.65 L527.6 2420.54 L528.6 2417.57 L529.6 2414.76 L530.6 2412.12 L531.6 2409.66 L532.6 2407.39 L533.6 2405.31 L534.6 2403.44 L535.6 2401.8 L536.6 2400.38 L537.6 2399.2 L538.6 2398.28 L539.6 2397.61 L540.6 2397.22 L541.6 2397.1 L542.6 2397.25 L543.6 2397.65 L544.6 2398.28 L545.6 2399.13 L546.6 2400.2 L547.6 2401.48 L548.6 2402.95 L549.6 2404.61 L550.6 2406.44 L551.6 2408.44 L552.6 2410.6 L553.6 2412.91 L554.6 2415.35 L555.6 2417.92 L556.6 2420.61 L557.6 2423.41 L558.6 2426.31 L559.6 2429.29 L560.6 2432.36 L561.6 2435.49 L562.6 2438.69 L563.6 2441.93 L564.6 2445.22 L565.6 2448.54 L566.6 2451.88 L567.6 2455.23 L568.6 2458.58 L569.6 2461.93 L570.6 2465.25 L571.6 2468.56 L572.6 2471.82 L573.6 2475.04 L574.6 2478.2 L575.6 2481.29 L576.6 2484.31 L577.6 2487.24 L578.6 2490.08 L579.6 2492.82 L580.6 2495.44 L581.6 2497.93 L582.6 2500.29 L583.6 2502.51 L584.6 2504.58 L585.6 2506.48 L586.6 2508.21 L587.6 2509.76 L588.6 2511.11 L589.6 2512.27 L590.6 2513.21 L591.6 2513.93 L592.6 2514.42 L593.6 2514.67 L594.6 2514.69 L595.6 2514.58 L596.6 2514.37 L597.6 2514.06 L598.6 2513.66 L599.6 2513.18 L600.6 2512.61 L601.6 2511.97 L602.6 2511.27 L603.6 2510.5 L604.6 2509.67 L605.6 2508.79 L606.6 2507.87 L607.6 2506.9 L608.6 2505.9 L609.6 2504.88 L610.6 2503.83 L611.6 2502.76 L612.6 2501.68 L613.6 2500.59 L614.6 2499.51 L615.6 2498.43 L616.6 2497.36 L617.6 2496.31 L618.6 2495.22 L619.6 2494 L620.6 2492.64 L621.6 2491.16 L622.6 2489.56 L623.6 2487.85 L624.6 2486.04 L625.6 2484.15 L626.6 2482.18 L627.6 2480.14 L628.6 2478.03 L629.6 2475.87 L630.6 2473.67 L631.6 2471.44 L632.6 2469.18 L633.6 2466.9 L634.6 2464.62 L635.6 2462.34 L636.6 2460.07 L637.6 2457.82 L638.6 2455.6 L639.6 2453.42 L640.6 2451.29 L641.6 2449.21 L642.6 2447.2 L643.6 2445.26 L644.6 2443.41 L645.6 2441.64 L646.6 2439.99 L647.6 2438.44 L648.6 2437.01 L649.6 2435.71 L650.6 2434.55 L651.6 2433.54 L652.6 2432.68 L653.6 2431.99 L654.6 2431.48 L655.6 2431.14 L656.6 2431 L657.6 2431.04 L658.6 2431.18 L659.6 2431.43 L660.6 2431.79 L661.6 2432.25 L662.6 2432.8 L663.6 2433.44 L664.6 2434.17 L665.6 2434.98 L666.6 2435.87 L667.6 2436.83 L668.6 2437.87 L669.6 2438.97 L670.6 2440.14 L671.6 2441.36 L672.6 2442.64 L673.6 2443.97 L674.6 2445.34 L675.6 2446.75 L676.6 2448.21 L677.6 2449.7 L678.6 2451.21 L679.6 2452.76 L680.6 2454.32 L681.6 2455.9 L682.6 2457.5 L683.6 2459.11 L684.6 2460.72 L685.6 2462.33 L686.6 2463.94 L687.6 2465.54 L688.6 2467.13 L689.6 2468.71 L690.6 2470.26 L691.6 2471.8 L692.6 2473.3 L693.6 2474.78 L694.6 2476.22 L695.6 2477.62 L696.6 2478.97 L697.6 2480.28 L698.6 2481.54 L699.6 2482.74 L700.6 2483.88 L701.6 2484.95 L702.6 2485.96 L703.6 2486.9 L704.6 2487.76 L705.6 2488.53 L706.6 2489.23 L707.6 2489.83 L708.6 2490.35 L709.6 2490.76 L710.6 2491.08 L711.6 2491.29 L712.6 2491.39 L713.6 2491.39 L714.6 2491.3 L715.6 2491.13 L716.6 2490.9 L717.6 2490.59 L718.6 2490.21 L719.6 2489.77 L720.6 2489.27 L721.6 2488.71 L722.6 2488.09 L723.6 2487.43 L724.6 2486.71 L725.6 2485.94 L726.6 2485.13 L727.6 2484.29 L728.6 2483.4 L729.6 2482.48 L730.6 2481.52 L731.6 2480.54 L732.6 2479.53 L733.6 2478.5 L734.6 2477.45 L735.6 2476.39 L736.6 2475.31 L737.6 2474.22 L738.6 2473.12 L739.6 2472.01 L740.6 2470.91 L741.6 2469.8 L742.6 2468.7 L743.6 2467.61 L744.6 2466.53 L745.6 2465.46 L746.6 2464.4 L747.6 2463.37 L748.6 2462.36 L749.6 2461.37 L750.6 2460.41 L751.6 2459.48 L752.6 2458.59 L753.6 2457.73 L754.6 2456.92 L755.6 2456.14 L756.6 2455.41 L757.6 2454.74 L758.6 2454.11 L759.6 2453.54 L760.6 2453.02 L761.6 2452.57 L762.6 2452.18 L763.6 2451.86 L764.6 2451.61 L765.6 2451.43 L766.6 2451.33 L767.6 2451.3 L768.6 2451.34 L769.6 2451.42 L770.6 2451.56 L771.6 2451.74 L772.6 2451.97 L773.6 2452.24 L774.6 2452.55 L775.6 2452.9 L776.6 2453.28 L777.6 2453.71 L778.6 2454.16 L779.6 2454.65 L780.6 2455.17 L781.6 2455.72 L782.6 2456.29 L783.6 2456.88 L784.6 2457.5 L785.6 2458.14 L786.6 2458.8 L787.6 2459.47 L788.6 2460.16 L789.6 2460.87 L790.6 2461.58 L791.6 2462.3 L792.6 2463.03 L793.6 2463.77 L794.6 2464.51 L795.6 2465.25 L796.6 2465.99 L797.6 2466.73 L798.6 2467.47 L799.6 2468.2 L800.6 2468.92 L801.6 2469.63 L802.6 2470.34 L803.6 2471.03 L804.6 2471.7 L805.6 2472.36 L806.6 2473 L807.6 2473.62 L808.6 2474.21 L809.6 2474.78 L810.6 2475.33 L811.6 2475.85 L812.6 2476.34 L813.6 2476.79 L814.6 2477.22 L815.6 2477.6 L816.6 2477.95 L817.6 2478.26 L818.6 2478.53 L819.6 2478.76 L820.6 2478.94 L821.6 2479.08 L822.6 2479.16 L823.6 2479.2 L824.6 2479.19 L825.6 2479.14 L826.6 2479.07 L827.6 2478.96 L828.6 2478.82 L829.6 2478.66 L830.6 2478.46 L831.6 2478.24 L832.6 2477.99 L833.6 2477.72 L834.6 2477.43 L835.6 2477.12 L836.6 2476.78 L837.6 2476.43 L838.6 2476.06 L839.6 2475.67 L840.6 2475.27 L841.6 2474.85 L842.6 2474.42 L843.6 2473.98 L844.6 2473.52 L845.6 2473.06 L846.6 2472.59 L847.6 2472.12 L848.6 2471.64 L849.6 2471.15 L850.6 2470.66 L851.6 2470.17 L852.6 2469.68 L853.6 2469.19 L854.6 2468.7 L855.6 2468.22 L856.6 2467.73 L857.6 2467.26 L858.6 2466.79 L859.6 2466.33 L860.6 2465.88 L861.6 2465.44 L862.6 2465.01 L863.6 2464.59 L864.6 2464.19 L865.6 2463.81 L866.6 2463.44 L867.6 2463.08 L868.6 2462.75 L869.6 2462.44 L870.6 2462.15 L871.6 2461.88 L872.6 2461.64 L873.6 2461.42 L874.6 2461.23 L875.6 2461.06 L876.6 2460.93 L877.6 2460.82 L878.6 2460.75 L879.6 2460.71 L880.6 2460.7 L881.6 2460.72 L882.6 2460.76 L883.6 2460.83 L884.6 2460.91 L885.6 2461.02 L886.6 2461.14 L887.6 2461.29 L888.6 2461.45 L889.6 2461.63 L890.6 2461.82 L891.6 2462.03 L892.6 2462.25 L893.6 2462.49 L894.6 2462.74 L895.6 2463 L896.6 2463.27 L897.6 2463.55 L898.6 2463.84 L899.6 2464.14 L900.6 2464.45 L901.6 2464.76 L902.6 2465.08 L903.6 2465.4 L904.6 2465.73 L905.6 2466.05 L906.6 2466.39 L907.6 2466.72 L908.6 2467.05 L909.6 2467.38 L910.6 2467.71 L911.6 2468.04 L912.6 2468.36 L913.6 2468.68 L914.6 2469 L915.6 2469.31 L916.6 2469.61 L917.6 2469.9 L918.6 2470.19 L919.6 2470.47 L920.6 2470.73 L921.6 2470.99 L922.6 2471.23 L923.6 2471.46 L924.6 2471.68 L925.6 2471.88 L926.6 2472.07 L927.6 2472.24 L928.6 2472.39 L929.6 2472.52 L930.6 2472.64 L931.6 2472.73 L932.6 2472.81 L933.6 2472.86 L934.6 2472.89 L935.6 2472.9 L936.6 2472.9 L937.6 2472.89 L938.6 2472.88 L939.6 2472.86 L940.6 2472.84 L941.6 2472.81 L942.6 2472.78 L943.6 2472.74 L944.6 2472.7 L945.6 2472.65 L946.6 2472.6 L947.6 2472.54 L948.6 2472.48 L949.6 2472.41 L950.6 2472.34 L951.6 2472.26 L952.6 2472.17 L953.6 2472.08 L954.6 2471.99 L955.6 2471.88 L956.6 2471.77 L957.6 2471.66 L958.6 2471.54 L959.6 2471.41 L960.6 2471.28 L961.6 2471.14 L962.6 2471 L963.6 2470.85 L964.6 2470.69 L965.6 2470.52 L966.6 2470.35 L967.6 2470.18 L968.6 2469.99 L969.6 2469.8 L970.6 2469.6 L971.6 2469.4 L972.6 2469.19 L973.6 2468.97 L974.6 2468.74 L975.6 2468.51 L976.6 2468.27 L977.6 2468.02 L978.6 2467.77 L979.6 2467.51 L980.6 2467.24 L981.6 2466.96 L982.6 2466.67 L983.6 2466.38 L984.6 2466.08 L985.6 2465.77 L986.6 2465.46 L987.6 2465.13 L988.3 2464.9" stroke="#0072BD" stroke-width="2.4"/>
</g>
<text id="yt_a0" x="138.11" y="173.38" font-size="54.5" fill="#262626">5</text>
<text id="yt_a1" x="139.22" y="309.31" font-size="54.5" fill="#262626">0</text>
<text id="yt_b0" x="139.22" y="518.51" font-size="54.5" fill="#262626">0</text>
<text id="yt_b1" x="100.38" y="584.96" font-size="54.5" fill="#262626" textLength="71.9" lengthAdjust="spacing">-10</text>
<text id="yt_b2" x="100.38" y="650.71" font-size="54.5" fill="#262626" textLength="71.9" lengthAdjust="spacing">-20</text>
<text id="yt_c0" x="94.04" y="879.41" font-size="54.5" fill="#262626" textLength="80.94" lengthAdjust="spacing">400</text>
<text id="yt_c1" x="92.7" y="985.76" font-size="54.5" fill="#262626" textLength="82.27" lengthAdjust="spacing">200</text>
<text id="yt_c2" x="139.22" y="1090.71" font-size="54.5" fill="#262626">0</text>
<text id="yt_d0" x="68.31" y="1257.81" font-size="54.5" fill="#262626" textLength="103.27" lengthAdjust="spacing">1000</text>
<text id="yt_d1" x="92.93" y="1394.31" font-size="54.5" fill="#262626" textLength="80.94" lengthAdjust="spacing">500</text>
<text id="yt_e0" x="95.81" y="1619.21" font-size="54.5" fill="#262626" textLength="79.17" lengthAdjust="spacing">100</text>
<text id="yt_e1" x="138.88" y="1681.96" font-size="54.5" fill="#262626">0</text>
<text id="yt_e2" x="77.98" y="1747.91" font-size="54.5" fill="#262626" textLength="97.7" lengthAdjust="spacing">-100</text>
<text id="yt_e3" x="77.98" y="1811.31" font-size="54.5" fill="#262626" textLength="97.7" lengthAdjust="spacing">-200</text>
<text id="yt_f0" x="93.7" y="1988.01" font-size="54.5" fill="#262626" textLength="81.27" lengthAdjust="spacing">200</text>
<text id="yt_f1" x="95.81" y="2064.26" font-size="54.5" fill="#262626" textLength="79.17" lengthAdjust="spacing">100</text>
<text id="yt_f2" x="138.88" y="2130.16" font-size="54.5" fill="#262626">0</text>
<text id="yt_f3" x="77.98" y="2193.16" font-size="54.5" fill="#262626" textLength="97.7" lengthAdjust="spacing">-100</text>
<text id="yt_g0" x="116.53" y="2394.51" font-size="54.5" fill="#262626" textLength="54.34" lengthAdjust="spacing">50</text>
<text id="yt_g1" x="139.07" y="2474.56" font-size="54.5" fill="#262626">0</text>
<text id="yt_g2" x="100.68" y="2550.81" font-size="54.5" fill="#262626" textLength="71.1" lengthAdjust="spacing">-50</text>
<text id="xt_a0" x="148.91" y="361.26" font-size="54.5" fill="#262626" textLength="90.93" lengthAdjust="spacing">1.79</text>
<text id="xt_a1" x="454.21" y="361.26" font-size="54.5" fill="#262626" textLength="116.12" lengthAdjust="spacing">1.795</text>
<text id="xt_a2" x="784.51" y="361.34" font-size="54.5" fill="#262626" textLength="63.27" lengthAdjust="spacing">1.8</text>
<text id="xt_b0" x="148.91" y="741.26" font-size="54.5" fill="#262626" textLength="90.93" lengthAdjust="spacing">1.79</text>
<text id="xt_b1" x="454.21" y="741.26" font-size="54.5" fill="#262626" textLength="116.12" lengthAdjust="spacing">1.795</text>
<text id="xt_b2" x="784.51" y="741.34" font-size="54.5" fill="#262626" textLength="63.27" lengthAdjust="spacing">1.8</text>
<text id="xt_c0" x="148.91" y="1142.26" font-size="54.5" fill="#262626" textLength="90.93" lengthAdjust="spacing">1.79</text>
<text id="xt_c1" x="454.21" y="1142.26" font-size="54.5" fill="#262626" textLength="116.12" lengthAdjust="spacing">1.795</text>
<text id="xt_c2" x="784.51" y="1142.34" font-size="54.5" fill="#262626" textLength="63.27" lengthAdjust="spacing">1.8</text>
<text id="xt_d0" x="150.21" y="1491.56" font-size="54.5" fill="#262626" textLength="90.93" lengthAdjust="spacing">1.79</text>
<text id="xt_d1" x="455.51" y="1491.56" font-size="54.5" fill="#262626" textLength="116.12" lengthAdjust="spacing">1.795</text>
<text id="xt_d2" x="785.81" y="1491.64" font-size="54.5" fill="#262626" textLength="63.27" lengthAdjust="spacing">1.8</text>
<text id="xt_e0" x="148.91" y="1869.26" font-size="54.5" fill="#262626" textLength="90.93" lengthAdjust="spacing">1.79</text>
<text id="xt_e1" x="454.21" y="1869.26" font-size="54.5" fill="#262626" textLength="116.12" lengthAdjust="spacing">1.795</text>
<text id="xt_e2" x="784.51" y="1869.34" font-size="54.5" fill="#262626" textLength="63.27" lengthAdjust="spacing">1.8</text>
<text id="xt_f0" x="148.91" y="2262.26" font-size="54.5" fill="#262626" textLength="90.93" lengthAdjust="spacing">1.79</text>
<text id="xt_f1" x="454.21" y="2262.26" font-size="54.5" fill="#262626" textLength="116.12" lengthAdjust="spacing">1.795</text>
<text id="xt_f2" x="784.51" y="2262.34" font-size="54.5" fill="#262626" textLength="63.27" lengthAdjust="spacing">1.8</text>
<text id="xt_g0" x="148.91" y="2628.26" font-size="54.5" fill="#262626" textLength="90.93" lengthAdjust="spacing">1.79</text>
<text id="xt_g1" x="454.21" y="2628.26" font-size="54.5" fill="#262626" textLength="116.12" lengthAdjust="spacing">1.795</text>
<text id="xt_g2" x="784.51" y="2628.34" font-size="54.5" fill="#262626" textLength="63.27" lengthAdjust="spacing">1.8</text>
<text id="tl_a" x="513.59" y="428.2" font-size="44.7" fill="#262626" textLength="153.67" lengthAdjust="spacing">Time (s)</text>
<text id="tl_b" x="513.19" y="810.5" font-size="44.7" fill="#262626" textLength="154.57" lengthAdjust="spacing">Time (s)</text>
<text id="tl_c" x="514.09" y="1208.7" font-size="44.7" fill="#262626" textLength="154.07" lengthAdjust="spacing">Time (s)</text>
<text id="tl_d" x="515.39" y="1560" font-size="44.7" fill="#262626" textLength="153.67" lengthAdjust="spacing">Time (s)</text>
<text id="tl_e" x="515.89" y="1935.7" font-size="44.7" fill="#262626" textLength="154.07" lengthAdjust="spacing">Time (s)</text>
<text id="tl_f" x="515.39" y="2328.7" font-size="44.7" fill="#262626" textLength="154.57" lengthAdjust="spacing">Time (s)</text>
<text id="tl_g" x="515.39" y="2690.4" font-size="44.7" fill="#262626" textLength="154.57" lengthAdjust="spacing">Time (s)</text>
<text id="pl_a" x="34.48" y="37.23" font-size="55" font-weight="bold" fill="#000" textLength="66.83" lengthAdjust="spacing">(a)</text>
<text id="pl_b" x="32.98" y="430.03" font-size="55" font-weight="bold" fill="#000" textLength="69.43" lengthAdjust="spacing">(b)</text>
<text id="pl_c" x="36.08" y="812.63" font-size="55" font-weight="bold" fill="#000" textLength="63.63" lengthAdjust="spacing">(c)</text>
<text id="pl_d" x="32.38" y="1190.18" font-size="55" font-weight="bold" fill="#000" textLength="70.53" lengthAdjust="spacing">(d)</text>
<text id="pl_e" x="35.78" y="1555.48" font-size="55" font-weight="bold" fill="#000" textLength="63.93" lengthAdjust="spacing">(e)</text>
<text id="pl_f" x="38.78" y="1932.56" font-size="55" font-weight="bold" fill="#000" textLength="55.63" lengthAdjust="spacing">(f)</text>
<text id="pl_g" x="34.48" y="2266.41" font-size="55" font-weight="bold" fill="#000" textLength="67.03" lengthAdjust="spacing">(g)</text>
<text id="ex_a0" x="180.99" y="69.57" font-size="62" fill="#262626">×</text>
<text id="ex_a1" x="232.97" y="65.52" font-size="55" fill="#262626" textLength="53.73" lengthAdjust="spacing">10</text>
<text id="ex_a2" x="281.19" y="42.7" font-size="42" fill="#262626">-</text>
<text id="ex_a3" x="294.14" y="41.64" font-size="43.5" fill="#262626">6</text>
<text id="ex_b0" x="180.99" y="453.17" font-size="62" fill="#262626">×</text>
<text id="ex_b1" x="232.97" y="449.12" font-size="55" fill="#262626" textLength="53.73" lengthAdjust="spacing">10</text>
<text id="ex_b2" x="281.19" y="426.3" font-size="42" fill="#262626">-</text>
<text id="ex_b3" x="294.14" y="425.24" font-size="43.5" fill="#262626">6</text>
<text id="yl_a0" x="50.79" y="261.76" transform="rotate(-90 50.79 261.76)" font-size="47" font-style="italic" fill="#000" textLength="36.49" lengthAdjust="spacingAndGlyphs">H</text>
<text id="yl_a1" x="63.28" y="224.1" transform="rotate(-90 63.28 224.1)" font-size="27" font-style="italic" fill="#000" textLength="21.92" lengthAdjust="spacing">fi</text>
<text id="yl_a2" x="30.16" y="215.63" transform="rotate(-90 30.16 215.63)" font-size="27" font-style="italic" fill="#000" textLength="9.79" lengthAdjust="spacingAndGlyphs">j</text>
<text id="yl_a3" x="50.95" y="183.58" transform="rotate(-90 50.95 183.58)" font-size="47" fill="#000">(m)</text>
<text id="yl_b0" x="51.44" y="631.58" transform="rotate(-90 51.44 631.58)" font-size="47" font-style="italic" fill="#000" textLength="34.6" lengthAdjust="spacingAndGlyphs">δ</text>
<text id="yl_b1" x="63.94" y="600.94" transform="rotate(-90 63.94 600.94)" font-size="27" font-style="italic" fill="#000" textLength="9.7" lengthAdjust="spacingAndGlyphs">i</text>
<text id="yl_b2" x="30.71" y="589.26" transform="rotate(-90 30.71 589.26)" font-size="27" font-style="italic" fill="#000" textLength="9.71" lengthAdjust="spacingAndGlyphs">j</text>
<text id="yl_b3" x="51.3" y="573.98" transform="rotate(-90 51.3 573.98)" font-size="47" fill="#000">(m)</text>
<text id="yl_c0" x="51.54" y="1023.42" transform="rotate(-90 51.54 1023.42)" font-size="47" font-style="italic" fill="#000" textLength="34.98" lengthAdjust="spacingAndGlyphs">N</text>
<text id="yl_c1" x="64.14" y="989.19" transform="rotate(-90 64.14 989.19)" font-size="27" font-style="italic" fill="#000">i</text>
<text id="yl_c2" x="30.71" y="980.06" transform="rotate(-90 30.71 980.06)" font-size="27" font-style="italic" fill="#000" textLength="9.71" lengthAdjust="spacingAndGlyphs">j</text>
<text id="yl_c3" x="51.5" y="964.87" transform="rotate(-90 51.5 964.87)" font-size="47" fill="#000">(N)</text>
<text id="yl_d0" x="51.14" y="1397.33" transform="rotate(-90 51.14 1397.33)" font-size="47" fill="#000" textLength="30.24" lengthAdjust="spacingAndGlyphs">Σ</text>
<text id="yl_d1" x="51.54" y="1369.02" transform="rotate(-90 51.54 1369.02)" font-size="47" font-style="italic" fill="#000" textLength="34.71" lengthAdjust="spacingAndGlyphs">N</text>
<text id="yl_d2" x="64.14" y="1335.24" transform="rotate(-90 64.14 1335.24)" font-size="27" font-style="italic" fill="#000">i</text>
<text id="yl_d3" x="30.71" y="1326.29" transform="rotate(-90 30.71 1326.29)" font-size="27" font-style="italic" fill="#000" textLength="9.64" lengthAdjust="spacingAndGlyphs">j</text>
<text id="yl_d4" x="51.3" y="1310.77" transform="rotate(-90 51.3 1310.77)" font-size="47" fill="#000">(N)</text>
<text id="yl_e0" x="51.59" y="1808.86" transform="rotate(-90 51.59 1808.86)" font-size="47" fill="#000">Σ</text>
<text id="yl_e1" x="51.54" y="1782.65" transform="rotate(-90 51.54 1782.65)" font-size="47" font-style="italic" fill="#000" textLength="31.47" lengthAdjust="spacingAndGlyphs">N</text>
<text id="yl_e2" x="64.24" y="1747.09" transform="rotate(-90 64.24 1747.09)" font-size="27" font-style="italic" fill="#000">i</text>
<text id="yl_e3" x="30.86" y="1738.44" transform="rotate(-90 30.86 1738.44)" font-size="27" font-style="italic" fill="#000" textLength="9.25" lengthAdjust="spacingAndGlyphs">j</text>
<text id="yl_e4" x="56.01" y="1715.65" transform="rotate(-90 56.01 1715.65)" font-size="47" fill="#000">_</text>
<text id="yl_e5" x="52.41" y="1678.73" transform="rotate(-90 52.41 1678.73)" font-size="47" font-style="italic" fill="#000">y</text>
<text id="yl_e6" x="51.95" y="1655.82" transform="rotate(-90 51.95 1655.82)" font-size="47" fill="#000">(N)</text>
<text id="yl_f0" x="50.59" y="2136.26" transform="rotate(-90 50.59 2136.26)" font-size="47" fill="#000">Σ</text>
<text id="yl_f1" x="50.59" y="2109.02" transform="rotate(-90 50.59 2109.02)" font-size="47" font-style="italic" fill="#000" textLength="32.18" lengthAdjust="spacingAndGlyphs">F</text>
<text id="yl_f2" x="63.48" y="2080.32" transform="rotate(-90 63.48 2080.32)" font-size="27" font-style="italic" fill="#000">y</text>
<text id="yl_f3" x="50.95" y="2062.07" transform="rotate(-90 50.95 2062.07)" font-size="47" fill="#000">(N)</text>
<text id="yl_g0" x="55.5" y="2633.66" transform="rotate(-90 55.5 2633.66)" font-size="47" fill="#000" textLength="322.56" lengthAdjust="spacing">Acceleration(m/s</text>
<text id="yl_g1" x="34.04" y="2310.85" transform="rotate(-90 34.04 2310.85)" font-size="27" fill="#000">2</text>
<text id="yl_g2" x="55.5" y="2292.05" transform="rotate(-90 55.5 2292.05)" font-size="47" fill="#000">)</text>
<g stroke="#0000FF" stroke-width="3" stroke-linecap="round" fill="none" stroke-dasharray="43.4 27.47">
<path d="M365 289V2558.5"/>
<path d="M396.6 72.8V2545"/>
<path d="M428.4 288.8V2545"/>
</g>
</svg>
</body></html>
